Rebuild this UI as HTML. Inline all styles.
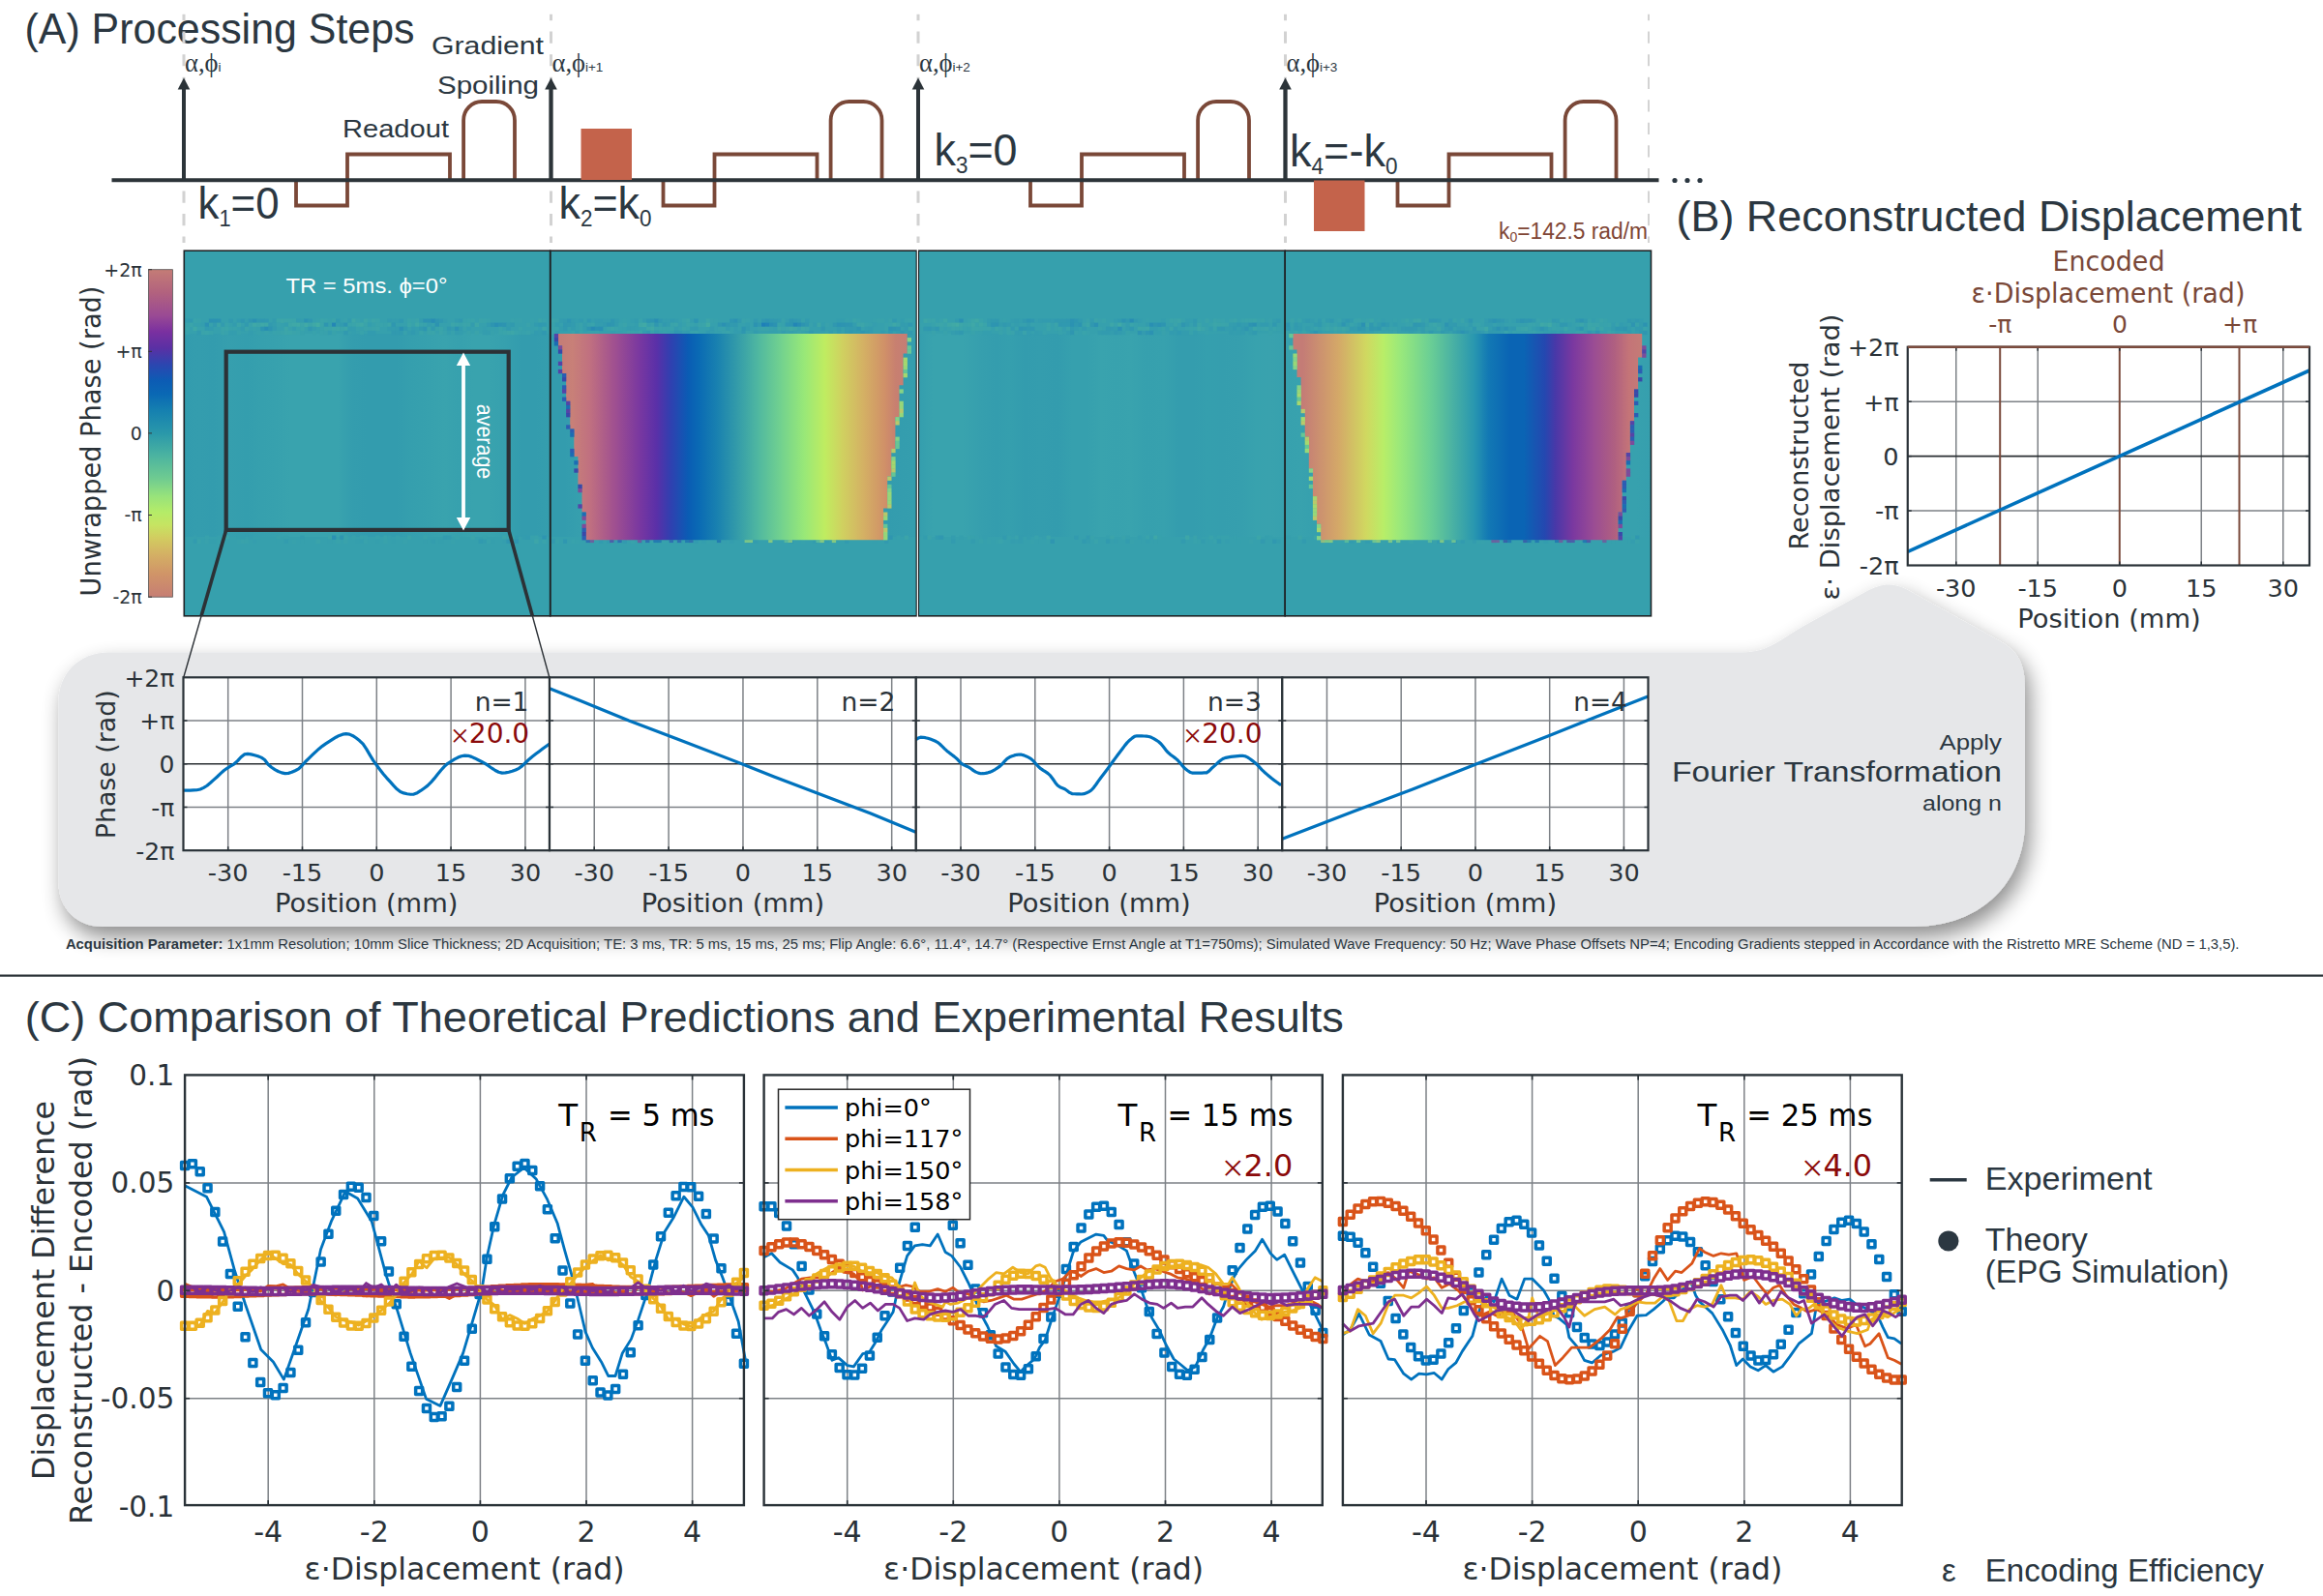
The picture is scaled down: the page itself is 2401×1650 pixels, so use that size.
<!DOCTYPE html>
<html><head><meta charset="utf-8"><title>Figure</title><style>html,body{margin:0;padding:0;background:#fff;overflow:hidden}svg{display:block}</style></head><body>
<svg width="2401" height="1650" viewBox="0 0 2401 1650"><defs><filter id="sh" x="-10%" y="-20%" width="125%" height="150%"><feGaussianBlur in="SourceAlpha" stdDeviation="11"/><feOffset dx="5" dy="11" result="o"/><feComponentTransfer><feFuncA type="linear" slope="0.45"/></feComponentTransfer><feMerge><feMergeNode/><feMergeNode in="SourceGraphic"/></feMerge></filter><linearGradient id="st0" gradientUnits="userSpaceOnUse" x1="190.3" y1="0" x2="568.7" y2="0"><stop offset="0" stop-color="#339cae"/><stop offset="0.04" stop-color="#349dae"/><stop offset="0.08" stop-color="#339cae"/><stop offset="0.12" stop-color="#369fae"/><stop offset="0.17" stop-color="#349eae"/><stop offset="0.21" stop-color="#36a0ae"/><stop offset="0.25" stop-color="#37a1ae"/><stop offset="0.29" stop-color="#39a3ae"/><stop offset="0.33" stop-color="#39a3ae"/><stop offset="0.38" stop-color="#39a3ae"/><stop offset="0.42" stop-color="#39a3ae"/><stop offset="0.46" stop-color="#349dae"/><stop offset="0.5" stop-color="#339cae"/><stop offset="0.54" stop-color="#339cae"/><stop offset="0.58" stop-color="#339cae"/><stop offset="0.62" stop-color="#359fae"/><stop offset="0.67" stop-color="#37a1ae"/><stop offset="0.71" stop-color="#39a3ae"/><stop offset="0.75" stop-color="#37a1ae"/><stop offset="0.79" stop-color="#39a3ae"/><stop offset="0.83" stop-color="#39a3ae"/><stop offset="0.88" stop-color="#36a0ae"/><stop offset="0.92" stop-color="#339cae"/><stop offset="0.96" stop-color="#339cae"/><stop offset="1" stop-color="#359eae"/></linearGradient><linearGradient id="st1" gradientUnits="userSpaceOnUse" x1="568.7" y1="0" x2="947.4" y2="0"><stop offset="0" stop-color="#339cae"/><stop offset="0.04" stop-color="#339cae"/><stop offset="0.08" stop-color="#369fae"/><stop offset="0.12" stop-color="#38a2ae"/><stop offset="0.17" stop-color="#39a3ae"/><stop offset="0.21" stop-color="#39a3ae"/><stop offset="0.25" stop-color="#36a0ae"/><stop offset="0.29" stop-color="#37a1ae"/><stop offset="0.33" stop-color="#359eae"/><stop offset="0.38" stop-color="#349dae"/><stop offset="0.42" stop-color="#339cae"/><stop offset="0.46" stop-color="#359fae"/><stop offset="0.5" stop-color="#339cae"/><stop offset="0.54" stop-color="#37a1ae"/><stop offset="0.58" stop-color="#38a2ae"/><stop offset="0.62" stop-color="#39a3ae"/><stop offset="0.67" stop-color="#37a1ae"/><stop offset="0.71" stop-color="#37a1ae"/><stop offset="0.75" stop-color="#36a0ae"/><stop offset="0.79" stop-color="#349dae"/><stop offset="0.83" stop-color="#339cae"/><stop offset="0.88" stop-color="#339cae"/><stop offset="0.92" stop-color="#339cae"/><stop offset="0.96" stop-color="#349dae"/><stop offset="1" stop-color="#359eae"/></linearGradient><linearGradient id="st2" gradientUnits="userSpaceOnUse" x1="949.3" y1="0" x2="1328.2" y2="0"><stop offset="0" stop-color="#349eae"/><stop offset="0.04" stop-color="#39a3ae"/><stop offset="0.08" stop-color="#39a3ae"/><stop offset="0.12" stop-color="#39a3ae"/><stop offset="0.17" stop-color="#369fae"/><stop offset="0.21" stop-color="#349dae"/><stop offset="0.25" stop-color="#359fae"/><stop offset="0.29" stop-color="#339cae"/><stop offset="0.33" stop-color="#349dae"/><stop offset="0.38" stop-color="#339cae"/><stop offset="0.42" stop-color="#36a0ae"/><stop offset="0.46" stop-color="#36a0ae"/><stop offset="0.5" stop-color="#39a3ae"/><stop offset="0.54" stop-color="#38a2ae"/><stop offset="0.58" stop-color="#39a3ae"/><stop offset="0.62" stop-color="#36a0ae"/><stop offset="0.67" stop-color="#37a1ae"/><stop offset="0.71" stop-color="#349dae"/><stop offset="0.75" stop-color="#349dae"/><stop offset="0.79" stop-color="#359fae"/><stop offset="0.83" stop-color="#359eae"/><stop offset="0.88" stop-color="#369fae"/><stop offset="0.92" stop-color="#38a2ae"/><stop offset="0.96" stop-color="#39a2ae"/><stop offset="1" stop-color="#37a1ae"/></linearGradient><linearGradient id="st3" gradientUnits="userSpaceOnUse" x1="1328.2" y1="0" x2="1706.5" y2="0"><stop offset="0" stop-color="#37a1ae"/><stop offset="0.04" stop-color="#38a2ae"/><stop offset="0.08" stop-color="#36a0ae"/><stop offset="0.12" stop-color="#349dae"/><stop offset="0.17" stop-color="#36a0ae"/><stop offset="0.21" stop-color="#339cae"/><stop offset="0.25" stop-color="#359eae"/><stop offset="0.29" stop-color="#349dae"/><stop offset="0.33" stop-color="#38a2ae"/><stop offset="0.38" stop-color="#39a3ae"/><stop offset="0.42" stop-color="#39a3ae"/><stop offset="0.46" stop-color="#39a3ae"/><stop offset="0.5" stop-color="#39a3ae"/><stop offset="0.54" stop-color="#39a3ae"/><stop offset="0.58" stop-color="#339cae"/><stop offset="0.62" stop-color="#349dae"/><stop offset="0.67" stop-color="#339dae"/><stop offset="0.71" stop-color="#339cae"/><stop offset="0.75" stop-color="#38a1ae"/><stop offset="0.79" stop-color="#38a2ae"/><stop offset="0.83" stop-color="#38a1ae"/><stop offset="0.88" stop-color="#38a2ae"/><stop offset="0.92" stop-color="#37a1ae"/><stop offset="0.96" stop-color="#37a1ae"/><stop offset="1" stop-color="#369fae"/></linearGradient><linearGradient id="g2" gradientUnits="userSpaceOnUse" x1="577" y1="0" x2="940" y2="0"><stop offset="0" stop-color="#c47c76"/><stop offset="0.04" stop-color="#c88078"/><stop offset="0.09" stop-color="#c07080"/><stop offset="0.16" stop-color="#a05090"/><stop offset="0.23" stop-color="#7a38a0"/><stop offset="0.28" stop-color="#5a30a8"/><stop offset="0.32" stop-color="#3040b0"/><stop offset="0.37" stop-color="#0a5cb4"/><stop offset="0.4" stop-color="#0a6ab4"/><stop offset="0.45" stop-color="#1880b0"/><stop offset="0.52" stop-color="#38a0a8"/><stop offset="0.57" stop-color="#50b8a0"/><stop offset="0.63" stop-color="#70d090"/><stop offset="0.7" stop-color="#98e878"/><stop offset="0.76" stop-color="#c0ec60"/><stop offset="0.81" stop-color="#d0d060"/><stop offset="0.87" stop-color="#d4b064"/><stop offset="0.93" stop-color="#d09068"/><stop offset="0.96" stop-color="#c88070"/><stop offset="1" stop-color="#c47c76"/></linearGradient><linearGradient id="g4" gradientUnits="userSpaceOnUse" x1="1336" y1="0" x2="1698" y2="0"><stop offset="0" stop-color="#c47c76"/><stop offset="0.03" stop-color="#c47c76"/><stop offset="0.13" stop-color="#d4a868"/><stop offset="0.21" stop-color="#d0d860"/><stop offset="0.26" stop-color="#b8ee68"/><stop offset="0.31" stop-color="#98e87c"/><stop offset="0.39" stop-color="#6cd094"/><stop offset="0.46" stop-color="#48b0a4"/><stop offset="0.52" stop-color="#2896b0"/><stop offset="0.56" stop-color="#1278b4"/><stop offset="0.62" stop-color="#0a64b4"/><stop offset="0.66" stop-color="#0a64b4"/><stop offset="0.72" stop-color="#2448b0"/><stop offset="0.75" stop-color="#4838a8"/><stop offset="0.8" stop-color="#7a38a0"/><stop offset="0.86" stop-color="#9a4c94"/><stop offset="0.92" stop-color="#b06080"/><stop offset="0.96" stop-color="#c47478"/><stop offset="1" stop-color="#c47c76"/></linearGradient><linearGradient id="gcb" gradientUnits="userSpaceOnUse" x1="0" y1="278.7" x2="0" y2="617.2"><stop offset="0" stop-color="#c47c76"/><stop offset="0.07" stop-color="#b2627e"/><stop offset="0.14" stop-color="#9a4a94"/><stop offset="0.19" stop-color="#7a30a0"/><stop offset="0.24" stop-color="#5a30a4"/><stop offset="0.29" stop-color="#2c46b0"/><stop offset="0.34" stop-color="#0c5cb4"/><stop offset="0.38" stop-color="#0a68b4"/><stop offset="0.43" stop-color="#1580b0"/><stop offset="0.5" stop-color="#2a98aa"/><stop offset="0.57" stop-color="#4cb4a0"/><stop offset="0.64" stop-color="#70cc90"/><stop offset="0.69" stop-color="#96e27c"/><stop offset="0.74" stop-color="#b4ec68"/><stop offset="0.78" stop-color="#c6e462"/><stop offset="0.82" stop-color="#d2cc60"/><stop offset="0.87" stop-color="#d4b064"/><stop offset="0.93" stop-color="#d09468"/><stop offset="1" stop-color="#c67e74"/></linearGradient><clipPath id="cc0"><rect x="185.1" y="1111.4" width="589.8" height="444.7"/></clipPath><clipPath id="cc1"><rect x="783.6" y="1111.4" width="589.2" height="444.7"/></clipPath><clipPath id="cc2"><rect x="1381.9" y="1111.4" width="589.8" height="444.7"/></clipPath></defs><rect width="2401" height="1650" fill="#ffffff"/><text x="25.5" y="45.3" font-family='"Liberation Sans", sans-serif' font-size="45" fill="#2b3741" textLength="403" lengthAdjust="spacingAndGlyphs">(A) Processing Steps</text>
<line x1="190" y1="14.7" x2="190" y2="251" stroke="#d2d2d2" stroke-width="3" stroke-dasharray="12.2 11.35" stroke-dashoffset="5.65"/>
<line x1="569.5" y1="14.7" x2="569.5" y2="251" stroke="#d2d2d2" stroke-width="3" stroke-dasharray="12.2 11.35" stroke-dashoffset="5.65"/>
<line x1="949" y1="14.7" x2="949" y2="251" stroke="#d2d2d2" stroke-width="3" stroke-dasharray="12.2 11.35" stroke-dashoffset="5.65"/>
<line x1="1328.5" y1="14.7" x2="1328.5" y2="251" stroke="#d2d2d2" stroke-width="3" stroke-dasharray="12.2 11.35" stroke-dashoffset="5.65"/>
<line x1="1704" y1="14.7" x2="1704" y2="251" stroke="#cfcfcf" stroke-width="1.8" stroke-dasharray="12.2 11.35" stroke-dashoffset="5.65"/>
<polyline points="306,186 306,212.5 359,212.5 359,159.5 465,159.5 465,186" fill="none" stroke="#7a4838" stroke-width="3.8" stroke-linejoin="miter"/>
<path d="M479.1,186 L479.1,124.4 A19,19.4 0 0 1 498.1,105 L513,105 A19,19.4 0 0 1 532,124.4 L532,186" fill="none" stroke="#7a4838" stroke-width="3.8"/>
<line x1="190" y1="186" x2="190" y2="91" stroke="#2c3439" stroke-width="3.8"/>
<path d="M190,80.5 L183.7,92.5 L196.3,92.5 Z" fill="#2c3439" stroke="none" stroke-width="1"/>
<text x="191" y="73.6" font-family='"Liberation Serif", serif' font-size="26.5" fill="#2b3741">&#945;,&#981;<tspan font-family='"Liberation Sans", sans-serif' font-size="13.5">i</tspan></text>
<polyline points="685.5,186 685.5,212.5 738.5,212.5 738.5,159.5 844.5,159.5 844.5,186" fill="none" stroke="#7a4838" stroke-width="3.8" stroke-linejoin="miter"/>
<path d="M858.6,186 L858.6,124.4 A19,19.4 0 0 1 877.6,105 L892.5,105 A19,19.4 0 0 1 911.5,124.4 L911.5,186" fill="none" stroke="#7a4838" stroke-width="3.8"/>
<line x1="569.5" y1="186" x2="569.5" y2="91" stroke="#2c3439" stroke-width="3.8"/>
<path d="M569.5,80.5 L563.2,92.5 L575.8,92.5 Z" fill="#2c3439" stroke="none" stroke-width="1"/>
<text x="570.5" y="73.6" font-family='"Liberation Serif", serif' font-size="26.5" fill="#2b3741">&#945;,&#981;<tspan font-family='"Liberation Sans", sans-serif' font-size="13.5">i+1</tspan></text>
<polyline points="1065,186 1065,212.5 1118,212.5 1118,159.5 1224,159.5 1224,186" fill="none" stroke="#7a4838" stroke-width="3.8" stroke-linejoin="miter"/>
<path d="M1238.1,186 L1238.1,124.4 A19,19.4 0 0 1 1257.1,105 L1272,105 A19,19.4 0 0 1 1291,124.4 L1291,186" fill="none" stroke="#7a4838" stroke-width="3.8"/>
<line x1="949" y1="186" x2="949" y2="91" stroke="#2c3439" stroke-width="3.8"/>
<path d="M949,80.5 L942.7,92.5 L955.3,92.5 Z" fill="#2c3439" stroke="none" stroke-width="1"/>
<text x="950" y="73.6" font-family='"Liberation Serif", serif' font-size="26.5" fill="#2b3741">&#945;,&#981;<tspan font-family='"Liberation Sans", sans-serif' font-size="13.5">i+2</tspan></text>
<polyline points="1444.5,186 1444.5,212.5 1497.5,212.5 1497.5,159.5 1603.5,159.5 1603.5,186" fill="none" stroke="#7a4838" stroke-width="3.8" stroke-linejoin="miter"/>
<path d="M1617.6,186 L1617.6,124.4 A19,19.4 0 0 1 1636.6,105 L1651.5,105 A19,19.4 0 0 1 1670.5,124.4 L1670.5,186" fill="none" stroke="#7a4838" stroke-width="3.8"/>
<line x1="1328.5" y1="186" x2="1328.5" y2="91" stroke="#2c3439" stroke-width="3.8"/>
<path d="M1328.5,80.5 L1322.2,92.5 L1334.8,92.5 Z" fill="#2c3439" stroke="none" stroke-width="1"/>
<text x="1329.5" y="73.6" font-family='"Liberation Serif", serif' font-size="26.5" fill="#2b3741">&#945;,&#981;<tspan font-family='"Liberation Sans", sans-serif' font-size="13.5">i+3</tspan></text>
<line x1="115.5" y1="186.2" x2="1714.5" y2="186.2" stroke="#2c3439" stroke-width="4"/>
<line x1="190" y1="186" x2="190" y2="91" stroke="#2c3439" stroke-width="3.8"/>
<line x1="569.5" y1="186" x2="569.5" y2="91" stroke="#2c3439" stroke-width="3.8"/>
<line x1="949" y1="186" x2="949" y2="91" stroke="#2c3439" stroke-width="3.8"/>
<line x1="1328.5" y1="186" x2="1328.5" y2="91" stroke="#2c3439" stroke-width="3.8"/>
<rect x="600.5" y="133" width="52.5" height="53" fill="#c4634b"/>
<rect x="1358" y="186.5" width="52.5" height="52.5" fill="#c4634b"/>
<text x="354" y="141.6" font-family='"Liberation Sans", sans-serif' font-size="26.5" fill="#2b3741" textLength="110" lengthAdjust="spacingAndGlyphs">Readout</text>
<text x="446" y="55.5" font-family='"Liberation Sans", sans-serif' font-size="26.5" fill="#2b3741" textLength="116" lengthAdjust="spacingAndGlyphs">Gradient</text>
<text x="452" y="96.9" font-family='"Liberation Sans", sans-serif' font-size="26.5" fill="#2b3741" textLength="105" lengthAdjust="spacingAndGlyphs">Spoiling</text>
<text x="204.5" y="226" font-family='"Liberation Sans", sans-serif' font-size="47" fill="#2b3741" textLength="84" lengthAdjust="spacingAndGlyphs">k<tspan font-size="23.5" dy="8">1</tspan><tspan dy="-8">=0</tspan></text>
<text x="577.5" y="226" font-family='"Liberation Sans", sans-serif' font-size="47" fill="#2b3741" textLength="96" lengthAdjust="spacingAndGlyphs">k<tspan font-size="23.5" dy="8">2</tspan><tspan dy="-8">=k</tspan><tspan font-size="23.5" dy="8">0</tspan></text>
<text x="965.5" y="170.5" font-family='"Liberation Sans", sans-serif' font-size="47" fill="#2b3741" textLength="86" lengthAdjust="spacingAndGlyphs">k<tspan font-size="23.5" dy="8">3</tspan><tspan dy="-8">=0</tspan></text>
<text x="1333" y="172" font-family='"Liberation Sans", sans-serif' font-size="47" fill="#2b3741" textLength="111.5" lengthAdjust="spacingAndGlyphs">k<tspan font-size="23.5" dy="8">4</tspan><tspan dy="-8">=-k</tspan><tspan font-size="23.5" dy="8">0</tspan></text>
<circle cx="1731" cy="186.5" r="2.6" fill="#2b3741"/>
<circle cx="1744" cy="186.5" r="2.6" fill="#2b3741"/>
<circle cx="1757" cy="186.5" r="2.6" fill="#2b3741"/>
<text x="1549" y="246.9" font-family='"Liberation Sans", sans-serif' font-size="23.5" textLength="154" lengthAdjust="spacingAndGlyphs" fill="#7f4636">k<tspan font-size="14.5" dy="3.5">0</tspan><tspan dy="-3.5">=142.5 rad/m</tspan></text>
<path d="M112,674.5 L1800,674.5 C1830,674.5 1840,660 1870,644 L1928,612 C1944,603 1956,602 1970,609 L2062,660 C2085,672 2093,684 2093,712 L2093,848 C2093,915 2045,958 1978,958 L106,958 C80,958 60.5,940 60.5,912 L60.5,726 C60.5,696 82,674.5 112,674.5 Z" fill="#e6e7e9" stroke="none" stroke-width="1" filter="url(#sh)"/>
<rect x="190.3" y="259.2" width="378.4" height="377.6" fill="#36a0ad"/>
<rect x="568.7" y="259.2" width="378.7" height="377.6" fill="#36a0ad"/>
<rect x="949.3" y="259.2" width="378.9" height="377.6" fill="#36a0ad"/>
<rect x="1328.2" y="259.2" width="378.3" height="377.6" fill="#36a0ad"/>
<rect x="191.3" y="345" width="376.4" height="210" fill="url(#st0)"/>
<rect x="191.3" y="329.5" width="4.4" height="4.4" fill="#339cae"/>
<rect x="195.4" y="329.5" width="4.4" height="4.4" fill="#3199af"/>
<rect x="199.5" y="329.5" width="4.4" height="4.4" fill="#39a3ab"/>
<rect x="203.6" y="329.5" width="4.4" height="4.4" fill="#38a2ab"/>
<rect x="215.9" y="329.5" width="4.4" height="4.4" fill="#2b91b2"/>
<rect x="220" y="329.5" width="4.4" height="4.4" fill="#2b92b2"/>
<rect x="224.1" y="329.5" width="4.4" height="4.4" fill="#2c93b2"/>
<rect x="236.4" y="329.5" width="4.4" height="4.4" fill="#329aaf"/>
<rect x="244.6" y="329.5" width="4.4" height="4.4" fill="#329baf"/>
<rect x="248.7" y="329.5" width="4.4" height="4.4" fill="#2f97b0"/>
<rect x="252.8" y="329.5" width="4.4" height="4.4" fill="#349eae"/>
<rect x="256.9" y="329.5" width="4.4" height="4.4" fill="#2f96b0"/>
<rect x="261" y="329.5" width="4.4" height="4.4" fill="#2b91b2"/>
<rect x="265.1" y="329.5" width="4.4" height="4.4" fill="#3098b0"/>
<rect x="269.2" y="329.5" width="4.4" height="4.4" fill="#2f97b0"/>
<rect x="273.3" y="329.5" width="4.4" height="4.4" fill="#3098b0"/>
<rect x="281.5" y="329.5" width="4.4" height="4.4" fill="#339cae"/>
<rect x="285.6" y="329.5" width="4.4" height="4.4" fill="#3ba5a9"/>
<rect x="289.7" y="329.5" width="4.4" height="4.4" fill="#3da6a8"/>
<rect x="293.8" y="329.5" width="4.4" height="4.4" fill="#3ca5a9"/>
<rect x="297.9" y="329.5" width="4.4" height="4.4" fill="#3ba5a9"/>
<rect x="302" y="329.5" width="4.4" height="4.4" fill="#3aa4aa"/>
<rect x="306.1" y="329.5" width="4.4" height="4.4" fill="#339caf"/>
<rect x="310.2" y="329.5" width="4.4" height="4.4" fill="#349dae"/>
<rect x="314.3" y="329.5" width="4.4" height="4.4" fill="#2c93b1"/>
<rect x="318.4" y="329.5" width="4.4" height="4.4" fill="#3098b0"/>
<rect x="326.6" y="329.5" width="4.4" height="4.4" fill="#37a1ac"/>
<rect x="330.7" y="329.5" width="4.4" height="4.4" fill="#3aa4aa"/>
<rect x="334.8" y="329.5" width="4.4" height="4.4" fill="#39a3ab"/>
<rect x="338.9" y="329.5" width="4.4" height="4.4" fill="#37a1ac"/>
<rect x="343" y="329.5" width="4.4" height="4.4" fill="#3aa3aa"/>
<rect x="347.1" y="329.5" width="4.4" height="4.4" fill="#319aaf"/>
<rect x="355.3" y="329.5" width="4.4" height="4.4" fill="#38a1ac"/>
<rect x="359.4" y="329.5" width="4.4" height="4.4" fill="#339cae"/>
<rect x="363.5" y="329.5" width="4.4" height="4.4" fill="#3ea7a7"/>
<rect x="367.6" y="329.5" width="4.4" height="4.4" fill="#38a2ab"/>
<rect x="375.8" y="329.5" width="4.4" height="4.4" fill="#3da6a8"/>
<rect x="379.9" y="329.5" width="4.4" height="4.4" fill="#38a2ac"/>
<rect x="384" y="329.5" width="4.4" height="4.4" fill="#3ca5a9"/>
<rect x="388.1" y="329.5" width="4.4" height="4.4" fill="#3aa4aa"/>
<rect x="400.4" y="329.5" width="4.4" height="4.4" fill="#339baf"/>
<rect x="404.5" y="329.5" width="4.4" height="4.4" fill="#349dae"/>
<rect x="408.6" y="329.5" width="4.4" height="4.4" fill="#349dae"/>
<rect x="412.7" y="329.5" width="4.4" height="4.4" fill="#3099b0"/>
<rect x="420.9" y="329.5" width="4.4" height="4.4" fill="#39a3aa"/>
<rect x="425" y="329.5" width="4.4" height="4.4" fill="#38a2ac"/>
<rect x="429.1" y="329.5" width="4.4" height="4.4" fill="#3aa3aa"/>
<rect x="433.2" y="329.5" width="4.4" height="4.4" fill="#339cae"/>
<rect x="437.3" y="329.5" width="4.4" height="4.4" fill="#2c92b2"/>
<rect x="441.4" y="329.5" width="4.4" height="4.4" fill="#2c92b2"/>
<rect x="445.5" y="329.5" width="4.4" height="4.4" fill="#288db4"/>
<rect x="449.6" y="329.5" width="4.4" height="4.4" fill="#2e95b1"/>
<rect x="453.7" y="329.5" width="4.4" height="4.4" fill="#3098b0"/>
<rect x="457.8" y="329.5" width="4.4" height="4.4" fill="#349dae"/>
<rect x="470.1" y="329.5" width="4.4" height="4.4" fill="#339cae"/>
<rect x="474.2" y="329.5" width="4.4" height="4.4" fill="#3199af"/>
<rect x="478.3" y="329.5" width="4.4" height="4.4" fill="#38a2ab"/>
<rect x="482.4" y="329.5" width="4.4" height="4.4" fill="#39a3ab"/>
<rect x="486.5" y="329.5" width="4.4" height="4.4" fill="#39a3ab"/>
<rect x="494.7" y="329.5" width="4.4" height="4.4" fill="#3aa3aa"/>
<rect x="498.8" y="329.5" width="4.4" height="4.4" fill="#39a3ab"/>
<rect x="502.9" y="329.5" width="4.4" height="4.4" fill="#38a2ab"/>
<rect x="527.5" y="329.5" width="4.4" height="4.4" fill="#38a2ac"/>
<rect x="531.6" y="329.5" width="4.4" height="4.4" fill="#37a1ac"/>
<rect x="535.7" y="329.5" width="4.4" height="4.4" fill="#38a1ac"/>
<rect x="548" y="329.5" width="4.4" height="4.4" fill="#37a1ac"/>
<rect x="556.2" y="329.5" width="4.4" height="4.4" fill="#3ba4a9"/>
<rect x="560.3" y="329.5" width="4.4" height="4.4" fill="#38a2ac"/>
<rect x="191.3" y="333.6" width="4.4" height="4.4" fill="#38a2ab"/>
<rect x="195.4" y="333.6" width="4.4" height="4.4" fill="#3aa4aa"/>
<rect x="207.7" y="333.6" width="4.4" height="4.4" fill="#349eae"/>
<rect x="211.8" y="333.6" width="4.4" height="4.4" fill="#2b91b2"/>
<rect x="215.9" y="333.6" width="4.4" height="4.4" fill="#37a1ac"/>
<rect x="220" y="333.6" width="4.4" height="4.4" fill="#329aaf"/>
<rect x="224.1" y="333.6" width="4.4" height="4.4" fill="#3ba4aa"/>
<rect x="228.2" y="333.6" width="4.4" height="4.4" fill="#329baf"/>
<rect x="232.3" y="333.6" width="4.4" height="4.4" fill="#39a3ab"/>
<rect x="240.5" y="333.6" width="4.4" height="4.4" fill="#339cae"/>
<rect x="244.6" y="333.6" width="4.4" height="4.4" fill="#3ba4aa"/>
<rect x="252.8" y="333.6" width="4.4" height="4.4" fill="#319aaf"/>
<rect x="256.9" y="333.6" width="4.4" height="4.4" fill="#39a2ab"/>
<rect x="261" y="333.6" width="4.4" height="4.4" fill="#3fa8a7"/>
<rect x="265.1" y="333.6" width="4.4" height="4.4" fill="#3ca5a9"/>
<rect x="269.2" y="333.6" width="4.4" height="4.4" fill="#3fa8a7"/>
<rect x="273.3" y="333.6" width="4.4" height="4.4" fill="#3ea7a7"/>
<rect x="277.4" y="333.6" width="4.4" height="4.4" fill="#329aaf"/>
<rect x="281.5" y="333.6" width="4.4" height="4.4" fill="#349dae"/>
<rect x="285.6" y="333.6" width="4.4" height="4.4" fill="#38a1ac"/>
<rect x="293.8" y="333.6" width="4.4" height="4.4" fill="#349eae"/>
<rect x="297.9" y="333.6" width="4.4" height="4.4" fill="#3da6a8"/>
<rect x="302" y="333.6" width="4.4" height="4.4" fill="#3fa8a7"/>
<rect x="306.1" y="333.6" width="4.4" height="4.4" fill="#40a9a6"/>
<rect x="310.2" y="333.6" width="4.4" height="4.4" fill="#3ca5a9"/>
<rect x="314.3" y="333.6" width="4.4" height="4.4" fill="#41a9a5"/>
<rect x="318.4" y="333.6" width="4.4" height="4.4" fill="#3ba4a9"/>
<rect x="322.5" y="333.6" width="4.4" height="4.4" fill="#3fa8a6"/>
<rect x="326.6" y="333.6" width="4.4" height="4.4" fill="#43aca4"/>
<rect x="330.7" y="333.6" width="4.4" height="4.4" fill="#3aa4aa"/>
<rect x="334.8" y="333.6" width="4.4" height="4.4" fill="#2e96b0"/>
<rect x="343" y="333.6" width="4.4" height="4.4" fill="#2487b5"/>
<rect x="347.1" y="333.6" width="4.4" height="4.4" fill="#349dae"/>
<rect x="351.2" y="333.6" width="4.4" height="4.4" fill="#329baf"/>
<rect x="355.3" y="333.6" width="4.4" height="4.4" fill="#2d94b1"/>
<rect x="359.4" y="333.6" width="4.4" height="4.4" fill="#39a3ab"/>
<rect x="363.5" y="333.6" width="4.4" height="4.4" fill="#3aa4aa"/>
<rect x="367.6" y="333.6" width="4.4" height="4.4" fill="#3da6a8"/>
<rect x="371.7" y="333.6" width="4.4" height="4.4" fill="#3fa8a7"/>
<rect x="375.8" y="333.6" width="4.4" height="4.4" fill="#3aa3aa"/>
<rect x="379.9" y="333.6" width="4.4" height="4.4" fill="#349eae"/>
<rect x="384" y="333.6" width="4.4" height="4.4" fill="#37a1ac"/>
<rect x="388.1" y="333.6" width="4.4" height="4.4" fill="#3aa3aa"/>
<rect x="392.2" y="333.6" width="4.4" height="4.4" fill="#39a3ab"/>
<rect x="396.3" y="333.6" width="4.4" height="4.4" fill="#38a2ab"/>
<rect x="400.4" y="333.6" width="4.4" height="4.4" fill="#3ca5a9"/>
<rect x="404.5" y="333.6" width="4.4" height="4.4" fill="#2f97b0"/>
<rect x="420.9" y="333.6" width="4.4" height="4.4" fill="#3ba5a9"/>
<rect x="425" y="333.6" width="4.4" height="4.4" fill="#38a2ab"/>
<rect x="429.1" y="333.6" width="4.4" height="4.4" fill="#3fa8a7"/>
<rect x="433.2" y="333.6" width="4.4" height="4.4" fill="#39a3ab"/>
<rect x="437.3" y="333.6" width="4.4" height="4.4" fill="#38a2ab"/>
<rect x="441.4" y="333.6" width="4.4" height="4.4" fill="#349dae"/>
<rect x="449.6" y="333.6" width="4.4" height="4.4" fill="#2c93b1"/>
<rect x="466" y="333.6" width="4.4" height="4.4" fill="#3ca5a9"/>
<rect x="470.1" y="333.6" width="4.4" height="4.4" fill="#3aa4aa"/>
<rect x="474.2" y="333.6" width="4.4" height="4.4" fill="#38a2ab"/>
<rect x="478.3" y="333.6" width="4.4" height="4.4" fill="#3ba4aa"/>
<rect x="482.4" y="333.6" width="4.4" height="4.4" fill="#3ba4a9"/>
<rect x="486.5" y="333.6" width="4.4" height="4.4" fill="#339cae"/>
<rect x="490.6" y="333.6" width="4.4" height="4.4" fill="#3da6a8"/>
<rect x="502.9" y="333.6" width="4.4" height="4.4" fill="#329baf"/>
<rect x="507" y="333.6" width="4.4" height="4.4" fill="#2d95b1"/>
<rect x="511.1" y="333.6" width="4.4" height="4.4" fill="#298fb3"/>
<rect x="515.2" y="333.6" width="4.4" height="4.4" fill="#2c93b2"/>
<rect x="519.3" y="333.6" width="4.4" height="4.4" fill="#2d94b1"/>
<rect x="523.4" y="333.6" width="4.4" height="4.4" fill="#339cae"/>
<rect x="527.5" y="333.6" width="4.4" height="4.4" fill="#319aaf"/>
<rect x="543.9" y="333.6" width="4.4" height="4.4" fill="#39a2ab"/>
<rect x="552.1" y="333.6" width="4.4" height="4.4" fill="#329baf"/>
<rect x="556.2" y="333.6" width="4.4" height="4.4" fill="#3099b0"/>
<rect x="560.3" y="333.6" width="4.4" height="4.4" fill="#319aaf"/>
<rect x="191.3" y="337.7" width="4.4" height="4.4" fill="#3aa4aa"/>
<rect x="199.5" y="337.7" width="4.4" height="4.4" fill="#3ea8a7"/>
<rect x="203.6" y="337.7" width="4.4" height="4.4" fill="#38a2ac"/>
<rect x="207.7" y="337.7" width="4.4" height="4.4" fill="#38a2ac"/>
<rect x="211.8" y="337.7" width="4.4" height="4.4" fill="#329baf"/>
<rect x="215.9" y="337.7" width="4.4" height="4.4" fill="#339caf"/>
<rect x="228.2" y="337.7" width="4.4" height="4.4" fill="#3ba4aa"/>
<rect x="232.3" y="337.7" width="4.4" height="4.4" fill="#3ba5a9"/>
<rect x="236.4" y="337.7" width="4.4" height="4.4" fill="#38a2ab"/>
<rect x="240.5" y="337.7" width="4.4" height="4.4" fill="#38a2ab"/>
<rect x="248.7" y="337.7" width="4.4" height="4.4" fill="#339cae"/>
<rect x="252.8" y="337.7" width="4.4" height="4.4" fill="#3aa3aa"/>
<rect x="261" y="337.7" width="4.4" height="4.4" fill="#37a1ac"/>
<rect x="269.2" y="337.7" width="4.4" height="4.4" fill="#2d95b1"/>
<rect x="273.3" y="337.7" width="4.4" height="4.4" fill="#288eb3"/>
<rect x="277.4" y="337.7" width="4.4" height="4.4" fill="#2e95b1"/>
<rect x="281.5" y="337.7" width="4.4" height="4.4" fill="#339baf"/>
<rect x="293.8" y="337.7" width="4.4" height="4.4" fill="#3da6a8"/>
<rect x="297.9" y="337.7" width="4.4" height="4.4" fill="#38a1ac"/>
<rect x="302" y="337.7" width="4.4" height="4.4" fill="#349dae"/>
<rect x="306.1" y="337.7" width="4.4" height="4.4" fill="#38a2ac"/>
<rect x="310.2" y="337.7" width="4.4" height="4.4" fill="#3aa4aa"/>
<rect x="318.4" y="337.7" width="4.4" height="4.4" fill="#3098b0"/>
<rect x="322.5" y="337.7" width="4.4" height="4.4" fill="#349dae"/>
<rect x="330.7" y="337.7" width="4.4" height="4.4" fill="#38a2ab"/>
<rect x="334.8" y="337.7" width="4.4" height="4.4" fill="#3ba4a9"/>
<rect x="338.9" y="337.7" width="4.4" height="4.4" fill="#3aa4aa"/>
<rect x="343" y="337.7" width="4.4" height="4.4" fill="#3da6a8"/>
<rect x="347.1" y="337.7" width="4.4" height="4.4" fill="#3da6a8"/>
<rect x="351.2" y="337.7" width="4.4" height="4.4" fill="#3aa4aa"/>
<rect x="355.3" y="337.7" width="4.4" height="4.4" fill="#3da6a8"/>
<rect x="359.4" y="337.7" width="4.4" height="4.4" fill="#339dae"/>
<rect x="363.5" y="337.7" width="4.4" height="4.4" fill="#349dae"/>
<rect x="367.6" y="337.7" width="4.4" height="4.4" fill="#37a1ac"/>
<rect x="371.7" y="337.7" width="4.4" height="4.4" fill="#37a1ac"/>
<rect x="375.8" y="337.7" width="4.4" height="4.4" fill="#3aa3aa"/>
<rect x="379.9" y="337.7" width="4.4" height="4.4" fill="#39a2ab"/>
<rect x="384" y="337.7" width="4.4" height="4.4" fill="#3aa3aa"/>
<rect x="388.1" y="337.7" width="4.4" height="4.4" fill="#3ba4aa"/>
<rect x="400.4" y="337.7" width="4.4" height="4.4" fill="#339cae"/>
<rect x="404.5" y="337.7" width="4.4" height="4.4" fill="#339cae"/>
<rect x="408.6" y="337.7" width="4.4" height="4.4" fill="#339baf"/>
<rect x="412.7" y="337.7" width="4.4" height="4.4" fill="#2b91b2"/>
<rect x="416.8" y="337.7" width="4.4" height="4.4" fill="#319aaf"/>
<rect x="425" y="337.7" width="4.4" height="4.4" fill="#339caf"/>
<rect x="429.1" y="337.7" width="4.4" height="4.4" fill="#349eae"/>
<rect x="433.2" y="337.7" width="4.4" height="4.4" fill="#319aaf"/>
<rect x="437.3" y="337.7" width="4.4" height="4.4" fill="#2e96b1"/>
<rect x="441.4" y="337.7" width="4.4" height="4.4" fill="#39a3ab"/>
<rect x="445.5" y="337.7" width="4.4" height="4.4" fill="#319aaf"/>
<rect x="449.6" y="337.7" width="4.4" height="4.4" fill="#38a2ab"/>
<rect x="453.7" y="337.7" width="4.4" height="4.4" fill="#3aa4aa"/>
<rect x="461.9" y="337.7" width="4.4" height="4.4" fill="#3199af"/>
<rect x="466" y="337.7" width="4.4" height="4.4" fill="#339cae"/>
<rect x="470.1" y="337.7" width="4.4" height="4.4" fill="#2c93b2"/>
<rect x="474.2" y="337.7" width="4.4" height="4.4" fill="#339cae"/>
<rect x="478.3" y="337.7" width="4.4" height="4.4" fill="#38a1ac"/>
<rect x="482.4" y="337.7" width="4.4" height="4.4" fill="#349eae"/>
<rect x="498.8" y="337.7" width="4.4" height="4.4" fill="#359eae"/>
<rect x="515.2" y="337.7" width="4.4" height="4.4" fill="#39a3ab"/>
<rect x="523.4" y="337.7" width="4.4" height="4.4" fill="#329baf"/>
<rect x="535.7" y="337.7" width="4.4" height="4.4" fill="#39a3ab"/>
<rect x="552.1" y="337.7" width="4.4" height="4.4" fill="#37a1ac"/>
<rect x="556.2" y="337.7" width="4.4" height="4.4" fill="#349eae"/>
<rect x="560.3" y="337.7" width="4.4" height="4.4" fill="#3ca5a9"/>
<rect x="191.3" y="341.8" width="4.4" height="4.4" fill="#38a1ac"/>
<rect x="203.6" y="341.8" width="4.4" height="4.4" fill="#329aaf"/>
<rect x="207.7" y="341.8" width="4.4" height="4.4" fill="#3aa3aa"/>
<rect x="211.8" y="341.8" width="4.4" height="4.4" fill="#3aa4aa"/>
<rect x="215.9" y="341.8" width="4.4" height="4.4" fill="#38a2ab"/>
<rect x="228.2" y="341.8" width="4.4" height="4.4" fill="#3aa3aa"/>
<rect x="232.3" y="341.8" width="4.4" height="4.4" fill="#38a2ac"/>
<rect x="236.4" y="341.8" width="4.4" height="4.4" fill="#349dae"/>
<rect x="240.5" y="341.8" width="4.4" height="4.4" fill="#349dae"/>
<rect x="244.6" y="341.8" width="4.4" height="4.4" fill="#37a1ac"/>
<rect x="256.9" y="341.8" width="4.4" height="4.4" fill="#349dae"/>
<rect x="265.1" y="341.8" width="4.4" height="4.4" fill="#37a1ac"/>
<rect x="273.3" y="341.8" width="4.4" height="4.4" fill="#38a1ac"/>
<rect x="281.5" y="341.8" width="4.4" height="4.4" fill="#38a2ac"/>
<rect x="285.6" y="341.8" width="4.4" height="4.4" fill="#38a2ab"/>
<rect x="289.7" y="341.8" width="4.4" height="4.4" fill="#3aa3aa"/>
<rect x="293.8" y="341.8" width="4.4" height="4.4" fill="#3ca5a9"/>
<rect x="297.9" y="341.8" width="4.4" height="4.4" fill="#3ba5a9"/>
<rect x="302" y="341.8" width="4.4" height="4.4" fill="#3aa3aa"/>
<rect x="306.1" y="341.8" width="4.4" height="4.4" fill="#39a3ab"/>
<rect x="310.2" y="341.8" width="4.4" height="4.4" fill="#37a1ac"/>
<rect x="322.5" y="341.8" width="4.4" height="4.4" fill="#38a2ac"/>
<rect x="330.7" y="341.8" width="4.4" height="4.4" fill="#38a2ac"/>
<rect x="334.8" y="341.8" width="4.4" height="4.4" fill="#38a1ac"/>
<rect x="338.9" y="341.8" width="4.4" height="4.4" fill="#339dae"/>
<rect x="343" y="341.8" width="4.4" height="4.4" fill="#38a2ab"/>
<rect x="355.3" y="341.8" width="4.4" height="4.4" fill="#3199af"/>
<rect x="363.5" y="341.8" width="4.4" height="4.4" fill="#349eae"/>
<rect x="371.7" y="341.8" width="4.4" height="4.4" fill="#38a2ab"/>
<rect x="379.9" y="341.8" width="4.4" height="4.4" fill="#329baf"/>
<rect x="384" y="341.8" width="4.4" height="4.4" fill="#329baf"/>
<rect x="404.5" y="341.8" width="4.4" height="4.4" fill="#3199af"/>
<rect x="408.6" y="341.8" width="4.4" height="4.4" fill="#319aaf"/>
<rect x="412.7" y="341.8" width="4.4" height="4.4" fill="#319aaf"/>
<rect x="416.8" y="341.8" width="4.4" height="4.4" fill="#37a1ac"/>
<rect x="420.9" y="341.8" width="4.4" height="4.4" fill="#339cae"/>
<rect x="425" y="341.8" width="4.4" height="4.4" fill="#319aaf"/>
<rect x="429.1" y="341.8" width="4.4" height="4.4" fill="#349eae"/>
<rect x="433.2" y="341.8" width="4.4" height="4.4" fill="#39a3ab"/>
<rect x="441.4" y="341.8" width="4.4" height="4.4" fill="#3aa3aa"/>
<rect x="445.5" y="341.8" width="4.4" height="4.4" fill="#3aa4aa"/>
<rect x="453.7" y="341.8" width="4.4" height="4.4" fill="#3ba4aa"/>
<rect x="457.8" y="341.8" width="4.4" height="4.4" fill="#38a2ac"/>
<rect x="461.9" y="341.8" width="4.4" height="4.4" fill="#349eae"/>
<rect x="466" y="341.8" width="4.4" height="4.4" fill="#37a1ac"/>
<rect x="470.1" y="341.8" width="4.4" height="4.4" fill="#339cae"/>
<rect x="474.2" y="341.8" width="4.4" height="4.4" fill="#349dae"/>
<rect x="482.4" y="341.8" width="4.4" height="4.4" fill="#39a2ab"/>
<rect x="490.6" y="341.8" width="4.4" height="4.4" fill="#3aa3aa"/>
<rect x="498.8" y="341.8" width="4.4" height="4.4" fill="#349dae"/>
<rect x="502.9" y="341.8" width="4.4" height="4.4" fill="#349dae"/>
<rect x="507" y="341.8" width="4.4" height="4.4" fill="#37a1ac"/>
<rect x="515.2" y="341.8" width="4.4" height="4.4" fill="#39a3ab"/>
<rect x="519.3" y="341.8" width="4.4" height="4.4" fill="#3aa4aa"/>
<rect x="523.4" y="341.8" width="4.4" height="4.4" fill="#3ca5a9"/>
<rect x="527.5" y="341.8" width="4.4" height="4.4" fill="#3da6a8"/>
<rect x="531.6" y="341.8" width="4.4" height="4.4" fill="#39a3ab"/>
<rect x="535.7" y="341.8" width="4.4" height="4.4" fill="#38a1ac"/>
<rect x="539.8" y="341.8" width="4.4" height="4.4" fill="#37a1ac"/>
<rect x="543.9" y="341.8" width="4.4" height="4.4" fill="#39a2ab"/>
<rect x="552.1" y="341.8" width="4.4" height="4.4" fill="#329baf"/>
<rect x="556.2" y="341.8" width="4.4" height="4.4" fill="#339cae"/>
<rect x="560.3" y="341.8" width="4.4" height="4.4" fill="#3098b0"/>
<rect x="199.5" y="553.5" width="4.4" height="4.4" fill="#369fad"/>
<rect x="211.8" y="553.5" width="4.4" height="4.4" fill="#37a1ac"/>
<rect x="224.1" y="553.5" width="4.4" height="4.4" fill="#36a0ad"/>
<rect x="232.3" y="553.5" width="4.4" height="4.4" fill="#3ca5a9"/>
<rect x="244.6" y="553.5" width="4.4" height="4.4" fill="#359fad"/>
<rect x="248.7" y="553.5" width="4.4" height="4.4" fill="#349eae"/>
<rect x="256.9" y="553.5" width="4.4" height="4.4" fill="#359eae"/>
<rect x="285.6" y="553.5" width="4.4" height="4.4" fill="#39a2ab"/>
<rect x="293.8" y="553.5" width="4.4" height="4.4" fill="#37a1ac"/>
<rect x="310.2" y="553.5" width="4.4" height="4.4" fill="#349dae"/>
<rect x="338.9" y="553.5" width="4.4" height="4.4" fill="#3ba4aa"/>
<rect x="343" y="553.5" width="4.4" height="4.4" fill="#2b91b2"/>
<rect x="351.2" y="553.5" width="4.4" height="4.4" fill="#2e96b0"/>
<rect x="355.3" y="553.5" width="4.4" height="4.4" fill="#39a3ab"/>
<rect x="363.5" y="553.5" width="4.4" height="4.4" fill="#37a1ac"/>
<rect x="371.7" y="553.5" width="4.4" height="4.4" fill="#38a2ab"/>
<rect x="375.8" y="553.5" width="4.4" height="4.4" fill="#37a1ad"/>
<rect x="388.1" y="553.5" width="4.4" height="4.4" fill="#37a1ac"/>
<rect x="396.3" y="553.5" width="4.4" height="4.4" fill="#38a2ac"/>
<rect x="400.4" y="553.5" width="4.4" height="4.4" fill="#36a0ad"/>
<rect x="408.6" y="553.5" width="4.4" height="4.4" fill="#37a1ac"/>
<rect x="420.9" y="553.5" width="4.4" height="4.4" fill="#39a3aa"/>
<rect x="437.3" y="553.5" width="4.4" height="4.4" fill="#39a3ab"/>
<rect x="457.8" y="553.5" width="4.4" height="4.4" fill="#339baf"/>
<rect x="461.9" y="553.5" width="4.4" height="4.4" fill="#339cae"/>
<rect x="470.1" y="553.5" width="4.4" height="4.4" fill="#38a2ab"/>
<rect x="486.5" y="553.5" width="4.4" height="4.4" fill="#3ba4a9"/>
<rect x="498.8" y="553.5" width="4.4" height="4.4" fill="#38a2ac"/>
<rect x="519.3" y="553.5" width="4.4" height="4.4" fill="#3ba4a9"/>
<rect x="523.4" y="553.5" width="4.4" height="4.4" fill="#38a2ab"/>
<rect x="527.5" y="553.5" width="4.4" height="4.4" fill="#3aa4aa"/>
<rect x="531.6" y="553.5" width="4.4" height="4.4" fill="#329baf"/>
<rect x="539.8" y="553.5" width="4.4" height="4.4" fill="#339cae"/>
<rect x="543.9" y="553.5" width="4.4" height="4.4" fill="#329baf"/>
<rect x="548" y="553.5" width="4.4" height="4.4" fill="#37a1ac"/>
<rect x="552.1" y="553.5" width="4.4" height="4.4" fill="#38a2ab"/>
<rect x="560.3" y="553.5" width="4.4" height="4.4" fill="#2e95b1"/>
<rect x="199.5" y="557.6" width="4.4" height="4.4" fill="#329baf"/>
<rect x="203.6" y="557.6" width="4.4" height="4.4" fill="#39a3ab"/>
<rect x="207.7" y="557.6" width="4.4" height="4.4" fill="#36a0ad"/>
<rect x="211.8" y="557.6" width="4.4" height="4.4" fill="#38a1ac"/>
<rect x="215.9" y="557.6" width="4.4" height="4.4" fill="#359fad"/>
<rect x="220" y="557.6" width="4.4" height="4.4" fill="#359fad"/>
<rect x="224.1" y="557.6" width="4.4" height="4.4" fill="#37a1ac"/>
<rect x="232.3" y="557.6" width="4.4" height="4.4" fill="#36a0ad"/>
<rect x="244.6" y="557.6" width="4.4" height="4.4" fill="#37a1ac"/>
<rect x="248.7" y="557.6" width="4.4" height="4.4" fill="#39a2ab"/>
<rect x="252.8" y="557.6" width="4.4" height="4.4" fill="#38a2ab"/>
<rect x="261" y="557.6" width="4.4" height="4.4" fill="#359eae"/>
<rect x="265.1" y="557.6" width="4.4" height="4.4" fill="#36a0ad"/>
<rect x="285.6" y="557.6" width="4.4" height="4.4" fill="#36a0ad"/>
<rect x="293.8" y="557.6" width="4.4" height="4.4" fill="#339cae"/>
<rect x="297.9" y="557.6" width="4.4" height="4.4" fill="#36a0ad"/>
<rect x="302" y="557.6" width="4.4" height="4.4" fill="#37a1ac"/>
<rect x="310.2" y="557.6" width="4.4" height="4.4" fill="#36a0ad"/>
<rect x="326.6" y="557.6" width="4.4" height="4.4" fill="#3aa3aa"/>
<rect x="338.9" y="557.6" width="4.4" height="4.4" fill="#369fad"/>
<rect x="347.1" y="557.6" width="4.4" height="4.4" fill="#38a2ab"/>
<rect x="355.3" y="557.6" width="4.4" height="4.4" fill="#39a2ab"/>
<rect x="367.6" y="557.6" width="4.4" height="4.4" fill="#359fad"/>
<rect x="371.7" y="557.6" width="4.4" height="4.4" fill="#349eae"/>
<rect x="375.8" y="557.6" width="4.4" height="4.4" fill="#38a2ac"/>
<rect x="384" y="557.6" width="4.4" height="4.4" fill="#36a0ad"/>
<rect x="388.1" y="557.6" width="4.4" height="4.4" fill="#359fad"/>
<rect x="396.3" y="557.6" width="4.4" height="4.4" fill="#38a2ab"/>
<rect x="404.5" y="557.6" width="4.4" height="4.4" fill="#359fad"/>
<rect x="416.8" y="557.6" width="4.4" height="4.4" fill="#38a1ac"/>
<rect x="437.3" y="557.6" width="4.4" height="4.4" fill="#369fad"/>
<rect x="441.4" y="557.6" width="4.4" height="4.4" fill="#36a0ad"/>
<rect x="445.5" y="557.6" width="4.4" height="4.4" fill="#349dae"/>
<rect x="453.7" y="557.6" width="4.4" height="4.4" fill="#359fad"/>
<rect x="466" y="557.6" width="4.4" height="4.4" fill="#37a1ac"/>
<rect x="494.7" y="557.6" width="4.4" height="4.4" fill="#319aaf"/>
<rect x="498.8" y="557.6" width="4.4" height="4.4" fill="#339cae"/>
<rect x="502.9" y="557.6" width="4.4" height="4.4" fill="#38a2ac"/>
<rect x="507" y="557.6" width="4.4" height="4.4" fill="#359fad"/>
<rect x="519.3" y="557.6" width="4.4" height="4.4" fill="#359eae"/>
<rect x="523.4" y="557.6" width="4.4" height="4.4" fill="#2f96b0"/>
<rect x="527.5" y="557.6" width="4.4" height="4.4" fill="#38a2ab"/>
<rect x="531.6" y="557.6" width="4.4" height="4.4" fill="#2f96b0"/>
<rect x="552.1" y="557.6" width="4.4" height="4.4" fill="#3ca5a9"/>
<rect x="560.3" y="557.6" width="4.4" height="4.4" fill="#39a3ab"/>
<rect x="569.7" y="345" width="376.7" height="210" fill="url(#st1)"/>
<rect x="569.7" y="329.5" width="4.4" height="4.4" fill="#3ba4aa"/>
<rect x="573.8" y="329.5" width="4.4" height="4.4" fill="#39a2ab"/>
<rect x="577.9" y="329.5" width="4.4" height="4.4" fill="#339cae"/>
<rect x="582" y="329.5" width="4.4" height="4.4" fill="#329aaf"/>
<rect x="586.1" y="329.5" width="4.4" height="4.4" fill="#2e95b1"/>
<rect x="590.2" y="329.5" width="4.4" height="4.4" fill="#339cae"/>
<rect x="594.3" y="329.5" width="4.4" height="4.4" fill="#349eae"/>
<rect x="598.4" y="329.5" width="4.4" height="4.4" fill="#329baf"/>
<rect x="606.6" y="329.5" width="4.4" height="4.4" fill="#3098b0"/>
<rect x="610.7" y="329.5" width="4.4" height="4.4" fill="#349eae"/>
<rect x="614.8" y="329.5" width="4.4" height="4.4" fill="#339baf"/>
<rect x="618.9" y="329.5" width="4.4" height="4.4" fill="#329baf"/>
<rect x="623" y="329.5" width="4.4" height="4.4" fill="#349dae"/>
<rect x="627.1" y="329.5" width="4.4" height="4.4" fill="#349dae"/>
<rect x="631.2" y="329.5" width="4.4" height="4.4" fill="#2f97b0"/>
<rect x="635.3" y="329.5" width="4.4" height="4.4" fill="#339cae"/>
<rect x="643.5" y="329.5" width="4.4" height="4.4" fill="#37a1ac"/>
<rect x="651.7" y="329.5" width="4.4" height="4.4" fill="#349eae"/>
<rect x="655.8" y="329.5" width="4.4" height="4.4" fill="#339cae"/>
<rect x="659.9" y="329.5" width="4.4" height="4.4" fill="#38a2ab"/>
<rect x="664" y="329.5" width="4.4" height="4.4" fill="#339cae"/>
<rect x="668.1" y="329.5" width="4.4" height="4.4" fill="#2e96b0"/>
<rect x="672.2" y="329.5" width="4.4" height="4.4" fill="#2d95b1"/>
<rect x="676.3" y="329.5" width="4.4" height="4.4" fill="#298eb3"/>
<rect x="680.4" y="329.5" width="4.4" height="4.4" fill="#3098b0"/>
<rect x="684.5" y="329.5" width="4.4" height="4.4" fill="#349dae"/>
<rect x="688.6" y="329.5" width="4.4" height="4.4" fill="#349dae"/>
<rect x="692.7" y="329.5" width="4.4" height="4.4" fill="#329baf"/>
<rect x="696.8" y="329.5" width="4.4" height="4.4" fill="#349dae"/>
<rect x="705" y="329.5" width="4.4" height="4.4" fill="#39a3ab"/>
<rect x="709.1" y="329.5" width="4.4" height="4.4" fill="#3ca5a9"/>
<rect x="713.2" y="329.5" width="4.4" height="4.4" fill="#349dae"/>
<rect x="717.3" y="329.5" width="4.4" height="4.4" fill="#2d95b1"/>
<rect x="729.6" y="329.5" width="4.4" height="4.4" fill="#3ca5a9"/>
<rect x="733.7" y="329.5" width="4.4" height="4.4" fill="#38a1ac"/>
<rect x="737.8" y="329.5" width="4.4" height="4.4" fill="#37a1ac"/>
<rect x="754.2" y="329.5" width="4.4" height="4.4" fill="#2e96b1"/>
<rect x="758.3" y="329.5" width="4.4" height="4.4" fill="#2c92b2"/>
<rect x="762.4" y="329.5" width="4.4" height="4.4" fill="#329aaf"/>
<rect x="766.5" y="329.5" width="4.4" height="4.4" fill="#39a2ab"/>
<rect x="770.6" y="329.5" width="4.4" height="4.4" fill="#38a2ac"/>
<rect x="778.8" y="329.5" width="4.4" height="4.4" fill="#329aaf"/>
<rect x="787" y="329.5" width="4.4" height="4.4" fill="#3098b0"/>
<rect x="791.1" y="329.5" width="4.4" height="4.4" fill="#2e95b1"/>
<rect x="795.2" y="329.5" width="4.4" height="4.4" fill="#3098b0"/>
<rect x="799.3" y="329.5" width="4.4" height="4.4" fill="#3199af"/>
<rect x="803.4" y="329.5" width="4.4" height="4.4" fill="#329baf"/>
<rect x="807.5" y="329.5" width="4.4" height="4.4" fill="#38a2ab"/>
<rect x="811.6" y="329.5" width="4.4" height="4.4" fill="#349dae"/>
<rect x="815.7" y="329.5" width="4.4" height="4.4" fill="#2f96b0"/>
<rect x="819.8" y="329.5" width="4.4" height="4.4" fill="#3098b0"/>
<rect x="823.9" y="329.5" width="4.4" height="4.4" fill="#329aaf"/>
<rect x="828" y="329.5" width="4.4" height="4.4" fill="#37a1ac"/>
<rect x="832.1" y="329.5" width="4.4" height="4.4" fill="#329baf"/>
<rect x="864.9" y="329.5" width="4.4" height="4.4" fill="#349eae"/>
<rect x="869" y="329.5" width="4.4" height="4.4" fill="#349eae"/>
<rect x="873.1" y="329.5" width="4.4" height="4.4" fill="#37a1ac"/>
<rect x="881.3" y="329.5" width="4.4" height="4.4" fill="#3aa4aa"/>
<rect x="885.4" y="329.5" width="4.4" height="4.4" fill="#38a2ac"/>
<rect x="901.8" y="329.5" width="4.4" height="4.4" fill="#37a1ac"/>
<rect x="905.9" y="329.5" width="4.4" height="4.4" fill="#38a2ab"/>
<rect x="910" y="329.5" width="4.4" height="4.4" fill="#38a2ab"/>
<rect x="918.2" y="329.5" width="4.4" height="4.4" fill="#39a2ab"/>
<rect x="922.3" y="329.5" width="4.4" height="4.4" fill="#319aaf"/>
<rect x="930.5" y="329.5" width="4.4" height="4.4" fill="#349eae"/>
<rect x="934.6" y="329.5" width="4.4" height="4.4" fill="#38a2ac"/>
<rect x="938.7" y="329.5" width="4.4" height="4.4" fill="#39a3ab"/>
<rect x="569.7" y="333.6" width="4.4" height="4.4" fill="#38a2ab"/>
<rect x="573.8" y="333.6" width="4.4" height="4.4" fill="#339dae"/>
<rect x="582" y="333.6" width="4.4" height="4.4" fill="#3098b0"/>
<rect x="586.1" y="333.6" width="4.4" height="4.4" fill="#3199af"/>
<rect x="590.2" y="333.6" width="4.4" height="4.4" fill="#329baf"/>
<rect x="598.4" y="333.6" width="4.4" height="4.4" fill="#39a2ab"/>
<rect x="602.5" y="333.6" width="4.4" height="4.4" fill="#349dae"/>
<rect x="606.6" y="333.6" width="4.4" height="4.4" fill="#38a1ac"/>
<rect x="610.7" y="333.6" width="4.4" height="4.4" fill="#39a3ab"/>
<rect x="614.8" y="333.6" width="4.4" height="4.4" fill="#339cae"/>
<rect x="618.9" y="333.6" width="4.4" height="4.4" fill="#339cae"/>
<rect x="623" y="333.6" width="4.4" height="4.4" fill="#319aaf"/>
<rect x="627.1" y="333.6" width="4.4" height="4.4" fill="#2e95b1"/>
<rect x="631.2" y="333.6" width="4.4" height="4.4" fill="#2f96b0"/>
<rect x="635.3" y="333.6" width="4.4" height="4.4" fill="#339cae"/>
<rect x="639.4" y="333.6" width="4.4" height="4.4" fill="#38a2ac"/>
<rect x="643.5" y="333.6" width="4.4" height="4.4" fill="#3aa3aa"/>
<rect x="655.8" y="333.6" width="4.4" height="4.4" fill="#349eae"/>
<rect x="659.9" y="333.6" width="4.4" height="4.4" fill="#3ea7a7"/>
<rect x="664" y="333.6" width="4.4" height="4.4" fill="#40a9a6"/>
<rect x="672.2" y="333.6" width="4.4" height="4.4" fill="#39a2ab"/>
<rect x="676.3" y="333.6" width="4.4" height="4.4" fill="#3097b0"/>
<rect x="684.5" y="333.6" width="4.4" height="4.4" fill="#3199af"/>
<rect x="688.6" y="333.6" width="4.4" height="4.4" fill="#339cae"/>
<rect x="692.7" y="333.6" width="4.4" height="4.4" fill="#3aa3aa"/>
<rect x="696.8" y="333.6" width="4.4" height="4.4" fill="#3ba4aa"/>
<rect x="700.9" y="333.6" width="4.4" height="4.4" fill="#359eae"/>
<rect x="705" y="333.6" width="4.4" height="4.4" fill="#37a1ac"/>
<rect x="709.1" y="333.6" width="4.4" height="4.4" fill="#3ba4a9"/>
<rect x="713.2" y="333.6" width="4.4" height="4.4" fill="#38a2ac"/>
<rect x="721.4" y="333.6" width="4.4" height="4.4" fill="#3aa3aa"/>
<rect x="725.5" y="333.6" width="4.4" height="4.4" fill="#3aa4aa"/>
<rect x="729.6" y="333.6" width="4.4" height="4.4" fill="#42aba4"/>
<rect x="741.9" y="333.6" width="4.4" height="4.4" fill="#2f97b0"/>
<rect x="746" y="333.6" width="4.4" height="4.4" fill="#2b91b2"/>
<rect x="750.1" y="333.6" width="4.4" height="4.4" fill="#2f97b0"/>
<rect x="754.2" y="333.6" width="4.4" height="4.4" fill="#319aaf"/>
<rect x="758.3" y="333.6" width="4.4" height="4.4" fill="#3199af"/>
<rect x="770.6" y="333.6" width="4.4" height="4.4" fill="#349eae"/>
<rect x="778.8" y="333.6" width="4.4" height="4.4" fill="#2c93b1"/>
<rect x="782.9" y="333.6" width="4.4" height="4.4" fill="#3099b0"/>
<rect x="787" y="333.6" width="4.4" height="4.4" fill="#1e80b8"/>
<rect x="791.1" y="333.6" width="4.4" height="4.4" fill="#2184b7"/>
<rect x="795.2" y="333.6" width="4.4" height="4.4" fill="#298fb3"/>
<rect x="799.3" y="333.6" width="4.4" height="4.4" fill="#2c92b2"/>
<rect x="803.4" y="333.6" width="4.4" height="4.4" fill="#39a3ab"/>
<rect x="807.5" y="333.6" width="4.4" height="4.4" fill="#37a1ac"/>
<rect x="811.6" y="333.6" width="4.4" height="4.4" fill="#2e96b1"/>
<rect x="815.7" y="333.6" width="4.4" height="4.4" fill="#2d95b1"/>
<rect x="819.8" y="333.6" width="4.4" height="4.4" fill="#2386b6"/>
<rect x="823.9" y="333.6" width="4.4" height="4.4" fill="#288db4"/>
<rect x="828" y="333.6" width="4.4" height="4.4" fill="#2d94b1"/>
<rect x="832.1" y="333.6" width="4.4" height="4.4" fill="#3098b0"/>
<rect x="836.2" y="333.6" width="4.4" height="4.4" fill="#38a1ac"/>
<rect x="840.3" y="333.6" width="4.4" height="4.4" fill="#349dae"/>
<rect x="844.4" y="333.6" width="4.4" height="4.4" fill="#3da6a8"/>
<rect x="848.5" y="333.6" width="4.4" height="4.4" fill="#349eae"/>
<rect x="852.6" y="333.6" width="4.4" height="4.4" fill="#38a1ac"/>
<rect x="860.8" y="333.6" width="4.4" height="4.4" fill="#3098b0"/>
<rect x="864.9" y="333.6" width="4.4" height="4.4" fill="#2c93b2"/>
<rect x="869" y="333.6" width="4.4" height="4.4" fill="#2d94b1"/>
<rect x="873.1" y="333.6" width="4.4" height="4.4" fill="#2e95b1"/>
<rect x="877.2" y="333.6" width="4.4" height="4.4" fill="#2e96b0"/>
<rect x="881.3" y="333.6" width="4.4" height="4.4" fill="#349dae"/>
<rect x="885.4" y="333.6" width="4.4" height="4.4" fill="#3ca5a9"/>
<rect x="889.5" y="333.6" width="4.4" height="4.4" fill="#3ca5a9"/>
<rect x="893.6" y="333.6" width="4.4" height="4.4" fill="#38a2ab"/>
<rect x="897.7" y="333.6" width="4.4" height="4.4" fill="#37a1ac"/>
<rect x="901.8" y="333.6" width="4.4" height="4.4" fill="#359eae"/>
<rect x="914.1" y="333.6" width="4.4" height="4.4" fill="#38a2ac"/>
<rect x="918.2" y="333.6" width="4.4" height="4.4" fill="#39a3ab"/>
<rect x="922.3" y="333.6" width="4.4" height="4.4" fill="#3ea7a7"/>
<rect x="926.4" y="333.6" width="4.4" height="4.4" fill="#3aa4aa"/>
<rect x="930.5" y="333.6" width="4.4" height="4.4" fill="#339cae"/>
<rect x="934.6" y="333.6" width="4.4" height="4.4" fill="#339dae"/>
<rect x="938.7" y="333.6" width="4.4" height="4.4" fill="#3098b0"/>
<rect x="569.7" y="337.7" width="4.4" height="4.4" fill="#39a3ab"/>
<rect x="573.8" y="337.7" width="4.4" height="4.4" fill="#39a3ab"/>
<rect x="577.9" y="337.7" width="4.4" height="4.4" fill="#349dae"/>
<rect x="582" y="337.7" width="4.4" height="4.4" fill="#3199af"/>
<rect x="590.2" y="337.7" width="4.4" height="4.4" fill="#339cae"/>
<rect x="598.4" y="337.7" width="4.4" height="4.4" fill="#38a2ac"/>
<rect x="602.5" y="337.7" width="4.4" height="4.4" fill="#349dae"/>
<rect x="606.6" y="337.7" width="4.4" height="4.4" fill="#2e95b1"/>
<rect x="610.7" y="337.7" width="4.4" height="4.4" fill="#278bb4"/>
<rect x="614.8" y="337.7" width="4.4" height="4.4" fill="#2b91b2"/>
<rect x="618.9" y="337.7" width="4.4" height="4.4" fill="#2a90b3"/>
<rect x="627.1" y="337.7" width="4.4" height="4.4" fill="#3aa3aa"/>
<rect x="631.2" y="337.7" width="4.4" height="4.4" fill="#3ba5a9"/>
<rect x="635.3" y="337.7" width="4.4" height="4.4" fill="#39a3ab"/>
<rect x="639.4" y="337.7" width="4.4" height="4.4" fill="#37a1ac"/>
<rect x="647.6" y="337.7" width="4.4" height="4.4" fill="#349dae"/>
<rect x="651.7" y="337.7" width="4.4" height="4.4" fill="#349dae"/>
<rect x="655.8" y="337.7" width="4.4" height="4.4" fill="#349eae"/>
<rect x="668.1" y="337.7" width="4.4" height="4.4" fill="#3da6a8"/>
<rect x="672.2" y="337.7" width="4.4" height="4.4" fill="#3fa8a6"/>
<rect x="676.3" y="337.7" width="4.4" height="4.4" fill="#39a2ab"/>
<rect x="680.4" y="337.7" width="4.4" height="4.4" fill="#39a3aa"/>
<rect x="684.5" y="337.7" width="4.4" height="4.4" fill="#39a2ab"/>
<rect x="688.6" y="337.7" width="4.4" height="4.4" fill="#38a2ab"/>
<rect x="692.7" y="337.7" width="4.4" height="4.4" fill="#39a3ab"/>
<rect x="696.8" y="337.7" width="4.4" height="4.4" fill="#349dae"/>
<rect x="705" y="337.7" width="4.4" height="4.4" fill="#3aa3aa"/>
<rect x="709.1" y="337.7" width="4.4" height="4.4" fill="#38a2ab"/>
<rect x="713.2" y="337.7" width="4.4" height="4.4" fill="#329baf"/>
<rect x="717.3" y="337.7" width="4.4" height="4.4" fill="#329aaf"/>
<rect x="733.7" y="337.7" width="4.4" height="4.4" fill="#339cae"/>
<rect x="741.9" y="337.7" width="4.4" height="4.4" fill="#38a1ac"/>
<rect x="746" y="337.7" width="4.4" height="4.4" fill="#38a2ab"/>
<rect x="750.1" y="337.7" width="4.4" height="4.4" fill="#339cae"/>
<rect x="758.3" y="337.7" width="4.4" height="4.4" fill="#349dae"/>
<rect x="766.5" y="337.7" width="4.4" height="4.4" fill="#2e96b0"/>
<rect x="770.6" y="337.7" width="4.4" height="4.4" fill="#339cae"/>
<rect x="782.9" y="337.7" width="4.4" height="4.4" fill="#39a2ab"/>
<rect x="787" y="337.7" width="4.4" height="4.4" fill="#3aa3aa"/>
<rect x="791.1" y="337.7" width="4.4" height="4.4" fill="#3aa3aa"/>
<rect x="795.2" y="337.7" width="4.4" height="4.4" fill="#38a1ac"/>
<rect x="803.4" y="337.7" width="4.4" height="4.4" fill="#3ea7a7"/>
<rect x="807.5" y="337.7" width="4.4" height="4.4" fill="#3ba5a9"/>
<rect x="811.6" y="337.7" width="4.4" height="4.4" fill="#3da6a8"/>
<rect x="815.7" y="337.7" width="4.4" height="4.4" fill="#40a9a5"/>
<rect x="819.8" y="337.7" width="4.4" height="4.4" fill="#3ea7a7"/>
<rect x="823.9" y="337.7" width="4.4" height="4.4" fill="#39a3ab"/>
<rect x="828" y="337.7" width="4.4" height="4.4" fill="#3ea8a7"/>
<rect x="832.1" y="337.7" width="4.4" height="4.4" fill="#3da6a8"/>
<rect x="848.5" y="337.7" width="4.4" height="4.4" fill="#3199af"/>
<rect x="864.9" y="337.7" width="4.4" height="4.4" fill="#339cae"/>
<rect x="873.1" y="337.7" width="4.4" height="4.4" fill="#329baf"/>
<rect x="877.2" y="337.7" width="4.4" height="4.4" fill="#329aaf"/>
<rect x="881.3" y="337.7" width="4.4" height="4.4" fill="#329baf"/>
<rect x="885.4" y="337.7" width="4.4" height="4.4" fill="#2e96b0"/>
<rect x="893.6" y="337.7" width="4.4" height="4.4" fill="#349dae"/>
<rect x="897.7" y="337.7" width="4.4" height="4.4" fill="#339cae"/>
<rect x="914.1" y="337.7" width="4.4" height="4.4" fill="#39a2ab"/>
<rect x="918.2" y="337.7" width="4.4" height="4.4" fill="#2d94b1"/>
<rect x="922.3" y="337.7" width="4.4" height="4.4" fill="#2e95b1"/>
<rect x="926.4" y="337.7" width="4.4" height="4.4" fill="#3097b0"/>
<rect x="934.6" y="337.7" width="4.4" height="4.4" fill="#339cae"/>
<rect x="938.7" y="337.7" width="4.4" height="4.4" fill="#3ba5a9"/>
<rect x="569.7" y="341.8" width="4.4" height="4.4" fill="#38a2ab"/>
<rect x="573.8" y="341.8" width="4.4" height="4.4" fill="#329baf"/>
<rect x="590.2" y="341.8" width="4.4" height="4.4" fill="#39a3ab"/>
<rect x="594.3" y="341.8" width="4.4" height="4.4" fill="#349dae"/>
<rect x="598.4" y="341.8" width="4.4" height="4.4" fill="#39a3ab"/>
<rect x="606.6" y="341.8" width="4.4" height="4.4" fill="#37a1ac"/>
<rect x="610.7" y="341.8" width="4.4" height="4.4" fill="#37a1ac"/>
<rect x="614.8" y="341.8" width="4.4" height="4.4" fill="#37a1ac"/>
<rect x="631.2" y="341.8" width="4.4" height="4.4" fill="#349eae"/>
<rect x="643.5" y="341.8" width="4.4" height="4.4" fill="#37a1ac"/>
<rect x="647.6" y="341.8" width="4.4" height="4.4" fill="#3aa3aa"/>
<rect x="651.7" y="341.8" width="4.4" height="4.4" fill="#39a3aa"/>
<rect x="655.8" y="341.8" width="4.4" height="4.4" fill="#38a1ac"/>
<rect x="659.9" y="341.8" width="4.4" height="4.4" fill="#3aa4aa"/>
<rect x="664" y="341.8" width="4.4" height="4.4" fill="#339cae"/>
<rect x="668.1" y="341.8" width="4.4" height="4.4" fill="#3098b0"/>
<rect x="672.2" y="341.8" width="4.4" height="4.4" fill="#39a2ab"/>
<rect x="676.3" y="341.8" width="4.4" height="4.4" fill="#349dae"/>
<rect x="684.5" y="341.8" width="4.4" height="4.4" fill="#38a1ac"/>
<rect x="692.7" y="341.8" width="4.4" height="4.4" fill="#359eae"/>
<rect x="696.8" y="341.8" width="4.4" height="4.4" fill="#3098b0"/>
<rect x="700.9" y="341.8" width="4.4" height="4.4" fill="#3199af"/>
<rect x="705" y="341.8" width="4.4" height="4.4" fill="#349dae"/>
<rect x="709.1" y="341.8" width="4.4" height="4.4" fill="#339cae"/>
<rect x="713.2" y="341.8" width="4.4" height="4.4" fill="#38a2ac"/>
<rect x="717.3" y="341.8" width="4.4" height="4.4" fill="#39a3ab"/>
<rect x="729.6" y="341.8" width="4.4" height="4.4" fill="#329baf"/>
<rect x="733.7" y="341.8" width="4.4" height="4.4" fill="#349dae"/>
<rect x="746" y="341.8" width="4.4" height="4.4" fill="#38a2ac"/>
<rect x="750.1" y="341.8" width="4.4" height="4.4" fill="#3aa3aa"/>
<rect x="758.3" y="341.8" width="4.4" height="4.4" fill="#349dae"/>
<rect x="762.4" y="341.8" width="4.4" height="4.4" fill="#349dae"/>
<rect x="766.5" y="341.8" width="4.4" height="4.4" fill="#2f97b0"/>
<rect x="770.6" y="341.8" width="4.4" height="4.4" fill="#38a2ac"/>
<rect x="774.7" y="341.8" width="4.4" height="4.4" fill="#38a2ab"/>
<rect x="778.8" y="341.8" width="4.4" height="4.4" fill="#339cae"/>
<rect x="803.4" y="341.8" width="4.4" height="4.4" fill="#38a2ac"/>
<rect x="807.5" y="341.8" width="4.4" height="4.4" fill="#349dae"/>
<rect x="811.6" y="341.8" width="4.4" height="4.4" fill="#37a1ac"/>
<rect x="819.8" y="341.8" width="4.4" height="4.4" fill="#38a2ac"/>
<rect x="823.9" y="341.8" width="4.4" height="4.4" fill="#3ba4aa"/>
<rect x="828" y="341.8" width="4.4" height="4.4" fill="#38a2ab"/>
<rect x="836.2" y="341.8" width="4.4" height="4.4" fill="#329baf"/>
<rect x="852.6" y="341.8" width="4.4" height="4.4" fill="#38a2ab"/>
<rect x="856.7" y="341.8" width="4.4" height="4.4" fill="#349dae"/>
<rect x="860.8" y="341.8" width="4.4" height="4.4" fill="#38a2ab"/>
<rect x="864.9" y="341.8" width="4.4" height="4.4" fill="#339cae"/>
<rect x="873.1" y="341.8" width="4.4" height="4.4" fill="#329aaf"/>
<rect x="877.2" y="341.8" width="4.4" height="4.4" fill="#3098b0"/>
<rect x="881.3" y="341.8" width="4.4" height="4.4" fill="#339baf"/>
<rect x="885.4" y="341.8" width="4.4" height="4.4" fill="#329baf"/>
<rect x="889.5" y="341.8" width="4.4" height="4.4" fill="#2f96b0"/>
<rect x="893.6" y="341.8" width="4.4" height="4.4" fill="#329aaf"/>
<rect x="897.7" y="341.8" width="4.4" height="4.4" fill="#329baf"/>
<rect x="910" y="341.8" width="4.4" height="4.4" fill="#339cae"/>
<rect x="918.2" y="341.8" width="4.4" height="4.4" fill="#3099b0"/>
<rect x="926.4" y="341.8" width="4.4" height="4.4" fill="#339cae"/>
<rect x="930.5" y="341.8" width="4.4" height="4.4" fill="#2f97b0"/>
<rect x="934.6" y="341.8" width="4.4" height="4.4" fill="#349dae"/>
<rect x="938.7" y="341.8" width="4.4" height="4.4" fill="#3199af"/>
<rect x="614.8" y="553.5" width="4.4" height="4.4" fill="#359fad"/>
<rect x="635.3" y="553.5" width="4.4" height="4.4" fill="#36a0ad"/>
<rect x="651.7" y="553.5" width="4.4" height="4.4" fill="#39a3ab"/>
<rect x="655.8" y="553.5" width="4.4" height="4.4" fill="#38a2ac"/>
<rect x="668.1" y="553.5" width="4.4" height="4.4" fill="#349dae"/>
<rect x="676.3" y="553.5" width="4.4" height="4.4" fill="#38a1ac"/>
<rect x="684.5" y="553.5" width="4.4" height="4.4" fill="#36a0ad"/>
<rect x="696.8" y="553.5" width="4.4" height="4.4" fill="#349dae"/>
<rect x="700.9" y="553.5" width="4.4" height="4.4" fill="#37a1ac"/>
<rect x="709.1" y="553.5" width="4.4" height="4.4" fill="#339cae"/>
<rect x="721.4" y="553.5" width="4.4" height="4.4" fill="#3199af"/>
<rect x="725.5" y="553.5" width="4.4" height="4.4" fill="#339dae"/>
<rect x="729.6" y="553.5" width="4.4" height="4.4" fill="#349dae"/>
<rect x="737.8" y="553.5" width="4.4" height="4.4" fill="#339cae"/>
<rect x="741.9" y="553.5" width="4.4" height="4.4" fill="#36a0ad"/>
<rect x="750.1" y="553.5" width="4.4" height="4.4" fill="#349dae"/>
<rect x="754.2" y="553.5" width="4.4" height="4.4" fill="#329baf"/>
<rect x="762.4" y="553.5" width="4.4" height="4.4" fill="#349eae"/>
<rect x="766.5" y="553.5" width="4.4" height="4.4" fill="#38a2ab"/>
<rect x="774.7" y="553.5" width="4.4" height="4.4" fill="#349eae"/>
<rect x="782.9" y="553.5" width="4.4" height="4.4" fill="#349dae"/>
<rect x="791.1" y="553.5" width="4.4" height="4.4" fill="#359eae"/>
<rect x="795.2" y="553.5" width="4.4" height="4.4" fill="#329baf"/>
<rect x="799.3" y="553.5" width="4.4" height="4.4" fill="#39a3ab"/>
<rect x="811.6" y="553.5" width="4.4" height="4.4" fill="#3ba4aa"/>
<rect x="815.7" y="553.5" width="4.4" height="4.4" fill="#37a1ac"/>
<rect x="828" y="553.5" width="4.4" height="4.4" fill="#3ba4aa"/>
<rect x="832.1" y="553.5" width="4.4" height="4.4" fill="#359fad"/>
<rect x="840.3" y="553.5" width="4.4" height="4.4" fill="#37a1ac"/>
<rect x="848.5" y="553.5" width="4.4" height="4.4" fill="#36a0ad"/>
<rect x="852.6" y="553.5" width="4.4" height="4.4" fill="#38a2ac"/>
<rect x="856.7" y="553.5" width="4.4" height="4.4" fill="#37a1ac"/>
<rect x="873.1" y="553.5" width="4.4" height="4.4" fill="#37a1ac"/>
<rect x="885.4" y="553.5" width="4.4" height="4.4" fill="#359eae"/>
<rect x="897.7" y="553.5" width="4.4" height="4.4" fill="#36a0ad"/>
<rect x="901.8" y="553.5" width="4.4" height="4.4" fill="#339cae"/>
<rect x="910" y="553.5" width="4.4" height="4.4" fill="#359eae"/>
<rect x="914.1" y="553.5" width="4.4" height="4.4" fill="#339cae"/>
<rect x="918.2" y="553.5" width="4.4" height="4.4" fill="#2f96b0"/>
<rect x="926.4" y="553.5" width="4.4" height="4.4" fill="#37a1ac"/>
<rect x="934.6" y="553.5" width="4.4" height="4.4" fill="#3ba4a9"/>
<rect x="569.7" y="557.6" width="4.4" height="4.4" fill="#329aaf"/>
<rect x="573.8" y="557.6" width="4.4" height="4.4" fill="#38a2ab"/>
<rect x="582" y="557.6" width="4.4" height="4.4" fill="#2f97b0"/>
<rect x="586.1" y="557.6" width="4.4" height="4.4" fill="#37a0ad"/>
<rect x="590.2" y="557.6" width="4.4" height="4.4" fill="#38a2ac"/>
<rect x="594.3" y="557.6" width="4.4" height="4.4" fill="#37a1ac"/>
<rect x="606.6" y="557.6" width="4.4" height="4.4" fill="#37a1ac"/>
<rect x="610.7" y="557.6" width="4.4" height="4.4" fill="#369fad"/>
<rect x="618.9" y="557.6" width="4.4" height="4.4" fill="#329baf"/>
<rect x="627.1" y="557.6" width="4.4" height="4.4" fill="#339baf"/>
<rect x="631.2" y="557.6" width="4.4" height="4.4" fill="#38a2ab"/>
<rect x="635.3" y="557.6" width="4.4" height="4.4" fill="#349dae"/>
<rect x="643.5" y="557.6" width="4.4" height="4.4" fill="#329aaf"/>
<rect x="651.7" y="557.6" width="4.4" height="4.4" fill="#39a2ab"/>
<rect x="659.9" y="557.6" width="4.4" height="4.4" fill="#329aaf"/>
<rect x="664" y="557.6" width="4.4" height="4.4" fill="#36a0ad"/>
<rect x="672.2" y="557.6" width="4.4" height="4.4" fill="#38a2ac"/>
<rect x="680.4" y="557.6" width="4.4" height="4.4" fill="#37a1ac"/>
<rect x="684.5" y="557.6" width="4.4" height="4.4" fill="#37a1ac"/>
<rect x="696.8" y="557.6" width="4.4" height="4.4" fill="#36a0ad"/>
<rect x="700.9" y="557.6" width="4.4" height="4.4" fill="#349eae"/>
<rect x="717.3" y="557.6" width="4.4" height="4.4" fill="#329baf"/>
<rect x="725.5" y="557.6" width="4.4" height="4.4" fill="#349eae"/>
<rect x="729.6" y="557.6" width="4.4" height="4.4" fill="#37a1ac"/>
<rect x="746" y="557.6" width="4.4" height="4.4" fill="#369fad"/>
<rect x="754.2" y="557.6" width="4.4" height="4.4" fill="#349dae"/>
<rect x="770.6" y="557.6" width="4.4" height="4.4" fill="#349dae"/>
<rect x="778.8" y="557.6" width="4.4" height="4.4" fill="#339cae"/>
<rect x="791.1" y="557.6" width="4.4" height="4.4" fill="#36a0ad"/>
<rect x="811.6" y="557.6" width="4.4" height="4.4" fill="#369fad"/>
<rect x="815.7" y="557.6" width="4.4" height="4.4" fill="#3199af"/>
<rect x="828" y="557.6" width="4.4" height="4.4" fill="#37a1ac"/>
<rect x="840.3" y="557.6" width="4.4" height="4.4" fill="#339cae"/>
<rect x="852.6" y="557.6" width="4.4" height="4.4" fill="#349eae"/>
<rect x="856.7" y="557.6" width="4.4" height="4.4" fill="#36a0ad"/>
<rect x="860.8" y="557.6" width="4.4" height="4.4" fill="#36a0ad"/>
<rect x="873.1" y="557.6" width="4.4" height="4.4" fill="#329baf"/>
<rect x="901.8" y="557.6" width="4.4" height="4.4" fill="#369fad"/>
<rect x="910" y="557.6" width="4.4" height="4.4" fill="#36a0ad"/>
<rect x="914.1" y="557.6" width="4.4" height="4.4" fill="#329aaf"/>
<rect x="950.3" y="345" width="376.9" height="210" fill="url(#st2)"/>
<rect x="954.4" y="329.5" width="4.4" height="4.4" fill="#3da6a8"/>
<rect x="958.5" y="329.5" width="4.4" height="4.4" fill="#3aa3aa"/>
<rect x="962.6" y="329.5" width="4.4" height="4.4" fill="#3aa4aa"/>
<rect x="970.8" y="329.5" width="4.4" height="4.4" fill="#38a2ac"/>
<rect x="974.9" y="329.5" width="4.4" height="4.4" fill="#3da7a8"/>
<rect x="987.2" y="329.5" width="4.4" height="4.4" fill="#329baf"/>
<rect x="991.3" y="329.5" width="4.4" height="4.4" fill="#2b91b2"/>
<rect x="999.5" y="329.5" width="4.4" height="4.4" fill="#38a2ac"/>
<rect x="1003.6" y="329.5" width="4.4" height="4.4" fill="#3ca6a8"/>
<rect x="1007.7" y="329.5" width="4.4" height="4.4" fill="#3fa8a6"/>
<rect x="1011.8" y="329.5" width="4.4" height="4.4" fill="#39a3ab"/>
<rect x="1020" y="329.5" width="4.4" height="4.4" fill="#339cae"/>
<rect x="1024.1" y="329.5" width="4.4" height="4.4" fill="#319aaf"/>
<rect x="1028.2" y="329.5" width="4.4" height="4.4" fill="#3199af"/>
<rect x="1036.4" y="329.5" width="4.4" height="4.4" fill="#37a1ac"/>
<rect x="1044.6" y="329.5" width="4.4" height="4.4" fill="#349dae"/>
<rect x="1048.7" y="329.5" width="4.4" height="4.4" fill="#339cae"/>
<rect x="1052.8" y="329.5" width="4.4" height="4.4" fill="#349eae"/>
<rect x="1056.9" y="329.5" width="4.4" height="4.4" fill="#3199af"/>
<rect x="1061" y="329.5" width="4.4" height="4.4" fill="#2d95b1"/>
<rect x="1065.1" y="329.5" width="4.4" height="4.4" fill="#2f97b0"/>
<rect x="1069.2" y="329.5" width="4.4" height="4.4" fill="#359eae"/>
<rect x="1073.3" y="329.5" width="4.4" height="4.4" fill="#339cae"/>
<rect x="1077.4" y="329.5" width="4.4" height="4.4" fill="#329baf"/>
<rect x="1081.5" y="329.5" width="4.4" height="4.4" fill="#329baf"/>
<rect x="1085.6" y="329.5" width="4.4" height="4.4" fill="#339caf"/>
<rect x="1089.7" y="329.5" width="4.4" height="4.4" fill="#3199af"/>
<rect x="1093.8" y="329.5" width="4.4" height="4.4" fill="#3199af"/>
<rect x="1097.9" y="329.5" width="4.4" height="4.4" fill="#3199af"/>
<rect x="1102" y="329.5" width="4.4" height="4.4" fill="#3098b0"/>
<rect x="1106.1" y="329.5" width="4.4" height="4.4" fill="#2c93b2"/>
<rect x="1110.2" y="329.5" width="4.4" height="4.4" fill="#2e96b1"/>
<rect x="1114.3" y="329.5" width="4.4" height="4.4" fill="#329baf"/>
<rect x="1122.5" y="329.5" width="4.4" height="4.4" fill="#39a2ab"/>
<rect x="1126.6" y="329.5" width="4.4" height="4.4" fill="#339caf"/>
<rect x="1130.7" y="329.5" width="4.4" height="4.4" fill="#3aa3aa"/>
<rect x="1134.8" y="329.5" width="4.4" height="4.4" fill="#38a1ac"/>
<rect x="1138.9" y="329.5" width="4.4" height="4.4" fill="#39a3ab"/>
<rect x="1151.2" y="329.5" width="4.4" height="4.4" fill="#349dae"/>
<rect x="1155.3" y="329.5" width="4.4" height="4.4" fill="#319aaf"/>
<rect x="1159.4" y="329.5" width="4.4" height="4.4" fill="#2c93b1"/>
<rect x="1163.5" y="329.5" width="4.4" height="4.4" fill="#3098b0"/>
<rect x="1167.6" y="329.5" width="4.4" height="4.4" fill="#288db3"/>
<rect x="1171.7" y="329.5" width="4.4" height="4.4" fill="#3199af"/>
<rect x="1175.8" y="329.5" width="4.4" height="4.4" fill="#349dae"/>
<rect x="1184" y="329.5" width="4.4" height="4.4" fill="#37a1ac"/>
<rect x="1200.4" y="329.5" width="4.4" height="4.4" fill="#349eae"/>
<rect x="1204.5" y="329.5" width="4.4" height="4.4" fill="#37a1ac"/>
<rect x="1208.6" y="329.5" width="4.4" height="4.4" fill="#3aa4aa"/>
<rect x="1212.7" y="329.5" width="4.4" height="4.4" fill="#3aa3aa"/>
<rect x="1216.8" y="329.5" width="4.4" height="4.4" fill="#3ca5a9"/>
<rect x="1220.9" y="329.5" width="4.4" height="4.4" fill="#37a1ac"/>
<rect x="1225" y="329.5" width="4.4" height="4.4" fill="#349dae"/>
<rect x="1229.1" y="329.5" width="4.4" height="4.4" fill="#349eae"/>
<rect x="1233.2" y="329.5" width="4.4" height="4.4" fill="#3199af"/>
<rect x="1237.3" y="329.5" width="4.4" height="4.4" fill="#37a1ac"/>
<rect x="1245.5" y="329.5" width="4.4" height="4.4" fill="#3aa3aa"/>
<rect x="1253.7" y="329.5" width="4.4" height="4.4" fill="#3aa3aa"/>
<rect x="1257.8" y="329.5" width="4.4" height="4.4" fill="#39a2ab"/>
<rect x="1261.9" y="329.5" width="4.4" height="4.4" fill="#38a2ac"/>
<rect x="1270.1" y="329.5" width="4.4" height="4.4" fill="#39a2ab"/>
<rect x="1274.2" y="329.5" width="4.4" height="4.4" fill="#3aa4aa"/>
<rect x="1282.4" y="329.5" width="4.4" height="4.4" fill="#39a3ab"/>
<rect x="1286.5" y="329.5" width="4.4" height="4.4" fill="#3aa4aa"/>
<rect x="1290.6" y="329.5" width="4.4" height="4.4" fill="#3aa4aa"/>
<rect x="1294.7" y="329.5" width="4.4" height="4.4" fill="#3ba5a9"/>
<rect x="1298.8" y="329.5" width="4.4" height="4.4" fill="#38a2ac"/>
<rect x="1302.9" y="329.5" width="4.4" height="4.4" fill="#39a3aa"/>
<rect x="1311.1" y="329.5" width="4.4" height="4.4" fill="#38a1ac"/>
<rect x="1315.2" y="329.5" width="4.4" height="4.4" fill="#349dae"/>
<rect x="1319.3" y="329.5" width="4.4" height="4.4" fill="#329aaf"/>
<rect x="950.3" y="333.6" width="4.4" height="4.4" fill="#37a1ac"/>
<rect x="962.6" y="333.6" width="4.4" height="4.4" fill="#38a2ab"/>
<rect x="966.7" y="333.6" width="4.4" height="4.4" fill="#3ba4aa"/>
<rect x="970.8" y="333.6" width="4.4" height="4.4" fill="#3ca5a9"/>
<rect x="974.9" y="333.6" width="4.4" height="4.4" fill="#39a3ab"/>
<rect x="979" y="333.6" width="4.4" height="4.4" fill="#3ea7a7"/>
<rect x="983.1" y="333.6" width="4.4" height="4.4" fill="#40a9a6"/>
<rect x="987.2" y="333.6" width="4.4" height="4.4" fill="#43aba4"/>
<rect x="991.3" y="333.6" width="4.4" height="4.4" fill="#3da6a8"/>
<rect x="995.4" y="333.6" width="4.4" height="4.4" fill="#3aa4aa"/>
<rect x="999.5" y="333.6" width="4.4" height="4.4" fill="#3ba5a9"/>
<rect x="1003.6" y="333.6" width="4.4" height="4.4" fill="#3fa8a7"/>
<rect x="1007.7" y="333.6" width="4.4" height="4.4" fill="#39a3ab"/>
<rect x="1011.8" y="333.6" width="4.4" height="4.4" fill="#3ea7a7"/>
<rect x="1015.9" y="333.6" width="4.4" height="4.4" fill="#3aa4aa"/>
<rect x="1020" y="333.6" width="4.4" height="4.4" fill="#339caf"/>
<rect x="1024.1" y="333.6" width="4.4" height="4.4" fill="#2d95b1"/>
<rect x="1028.2" y="333.6" width="4.4" height="4.4" fill="#2d94b1"/>
<rect x="1032.3" y="333.6" width="4.4" height="4.4" fill="#339cae"/>
<rect x="1036.4" y="333.6" width="4.4" height="4.4" fill="#3199af"/>
<rect x="1040.5" y="333.6" width="4.4" height="4.4" fill="#339baf"/>
<rect x="1048.7" y="333.6" width="4.4" height="4.4" fill="#349dae"/>
<rect x="1061" y="333.6" width="4.4" height="4.4" fill="#339cae"/>
<rect x="1065.1" y="333.6" width="4.4" height="4.4" fill="#37a1ac"/>
<rect x="1077.4" y="333.6" width="4.4" height="4.4" fill="#37a1ac"/>
<rect x="1081.5" y="333.6" width="4.4" height="4.4" fill="#3aa4aa"/>
<rect x="1089.7" y="333.6" width="4.4" height="4.4" fill="#3aa3aa"/>
<rect x="1093.8" y="333.6" width="4.4" height="4.4" fill="#3098b0"/>
<rect x="1097.9" y="333.6" width="4.4" height="4.4" fill="#3099b0"/>
<rect x="1102" y="333.6" width="4.4" height="4.4" fill="#3099b0"/>
<rect x="1106.1" y="333.6" width="4.4" height="4.4" fill="#2b92b2"/>
<rect x="1110.2" y="333.6" width="4.4" height="4.4" fill="#3098b0"/>
<rect x="1114.3" y="333.6" width="4.4" height="4.4" fill="#2d94b1"/>
<rect x="1118.4" y="333.6" width="4.4" height="4.4" fill="#39a2ab"/>
<rect x="1122.5" y="333.6" width="4.4" height="4.4" fill="#3ca5a9"/>
<rect x="1126.6" y="333.6" width="4.4" height="4.4" fill="#3098b0"/>
<rect x="1130.7" y="333.6" width="4.4" height="4.4" fill="#2b91b2"/>
<rect x="1147.1" y="333.6" width="4.4" height="4.4" fill="#3da6a8"/>
<rect x="1151.2" y="333.6" width="4.4" height="4.4" fill="#38a2ac"/>
<rect x="1155.3" y="333.6" width="4.4" height="4.4" fill="#40a9a6"/>
<rect x="1159.4" y="333.6" width="4.4" height="4.4" fill="#38a1ac"/>
<rect x="1163.5" y="333.6" width="4.4" height="4.4" fill="#349dae"/>
<rect x="1167.6" y="333.6" width="4.4" height="4.4" fill="#3aa4aa"/>
<rect x="1171.7" y="333.6" width="4.4" height="4.4" fill="#37a1ac"/>
<rect x="1184" y="333.6" width="4.4" height="4.4" fill="#339cae"/>
<rect x="1188.1" y="333.6" width="4.4" height="4.4" fill="#298fb3"/>
<rect x="1192.2" y="333.6" width="4.4" height="4.4" fill="#2e95b1"/>
<rect x="1196.3" y="333.6" width="4.4" height="4.4" fill="#2c92b2"/>
<rect x="1200.4" y="333.6" width="4.4" height="4.4" fill="#2d95b1"/>
<rect x="1212.7" y="333.6" width="4.4" height="4.4" fill="#3aa3aa"/>
<rect x="1220.9" y="333.6" width="4.4" height="4.4" fill="#2f96b0"/>
<rect x="1225" y="333.6" width="4.4" height="4.4" fill="#329baf"/>
<rect x="1233.2" y="333.6" width="4.4" height="4.4" fill="#329aaf"/>
<rect x="1237.3" y="333.6" width="4.4" height="4.4" fill="#3ba4a9"/>
<rect x="1249.6" y="333.6" width="4.4" height="4.4" fill="#38a2ab"/>
<rect x="1253.7" y="333.6" width="4.4" height="4.4" fill="#3ca5a9"/>
<rect x="1257.8" y="333.6" width="4.4" height="4.4" fill="#3ba4a9"/>
<rect x="1261.9" y="333.6" width="4.4" height="4.4" fill="#3aa4aa"/>
<rect x="1266" y="333.6" width="4.4" height="4.4" fill="#3aa3aa"/>
<rect x="1270.1" y="333.6" width="4.4" height="4.4" fill="#349dae"/>
<rect x="1274.2" y="333.6" width="4.4" height="4.4" fill="#339cae"/>
<rect x="1278.3" y="333.6" width="4.4" height="4.4" fill="#3199af"/>
<rect x="1282.4" y="333.6" width="4.4" height="4.4" fill="#339caf"/>
<rect x="1286.5" y="333.6" width="4.4" height="4.4" fill="#339cae"/>
<rect x="1290.6" y="333.6" width="4.4" height="4.4" fill="#2d94b1"/>
<rect x="1294.7" y="333.6" width="4.4" height="4.4" fill="#2b91b2"/>
<rect x="1298.8" y="333.6" width="4.4" height="4.4" fill="#349eae"/>
<rect x="1302.9" y="333.6" width="4.4" height="4.4" fill="#329baf"/>
<rect x="1307" y="333.6" width="4.4" height="4.4" fill="#329baf"/>
<rect x="1315.2" y="333.6" width="4.4" height="4.4" fill="#3098b0"/>
<rect x="954.4" y="337.7" width="4.4" height="4.4" fill="#3199af"/>
<rect x="958.5" y="337.7" width="4.4" height="4.4" fill="#3098b0"/>
<rect x="962.6" y="337.7" width="4.4" height="4.4" fill="#339baf"/>
<rect x="966.7" y="337.7" width="4.4" height="4.4" fill="#3098b0"/>
<rect x="970.8" y="337.7" width="4.4" height="4.4" fill="#38a2ac"/>
<rect x="979" y="337.7" width="4.4" height="4.4" fill="#38a1ac"/>
<rect x="983.1" y="337.7" width="4.4" height="4.4" fill="#3ba4aa"/>
<rect x="987.2" y="337.7" width="4.4" height="4.4" fill="#3aa3aa"/>
<rect x="991.3" y="337.7" width="4.4" height="4.4" fill="#3aa4aa"/>
<rect x="995.4" y="337.7" width="4.4" height="4.4" fill="#38a2ac"/>
<rect x="999.5" y="337.7" width="4.4" height="4.4" fill="#37a1ac"/>
<rect x="1003.6" y="337.7" width="4.4" height="4.4" fill="#3ca5a9"/>
<rect x="1007.7" y="337.7" width="4.4" height="4.4" fill="#3ba5a9"/>
<rect x="1011.8" y="337.7" width="4.4" height="4.4" fill="#3ba4aa"/>
<rect x="1015.9" y="337.7" width="4.4" height="4.4" fill="#3aa4aa"/>
<rect x="1020" y="337.7" width="4.4" height="4.4" fill="#3ba4aa"/>
<rect x="1028.2" y="337.7" width="4.4" height="4.4" fill="#3ba5a9"/>
<rect x="1032.3" y="337.7" width="4.4" height="4.4" fill="#39a2ab"/>
<rect x="1040.5" y="337.7" width="4.4" height="4.4" fill="#3aa3aa"/>
<rect x="1044.6" y="337.7" width="4.4" height="4.4" fill="#329baf"/>
<rect x="1048.7" y="337.7" width="4.4" height="4.4" fill="#38a2ac"/>
<rect x="1052.8" y="337.7" width="4.4" height="4.4" fill="#2e96b1"/>
<rect x="1056.9" y="337.7" width="4.4" height="4.4" fill="#2f97b0"/>
<rect x="1061" y="337.7" width="4.4" height="4.4" fill="#3099b0"/>
<rect x="1065.1" y="337.7" width="4.4" height="4.4" fill="#3098b0"/>
<rect x="1081.5" y="337.7" width="4.4" height="4.4" fill="#3aa4aa"/>
<rect x="1089.7" y="337.7" width="4.4" height="4.4" fill="#38a2ab"/>
<rect x="1093.8" y="337.7" width="4.4" height="4.4" fill="#39a3ab"/>
<rect x="1097.9" y="337.7" width="4.4" height="4.4" fill="#359eae"/>
<rect x="1102" y="337.7" width="4.4" height="4.4" fill="#39a3ab"/>
<rect x="1106.1" y="337.7" width="4.4" height="4.4" fill="#319aaf"/>
<rect x="1110.2" y="337.7" width="4.4" height="4.4" fill="#339dae"/>
<rect x="1118.4" y="337.7" width="4.4" height="4.4" fill="#339baf"/>
<rect x="1134.8" y="337.7" width="4.4" height="4.4" fill="#38a2ab"/>
<rect x="1143" y="337.7" width="4.4" height="4.4" fill="#319aaf"/>
<rect x="1147.1" y="337.7" width="4.4" height="4.4" fill="#329aaf"/>
<rect x="1151.2" y="337.7" width="4.4" height="4.4" fill="#339cae"/>
<rect x="1155.3" y="337.7" width="4.4" height="4.4" fill="#2b91b2"/>
<rect x="1163.5" y="337.7" width="4.4" height="4.4" fill="#339dae"/>
<rect x="1167.6" y="337.7" width="4.4" height="4.4" fill="#3099b0"/>
<rect x="1175.8" y="337.7" width="4.4" height="4.4" fill="#3ca6a8"/>
<rect x="1179.9" y="337.7" width="4.4" height="4.4" fill="#3ba5a9"/>
<rect x="1184" y="337.7" width="4.4" height="4.4" fill="#3da6a8"/>
<rect x="1188.1" y="337.7" width="4.4" height="4.4" fill="#349dae"/>
<rect x="1192.2" y="337.7" width="4.4" height="4.4" fill="#349dae"/>
<rect x="1200.4" y="337.7" width="4.4" height="4.4" fill="#38a2ab"/>
<rect x="1204.5" y="337.7" width="4.4" height="4.4" fill="#349eae"/>
<rect x="1208.6" y="337.7" width="4.4" height="4.4" fill="#3ba4aa"/>
<rect x="1212.7" y="337.7" width="4.4" height="4.4" fill="#339cae"/>
<rect x="1225" y="337.7" width="4.4" height="4.4" fill="#38a2ac"/>
<rect x="1229.1" y="337.7" width="4.4" height="4.4" fill="#39a3ab"/>
<rect x="1233.2" y="337.7" width="4.4" height="4.4" fill="#39a3ab"/>
<rect x="1237.3" y="337.7" width="4.4" height="4.4" fill="#3ea7a7"/>
<rect x="1241.4" y="337.7" width="4.4" height="4.4" fill="#3ba4aa"/>
<rect x="1245.5" y="337.7" width="4.4" height="4.4" fill="#38a1ac"/>
<rect x="1249.6" y="337.7" width="4.4" height="4.4" fill="#349dae"/>
<rect x="1253.7" y="337.7" width="4.4" height="4.4" fill="#39a3ab"/>
<rect x="1257.8" y="337.7" width="4.4" height="4.4" fill="#319aaf"/>
<rect x="1261.9" y="337.7" width="4.4" height="4.4" fill="#3199af"/>
<rect x="1266" y="337.7" width="4.4" height="4.4" fill="#349dae"/>
<rect x="1270.1" y="337.7" width="4.4" height="4.4" fill="#349dae"/>
<rect x="1274.2" y="337.7" width="4.4" height="4.4" fill="#319aaf"/>
<rect x="1278.3" y="337.7" width="4.4" height="4.4" fill="#349eae"/>
<rect x="1282.4" y="337.7" width="4.4" height="4.4" fill="#329aaf"/>
<rect x="1286.5" y="337.7" width="4.4" height="4.4" fill="#2f96b0"/>
<rect x="1290.6" y="337.7" width="4.4" height="4.4" fill="#349eae"/>
<rect x="1294.7" y="337.7" width="4.4" height="4.4" fill="#3ba5a9"/>
<rect x="1298.8" y="337.7" width="4.4" height="4.4" fill="#38a2ac"/>
<rect x="1302.9" y="337.7" width="4.4" height="4.4" fill="#39a3ab"/>
<rect x="1307" y="337.7" width="4.4" height="4.4" fill="#3ba4aa"/>
<rect x="1315.2" y="337.7" width="4.4" height="4.4" fill="#39a3ab"/>
<rect x="1319.3" y="337.7" width="4.4" height="4.4" fill="#37a1ac"/>
<rect x="962.6" y="341.8" width="4.4" height="4.4" fill="#39a2ab"/>
<rect x="974.9" y="341.8" width="4.4" height="4.4" fill="#38a2ab"/>
<rect x="983.1" y="341.8" width="4.4" height="4.4" fill="#349dae"/>
<rect x="987.2" y="341.8" width="4.4" height="4.4" fill="#329baf"/>
<rect x="991.3" y="341.8" width="4.4" height="4.4" fill="#3199af"/>
<rect x="1003.6" y="341.8" width="4.4" height="4.4" fill="#38a2ab"/>
<rect x="1015.9" y="341.8" width="4.4" height="4.4" fill="#349eae"/>
<rect x="1020" y="341.8" width="4.4" height="4.4" fill="#349eae"/>
<rect x="1032.3" y="341.8" width="4.4" height="4.4" fill="#38a2ab"/>
<rect x="1040.5" y="341.8" width="4.4" height="4.4" fill="#39a3ab"/>
<rect x="1044.6" y="341.8" width="4.4" height="4.4" fill="#39a2ab"/>
<rect x="1048.7" y="341.8" width="4.4" height="4.4" fill="#339cae"/>
<rect x="1052.8" y="341.8" width="4.4" height="4.4" fill="#339cae"/>
<rect x="1056.9" y="341.8" width="4.4" height="4.4" fill="#39a2ab"/>
<rect x="1061" y="341.8" width="4.4" height="4.4" fill="#339caf"/>
<rect x="1069.2" y="341.8" width="4.4" height="4.4" fill="#339cae"/>
<rect x="1073.3" y="341.8" width="4.4" height="4.4" fill="#349dae"/>
<rect x="1077.4" y="341.8" width="4.4" height="4.4" fill="#37a1ac"/>
<rect x="1093.8" y="341.8" width="4.4" height="4.4" fill="#37a1ac"/>
<rect x="1102" y="341.8" width="4.4" height="4.4" fill="#339cae"/>
<rect x="1106.1" y="341.8" width="4.4" height="4.4" fill="#2f96b0"/>
<rect x="1110.2" y="341.8" width="4.4" height="4.4" fill="#38a1ac"/>
<rect x="1118.4" y="341.8" width="4.4" height="4.4" fill="#39a3ab"/>
<rect x="1122.5" y="341.8" width="4.4" height="4.4" fill="#38a1ac"/>
<rect x="1134.8" y="341.8" width="4.4" height="4.4" fill="#339cae"/>
<rect x="1138.9" y="341.8" width="4.4" height="4.4" fill="#329baf"/>
<rect x="1143" y="341.8" width="4.4" height="4.4" fill="#329baf"/>
<rect x="1147.1" y="341.8" width="4.4" height="4.4" fill="#349dae"/>
<rect x="1151.2" y="341.8" width="4.4" height="4.4" fill="#3199af"/>
<rect x="1155.3" y="341.8" width="4.4" height="4.4" fill="#339baf"/>
<rect x="1159.4" y="341.8" width="4.4" height="4.4" fill="#349eae"/>
<rect x="1163.5" y="341.8" width="4.4" height="4.4" fill="#38a2ab"/>
<rect x="1175.8" y="341.8" width="4.4" height="4.4" fill="#2d94b1"/>
<rect x="1179.9" y="341.8" width="4.4" height="4.4" fill="#339baf"/>
<rect x="1184" y="341.8" width="4.4" height="4.4" fill="#2e96b1"/>
<rect x="1188.1" y="341.8" width="4.4" height="4.4" fill="#2c92b2"/>
<rect x="1192.2" y="341.8" width="4.4" height="4.4" fill="#349eae"/>
<rect x="1196.3" y="341.8" width="4.4" height="4.4" fill="#349eae"/>
<rect x="1200.4" y="341.8" width="4.4" height="4.4" fill="#38a1ac"/>
<rect x="1208.6" y="341.8" width="4.4" height="4.4" fill="#329baf"/>
<rect x="1212.7" y="341.8" width="4.4" height="4.4" fill="#339cae"/>
<rect x="1216.8" y="341.8" width="4.4" height="4.4" fill="#3099b0"/>
<rect x="1220.9" y="341.8" width="4.4" height="4.4" fill="#339cae"/>
<rect x="1225" y="341.8" width="4.4" height="4.4" fill="#339cae"/>
<rect x="1229.1" y="341.8" width="4.4" height="4.4" fill="#37a1ac"/>
<rect x="1233.2" y="341.8" width="4.4" height="4.4" fill="#339dae"/>
<rect x="1245.5" y="341.8" width="4.4" height="4.4" fill="#37a1ac"/>
<rect x="1270.1" y="341.8" width="4.4" height="4.4" fill="#339cae"/>
<rect x="1274.2" y="341.8" width="4.4" height="4.4" fill="#349dae"/>
<rect x="1278.3" y="341.8" width="4.4" height="4.4" fill="#339dae"/>
<rect x="1282.4" y="341.8" width="4.4" height="4.4" fill="#339caf"/>
<rect x="1290.6" y="341.8" width="4.4" height="4.4" fill="#349dae"/>
<rect x="1294.7" y="341.8" width="4.4" height="4.4" fill="#319aaf"/>
<rect x="1311.1" y="341.8" width="4.4" height="4.4" fill="#38a2ac"/>
<rect x="954.4" y="553.5" width="4.4" height="4.4" fill="#339dae"/>
<rect x="958.5" y="553.5" width="4.4" height="4.4" fill="#3aa3aa"/>
<rect x="966.7" y="553.5" width="4.4" height="4.4" fill="#329baf"/>
<rect x="970.8" y="553.5" width="4.4" height="4.4" fill="#3098b0"/>
<rect x="983.1" y="553.5" width="4.4" height="4.4" fill="#349dae"/>
<rect x="991.3" y="553.5" width="4.4" height="4.4" fill="#359fad"/>
<rect x="999.5" y="553.5" width="4.4" height="4.4" fill="#38a2ab"/>
<rect x="1003.6" y="553.5" width="4.4" height="4.4" fill="#37a1ac"/>
<rect x="1007.7" y="553.5" width="4.4" height="4.4" fill="#37a0ad"/>
<rect x="1015.9" y="553.5" width="4.4" height="4.4" fill="#359eae"/>
<rect x="1036.4" y="553.5" width="4.4" height="4.4" fill="#329baf"/>
<rect x="1040.5" y="553.5" width="4.4" height="4.4" fill="#37a1ac"/>
<rect x="1048.7" y="553.5" width="4.4" height="4.4" fill="#38a2ac"/>
<rect x="1052.8" y="553.5" width="4.4" height="4.4" fill="#339cae"/>
<rect x="1061" y="553.5" width="4.4" height="4.4" fill="#349dae"/>
<rect x="1069.2" y="553.5" width="4.4" height="4.4" fill="#38a2ac"/>
<rect x="1077.4" y="553.5" width="4.4" height="4.4" fill="#359eae"/>
<rect x="1081.5" y="553.5" width="4.4" height="4.4" fill="#3ba4aa"/>
<rect x="1110.2" y="553.5" width="4.4" height="4.4" fill="#329baf"/>
<rect x="1122.5" y="553.5" width="4.4" height="4.4" fill="#329aaf"/>
<rect x="1126.6" y="553.5" width="4.4" height="4.4" fill="#38a2ab"/>
<rect x="1143" y="553.5" width="4.4" height="4.4" fill="#36a0ad"/>
<rect x="1147.1" y="553.5" width="4.4" height="4.4" fill="#3ba4aa"/>
<rect x="1159.4" y="553.5" width="4.4" height="4.4" fill="#39a2ab"/>
<rect x="1163.5" y="553.5" width="4.4" height="4.4" fill="#36a0ad"/>
<rect x="1175.8" y="553.5" width="4.4" height="4.4" fill="#349eae"/>
<rect x="1184" y="553.5" width="4.4" height="4.4" fill="#39a3ab"/>
<rect x="1188.1" y="553.5" width="4.4" height="4.4" fill="#359eae"/>
<rect x="1192.2" y="553.5" width="4.4" height="4.4" fill="#3ea7a7"/>
<rect x="1196.3" y="553.5" width="4.4" height="4.4" fill="#37a1ac"/>
<rect x="1225" y="553.5" width="4.4" height="4.4" fill="#3da6a8"/>
<rect x="1233.2" y="553.5" width="4.4" height="4.4" fill="#39a2ab"/>
<rect x="1237.3" y="553.5" width="4.4" height="4.4" fill="#359eae"/>
<rect x="1249.6" y="553.5" width="4.4" height="4.4" fill="#39a3ab"/>
<rect x="1257.8" y="553.5" width="4.4" height="4.4" fill="#37a1ac"/>
<rect x="1261.9" y="553.5" width="4.4" height="4.4" fill="#37a1ac"/>
<rect x="1266" y="553.5" width="4.4" height="4.4" fill="#37a1ac"/>
<rect x="1274.2" y="553.5" width="4.4" height="4.4" fill="#36a0ad"/>
<rect x="1298.8" y="553.5" width="4.4" height="4.4" fill="#3ba5a9"/>
<rect x="1307" y="553.5" width="4.4" height="4.4" fill="#359fad"/>
<rect x="1311.1" y="553.5" width="4.4" height="4.4" fill="#36a0ad"/>
<rect x="962.6" y="557.6" width="4.4" height="4.4" fill="#36a0ad"/>
<rect x="983.1" y="557.6" width="4.4" height="4.4" fill="#329baf"/>
<rect x="1003.6" y="557.6" width="4.4" height="4.4" fill="#339cae"/>
<rect x="1011.8" y="557.6" width="4.4" height="4.4" fill="#38a2ab"/>
<rect x="1020" y="557.6" width="4.4" height="4.4" fill="#37a1ac"/>
<rect x="1028.2" y="557.6" width="4.4" height="4.4" fill="#37a1ac"/>
<rect x="1032.3" y="557.6" width="4.4" height="4.4" fill="#39a3ab"/>
<rect x="1044.6" y="557.6" width="4.4" height="4.4" fill="#349dae"/>
<rect x="1048.7" y="557.6" width="4.4" height="4.4" fill="#359eae"/>
<rect x="1052.8" y="557.6" width="4.4" height="4.4" fill="#349dae"/>
<rect x="1065.1" y="557.6" width="4.4" height="4.4" fill="#37a1ac"/>
<rect x="1069.2" y="557.6" width="4.4" height="4.4" fill="#36a0ad"/>
<rect x="1081.5" y="557.6" width="4.4" height="4.4" fill="#37a1ac"/>
<rect x="1085.6" y="557.6" width="4.4" height="4.4" fill="#2f96b0"/>
<rect x="1118.4" y="557.6" width="4.4" height="4.4" fill="#319aaf"/>
<rect x="1122.5" y="557.6" width="4.4" height="4.4" fill="#349dae"/>
<rect x="1130.7" y="557.6" width="4.4" height="4.4" fill="#39a3ab"/>
<rect x="1143" y="557.6" width="4.4" height="4.4" fill="#319aaf"/>
<rect x="1147.1" y="557.6" width="4.4" height="4.4" fill="#369fad"/>
<rect x="1151.2" y="557.6" width="4.4" height="4.4" fill="#359eae"/>
<rect x="1163.5" y="557.6" width="4.4" height="4.4" fill="#339caf"/>
<rect x="1167.6" y="557.6" width="4.4" height="4.4" fill="#37a1ac"/>
<rect x="1179.9" y="557.6" width="4.4" height="4.4" fill="#36a0ad"/>
<rect x="1184" y="557.6" width="4.4" height="4.4" fill="#349eae"/>
<rect x="1192.2" y="557.6" width="4.4" height="4.4" fill="#36a0ad"/>
<rect x="1220.9" y="557.6" width="4.4" height="4.4" fill="#329baf"/>
<rect x="1233.2" y="557.6" width="4.4" height="4.4" fill="#38a2ac"/>
<rect x="1237.3" y="557.6" width="4.4" height="4.4" fill="#37a1ac"/>
<rect x="1241.4" y="557.6" width="4.4" height="4.4" fill="#339cae"/>
<rect x="1245.5" y="557.6" width="4.4" height="4.4" fill="#36a0ad"/>
<rect x="1253.7" y="557.6" width="4.4" height="4.4" fill="#38a2ac"/>
<rect x="1257.8" y="557.6" width="4.4" height="4.4" fill="#319aaf"/>
<rect x="1266" y="557.6" width="4.4" height="4.4" fill="#359eae"/>
<rect x="1278.3" y="557.6" width="4.4" height="4.4" fill="#36a0ad"/>
<rect x="1290.6" y="557.6" width="4.4" height="4.4" fill="#38a1ac"/>
<rect x="1302.9" y="557.6" width="4.4" height="4.4" fill="#329aaf"/>
<rect x="1315.2" y="557.6" width="4.4" height="4.4" fill="#3098b0"/>
<rect x="1319.3" y="557.6" width="4.4" height="4.4" fill="#339dae"/>
<rect x="1329.2" y="345" width="376.3" height="210" fill="url(#st3)"/>
<rect x="1333.3" y="329.5" width="4.4" height="4.4" fill="#3aa3aa"/>
<rect x="1341.5" y="329.5" width="4.4" height="4.4" fill="#39a3ab"/>
<rect x="1345.6" y="329.5" width="4.4" height="4.4" fill="#349dae"/>
<rect x="1349.7" y="329.5" width="4.4" height="4.4" fill="#329aaf"/>
<rect x="1353.8" y="329.5" width="4.4" height="4.4" fill="#349dae"/>
<rect x="1362" y="329.5" width="4.4" height="4.4" fill="#329baf"/>
<rect x="1366.1" y="329.5" width="4.4" height="4.4" fill="#38a2ac"/>
<rect x="1370.2" y="329.5" width="4.4" height="4.4" fill="#339cae"/>
<rect x="1374.3" y="329.5" width="4.4" height="4.4" fill="#3199af"/>
<rect x="1382.5" y="329.5" width="4.4" height="4.4" fill="#38a2ac"/>
<rect x="1386.6" y="329.5" width="4.4" height="4.4" fill="#339caf"/>
<rect x="1390.7" y="329.5" width="4.4" height="4.4" fill="#3098b0"/>
<rect x="1394.8" y="329.5" width="4.4" height="4.4" fill="#339cae"/>
<rect x="1398.9" y="329.5" width="4.4" height="4.4" fill="#39a3ab"/>
<rect x="1403" y="329.5" width="4.4" height="4.4" fill="#3aa3aa"/>
<rect x="1407.1" y="329.5" width="4.4" height="4.4" fill="#37a1ac"/>
<rect x="1411.2" y="329.5" width="4.4" height="4.4" fill="#39a2ab"/>
<rect x="1415.3" y="329.5" width="4.4" height="4.4" fill="#3ba5a9"/>
<rect x="1423.5" y="329.5" width="4.4" height="4.4" fill="#37a1ac"/>
<rect x="1427.6" y="329.5" width="4.4" height="4.4" fill="#359eae"/>
<rect x="1439.9" y="329.5" width="4.4" height="4.4" fill="#37a1ac"/>
<rect x="1448.1" y="329.5" width="4.4" height="4.4" fill="#38a2ab"/>
<rect x="1452.2" y="329.5" width="4.4" height="4.4" fill="#3ba5a9"/>
<rect x="1456.3" y="329.5" width="4.4" height="4.4" fill="#37a1ac"/>
<rect x="1460.4" y="329.5" width="4.4" height="4.4" fill="#3da6a8"/>
<rect x="1464.5" y="329.5" width="4.4" height="4.4" fill="#3ea7a7"/>
<rect x="1472.7" y="329.5" width="4.4" height="4.4" fill="#38a2ab"/>
<rect x="1476.8" y="329.5" width="4.4" height="4.4" fill="#3098b0"/>
<rect x="1480.9" y="329.5" width="4.4" height="4.4" fill="#3098b0"/>
<rect x="1485" y="329.5" width="4.4" height="4.4" fill="#319aaf"/>
<rect x="1497.3" y="329.5" width="4.4" height="4.4" fill="#329baf"/>
<rect x="1501.4" y="329.5" width="4.4" height="4.4" fill="#39a3ab"/>
<rect x="1509.6" y="329.5" width="4.4" height="4.4" fill="#3aa3aa"/>
<rect x="1513.7" y="329.5" width="4.4" height="4.4" fill="#349eae"/>
<rect x="1517.8" y="329.5" width="4.4" height="4.4" fill="#2f96b0"/>
<rect x="1530.1" y="329.5" width="4.4" height="4.4" fill="#37a1ac"/>
<rect x="1534.2" y="329.5" width="4.4" height="4.4" fill="#339caf"/>
<rect x="1538.3" y="329.5" width="4.4" height="4.4" fill="#2f96b0"/>
<rect x="1542.4" y="329.5" width="4.4" height="4.4" fill="#2c93b2"/>
<rect x="1546.5" y="329.5" width="4.4" height="4.4" fill="#2e96b0"/>
<rect x="1550.6" y="329.5" width="4.4" height="4.4" fill="#3098b0"/>
<rect x="1554.7" y="329.5" width="4.4" height="4.4" fill="#349dae"/>
<rect x="1562.9" y="329.5" width="4.4" height="4.4" fill="#349eae"/>
<rect x="1567" y="329.5" width="4.4" height="4.4" fill="#3098b0"/>
<rect x="1571.1" y="329.5" width="4.4" height="4.4" fill="#2d94b1"/>
<rect x="1575.2" y="329.5" width="4.4" height="4.4" fill="#2f96b0"/>
<rect x="1579.3" y="329.5" width="4.4" height="4.4" fill="#2e95b1"/>
<rect x="1583.4" y="329.5" width="4.4" height="4.4" fill="#3199af"/>
<rect x="1587.5" y="329.5" width="4.4" height="4.4" fill="#38a2ac"/>
<rect x="1599.8" y="329.5" width="4.4" height="4.4" fill="#37a1ac"/>
<rect x="1603.9" y="329.5" width="4.4" height="4.4" fill="#3199af"/>
<rect x="1608" y="329.5" width="4.4" height="4.4" fill="#329baf"/>
<rect x="1612.1" y="329.5" width="4.4" height="4.4" fill="#38a2ac"/>
<rect x="1620.3" y="329.5" width="4.4" height="4.4" fill="#37a1ac"/>
<rect x="1624.4" y="329.5" width="4.4" height="4.4" fill="#37a1ac"/>
<rect x="1628.5" y="329.5" width="4.4" height="4.4" fill="#3098b0"/>
<rect x="1632.6" y="329.5" width="4.4" height="4.4" fill="#2d94b1"/>
<rect x="1636.7" y="329.5" width="4.4" height="4.4" fill="#329aaf"/>
<rect x="1640.8" y="329.5" width="4.4" height="4.4" fill="#38a2ac"/>
<rect x="1644.9" y="329.5" width="4.4" height="4.4" fill="#359eae"/>
<rect x="1649" y="329.5" width="4.4" height="4.4" fill="#37a1ac"/>
<rect x="1653.1" y="329.5" width="4.4" height="4.4" fill="#3ba4aa"/>
<rect x="1657.2" y="329.5" width="4.4" height="4.4" fill="#38a2ab"/>
<rect x="1681.8" y="329.5" width="4.4" height="4.4" fill="#3199af"/>
<rect x="1685.9" y="329.5" width="4.4" height="4.4" fill="#339cae"/>
<rect x="1690" y="329.5" width="4.4" height="4.4" fill="#3199af"/>
<rect x="1694.1" y="329.5" width="4.4" height="4.4" fill="#339dae"/>
<rect x="1329.2" y="333.6" width="4.4" height="4.4" fill="#2e96b0"/>
<rect x="1333.3" y="333.6" width="4.4" height="4.4" fill="#37a1ac"/>
<rect x="1337.4" y="333.6" width="4.4" height="4.4" fill="#329aaf"/>
<rect x="1341.5" y="333.6" width="4.4" height="4.4" fill="#349dae"/>
<rect x="1357.9" y="333.6" width="4.4" height="4.4" fill="#329baf"/>
<rect x="1362" y="333.6" width="4.4" height="4.4" fill="#319aaf"/>
<rect x="1366.1" y="333.6" width="4.4" height="4.4" fill="#37a1ac"/>
<rect x="1370.2" y="333.6" width="4.4" height="4.4" fill="#39a3aa"/>
<rect x="1378.4" y="333.6" width="4.4" height="4.4" fill="#37a1ac"/>
<rect x="1382.5" y="333.6" width="4.4" height="4.4" fill="#349eae"/>
<rect x="1386.6" y="333.6" width="4.4" height="4.4" fill="#2e95b1"/>
<rect x="1390.7" y="333.6" width="4.4" height="4.4" fill="#349eae"/>
<rect x="1394.8" y="333.6" width="4.4" height="4.4" fill="#39a3ab"/>
<rect x="1403" y="333.6" width="4.4" height="4.4" fill="#339cae"/>
<rect x="1407.1" y="333.6" width="4.4" height="4.4" fill="#2b91b2"/>
<rect x="1411.2" y="333.6" width="4.4" height="4.4" fill="#3ca5a9"/>
<rect x="1415.3" y="333.6" width="4.4" height="4.4" fill="#3199af"/>
<rect x="1419.4" y="333.6" width="4.4" height="4.4" fill="#37a1ac"/>
<rect x="1423.5" y="333.6" width="4.4" height="4.4" fill="#339cae"/>
<rect x="1427.6" y="333.6" width="4.4" height="4.4" fill="#2e96b1"/>
<rect x="1431.7" y="333.6" width="4.4" height="4.4" fill="#319aaf"/>
<rect x="1439.9" y="333.6" width="4.4" height="4.4" fill="#339cae"/>
<rect x="1452.2" y="333.6" width="4.4" height="4.4" fill="#38a2ac"/>
<rect x="1456.3" y="333.6" width="4.4" height="4.4" fill="#39a2ab"/>
<rect x="1460.4" y="333.6" width="4.4" height="4.4" fill="#2f97b0"/>
<rect x="1464.5" y="333.6" width="4.4" height="4.4" fill="#3098b0"/>
<rect x="1468.6" y="333.6" width="4.4" height="4.4" fill="#329aaf"/>
<rect x="1476.8" y="333.6" width="4.4" height="4.4" fill="#3aa4aa"/>
<rect x="1480.9" y="333.6" width="4.4" height="4.4" fill="#3ca6a9"/>
<rect x="1485" y="333.6" width="4.4" height="4.4" fill="#39a2ab"/>
<rect x="1493.2" y="333.6" width="4.4" height="4.4" fill="#2d94b1"/>
<rect x="1497.3" y="333.6" width="4.4" height="4.4" fill="#329baf"/>
<rect x="1501.4" y="333.6" width="4.4" height="4.4" fill="#329aaf"/>
<rect x="1513.7" y="333.6" width="4.4" height="4.4" fill="#38a1ac"/>
<rect x="1517.8" y="333.6" width="4.4" height="4.4" fill="#339cae"/>
<rect x="1521.9" y="333.6" width="4.4" height="4.4" fill="#38a2ac"/>
<rect x="1526" y="333.6" width="4.4" height="4.4" fill="#39a3ab"/>
<rect x="1534.2" y="333.6" width="4.4" height="4.4" fill="#339cae"/>
<rect x="1538.3" y="333.6" width="4.4" height="4.4" fill="#339caf"/>
<rect x="1546.5" y="333.6" width="4.4" height="4.4" fill="#349dae"/>
<rect x="1550.6" y="333.6" width="4.4" height="4.4" fill="#349dae"/>
<rect x="1579.3" y="333.6" width="4.4" height="4.4" fill="#39a3ab"/>
<rect x="1583.4" y="333.6" width="4.4" height="4.4" fill="#39a3ab"/>
<rect x="1587.5" y="333.6" width="4.4" height="4.4" fill="#37a1ac"/>
<rect x="1591.6" y="333.6" width="4.4" height="4.4" fill="#3fa8a6"/>
<rect x="1595.7" y="333.6" width="4.4" height="4.4" fill="#3ca6a8"/>
<rect x="1599.8" y="333.6" width="4.4" height="4.4" fill="#40a9a6"/>
<rect x="1603.9" y="333.6" width="4.4" height="4.4" fill="#37a1ac"/>
<rect x="1612.1" y="333.6" width="4.4" height="4.4" fill="#3098b0"/>
<rect x="1616.2" y="333.6" width="4.4" height="4.4" fill="#3098b0"/>
<rect x="1620.3" y="333.6" width="4.4" height="4.4" fill="#349eae"/>
<rect x="1628.5" y="333.6" width="4.4" height="4.4" fill="#38a2ac"/>
<rect x="1632.6" y="333.6" width="4.4" height="4.4" fill="#3ba5a9"/>
<rect x="1640.8" y="333.6" width="4.4" height="4.4" fill="#3ca5a9"/>
<rect x="1644.9" y="333.6" width="4.4" height="4.4" fill="#3aa4aa"/>
<rect x="1649" y="333.6" width="4.4" height="4.4" fill="#3ba4aa"/>
<rect x="1653.1" y="333.6" width="4.4" height="4.4" fill="#38a2ab"/>
<rect x="1657.2" y="333.6" width="4.4" height="4.4" fill="#38a2ac"/>
<rect x="1661.3" y="333.6" width="4.4" height="4.4" fill="#39a3ab"/>
<rect x="1665.4" y="333.6" width="4.4" height="4.4" fill="#349dae"/>
<rect x="1669.5" y="333.6" width="4.4" height="4.4" fill="#38a2ab"/>
<rect x="1673.6" y="333.6" width="4.4" height="4.4" fill="#339caf"/>
<rect x="1677.7" y="333.6" width="4.4" height="4.4" fill="#359eae"/>
<rect x="1685.9" y="333.6" width="4.4" height="4.4" fill="#2e95b1"/>
<rect x="1690" y="333.6" width="4.4" height="4.4" fill="#38a2ab"/>
<rect x="1694.1" y="333.6" width="4.4" height="4.4" fill="#339cae"/>
<rect x="1698.2" y="333.6" width="4.4" height="4.4" fill="#2c93b1"/>
<rect x="1329.2" y="337.7" width="4.4" height="4.4" fill="#3098b0"/>
<rect x="1337.4" y="337.7" width="4.4" height="4.4" fill="#329baf"/>
<rect x="1341.5" y="337.7" width="4.4" height="4.4" fill="#339cae"/>
<rect x="1349.7" y="337.7" width="4.4" height="4.4" fill="#349dae"/>
<rect x="1357.9" y="337.7" width="4.4" height="4.4" fill="#39a3ab"/>
<rect x="1366.1" y="337.7" width="4.4" height="4.4" fill="#39a3ab"/>
<rect x="1370.2" y="337.7" width="4.4" height="4.4" fill="#3ca5a9"/>
<rect x="1374.3" y="337.7" width="4.4" height="4.4" fill="#39a3ab"/>
<rect x="1378.4" y="337.7" width="4.4" height="4.4" fill="#3da6a8"/>
<rect x="1382.5" y="337.7" width="4.4" height="4.4" fill="#3aa4aa"/>
<rect x="1386.6" y="337.7" width="4.4" height="4.4" fill="#3da6a8"/>
<rect x="1390.7" y="337.7" width="4.4" height="4.4" fill="#3aa3aa"/>
<rect x="1394.8" y="337.7" width="4.4" height="4.4" fill="#329baf"/>
<rect x="1398.9" y="337.7" width="4.4" height="4.4" fill="#339cae"/>
<rect x="1403" y="337.7" width="4.4" height="4.4" fill="#2f97b0"/>
<rect x="1407.1" y="337.7" width="4.4" height="4.4" fill="#3199af"/>
<rect x="1415.3" y="337.7" width="4.4" height="4.4" fill="#3098b0"/>
<rect x="1419.4" y="337.7" width="4.4" height="4.4" fill="#3199b0"/>
<rect x="1423.5" y="337.7" width="4.4" height="4.4" fill="#2f97b0"/>
<rect x="1427.6" y="337.7" width="4.4" height="4.4" fill="#38a2ac"/>
<rect x="1435.8" y="337.7" width="4.4" height="4.4" fill="#39a2ab"/>
<rect x="1439.9" y="337.7" width="4.4" height="4.4" fill="#38a2ac"/>
<rect x="1448.1" y="337.7" width="4.4" height="4.4" fill="#339baf"/>
<rect x="1452.2" y="337.7" width="4.4" height="4.4" fill="#329aaf"/>
<rect x="1456.3" y="337.7" width="4.4" height="4.4" fill="#329aaf"/>
<rect x="1460.4" y="337.7" width="4.4" height="4.4" fill="#329baf"/>
<rect x="1468.6" y="337.7" width="4.4" height="4.4" fill="#349dae"/>
<rect x="1472.7" y="337.7" width="4.4" height="4.4" fill="#3aa3aa"/>
<rect x="1476.8" y="337.7" width="4.4" height="4.4" fill="#39a3ab"/>
<rect x="1480.9" y="337.7" width="4.4" height="4.4" fill="#38a2ac"/>
<rect x="1485" y="337.7" width="4.4" height="4.4" fill="#3ca6a8"/>
<rect x="1493.2" y="337.7" width="4.4" height="4.4" fill="#329baf"/>
<rect x="1497.3" y="337.7" width="4.4" height="4.4" fill="#3098b0"/>
<rect x="1505.5" y="337.7" width="4.4" height="4.4" fill="#339cae"/>
<rect x="1509.6" y="337.7" width="4.4" height="4.4" fill="#339cae"/>
<rect x="1513.7" y="337.7" width="4.4" height="4.4" fill="#349eae"/>
<rect x="1521.9" y="337.7" width="4.4" height="4.4" fill="#3098b0"/>
<rect x="1526" y="337.7" width="4.4" height="4.4" fill="#39a2ab"/>
<rect x="1530.1" y="337.7" width="4.4" height="4.4" fill="#39a3ab"/>
<rect x="1534.2" y="337.7" width="4.4" height="4.4" fill="#3ea7a8"/>
<rect x="1538.3" y="337.7" width="4.4" height="4.4" fill="#339dae"/>
<rect x="1542.4" y="337.7" width="4.4" height="4.4" fill="#2f97b0"/>
<rect x="1546.5" y="337.7" width="4.4" height="4.4" fill="#2b91b2"/>
<rect x="1550.6" y="337.7" width="4.4" height="4.4" fill="#3098b0"/>
<rect x="1554.7" y="337.7" width="4.4" height="4.4" fill="#2c93b1"/>
<rect x="1558.8" y="337.7" width="4.4" height="4.4" fill="#329aaf"/>
<rect x="1562.9" y="337.7" width="4.4" height="4.4" fill="#3199af"/>
<rect x="1567" y="337.7" width="4.4" height="4.4" fill="#39a3ab"/>
<rect x="1571.1" y="337.7" width="4.4" height="4.4" fill="#3aa4aa"/>
<rect x="1575.2" y="337.7" width="4.4" height="4.4" fill="#3ca5a9"/>
<rect x="1579.3" y="337.7" width="4.4" height="4.4" fill="#38a2ac"/>
<rect x="1583.4" y="337.7" width="4.4" height="4.4" fill="#349eae"/>
<rect x="1587.5" y="337.7" width="4.4" height="4.4" fill="#329baf"/>
<rect x="1591.6" y="337.7" width="4.4" height="4.4" fill="#2e95b1"/>
<rect x="1595.7" y="337.7" width="4.4" height="4.4" fill="#319aaf"/>
<rect x="1603.9" y="337.7" width="4.4" height="4.4" fill="#38a2ab"/>
<rect x="1608" y="337.7" width="4.4" height="4.4" fill="#37a1ac"/>
<rect x="1616.2" y="337.7" width="4.4" height="4.4" fill="#3ba5a9"/>
<rect x="1628.5" y="337.7" width="4.4" height="4.4" fill="#329baf"/>
<rect x="1632.6" y="337.7" width="4.4" height="4.4" fill="#2d95b1"/>
<rect x="1636.7" y="337.7" width="4.4" height="4.4" fill="#37a1ac"/>
<rect x="1640.8" y="337.7" width="4.4" height="4.4" fill="#3ba5a9"/>
<rect x="1644.9" y="337.7" width="4.4" height="4.4" fill="#3da6a8"/>
<rect x="1653.1" y="337.7" width="4.4" height="4.4" fill="#3ba5a9"/>
<rect x="1665.4" y="337.7" width="4.4" height="4.4" fill="#339cae"/>
<rect x="1669.5" y="337.7" width="4.4" height="4.4" fill="#2f97b0"/>
<rect x="1673.6" y="337.7" width="4.4" height="4.4" fill="#3098b0"/>
<rect x="1677.7" y="337.7" width="4.4" height="4.4" fill="#2f96b0"/>
<rect x="1681.8" y="337.7" width="4.4" height="4.4" fill="#339dae"/>
<rect x="1690" y="337.7" width="4.4" height="4.4" fill="#329baf"/>
<rect x="1694.1" y="337.7" width="4.4" height="4.4" fill="#329baf"/>
<rect x="1698.2" y="337.7" width="4.4" height="4.4" fill="#39a3ab"/>
<rect x="1329.2" y="341.8" width="4.4" height="4.4" fill="#3aa3aa"/>
<rect x="1337.4" y="341.8" width="4.4" height="4.4" fill="#3ba4a9"/>
<rect x="1345.6" y="341.8" width="4.4" height="4.4" fill="#3aa4aa"/>
<rect x="1353.8" y="341.8" width="4.4" height="4.4" fill="#329baf"/>
<rect x="1357.9" y="341.8" width="4.4" height="4.4" fill="#2e95b1"/>
<rect x="1362" y="341.8" width="4.4" height="4.4" fill="#339cae"/>
<rect x="1378.4" y="341.8" width="4.4" height="4.4" fill="#39a3ab"/>
<rect x="1382.5" y="341.8" width="4.4" height="4.4" fill="#38a1ac"/>
<rect x="1386.6" y="341.8" width="4.4" height="4.4" fill="#3aa3aa"/>
<rect x="1407.1" y="341.8" width="4.4" height="4.4" fill="#349dae"/>
<rect x="1419.4" y="341.8" width="4.4" height="4.4" fill="#39a3ab"/>
<rect x="1423.5" y="341.8" width="4.4" height="4.4" fill="#3aa4aa"/>
<rect x="1427.6" y="341.8" width="4.4" height="4.4" fill="#38a2ac"/>
<rect x="1431.7" y="341.8" width="4.4" height="4.4" fill="#39a3ab"/>
<rect x="1435.8" y="341.8" width="4.4" height="4.4" fill="#38a2ac"/>
<rect x="1439.9" y="341.8" width="4.4" height="4.4" fill="#3ba4aa"/>
<rect x="1456.3" y="341.8" width="4.4" height="4.4" fill="#339dae"/>
<rect x="1464.5" y="341.8" width="4.4" height="4.4" fill="#38a2ac"/>
<rect x="1468.6" y="341.8" width="4.4" height="4.4" fill="#339cae"/>
<rect x="1476.8" y="341.8" width="4.4" height="4.4" fill="#319aaf"/>
<rect x="1489.1" y="341.8" width="4.4" height="4.4" fill="#319aaf"/>
<rect x="1493.2" y="341.8" width="4.4" height="4.4" fill="#349dae"/>
<rect x="1501.4" y="341.8" width="4.4" height="4.4" fill="#329aaf"/>
<rect x="1505.5" y="341.8" width="4.4" height="4.4" fill="#2f97b0"/>
<rect x="1509.6" y="341.8" width="4.4" height="4.4" fill="#2c92b2"/>
<rect x="1513.7" y="341.8" width="4.4" height="4.4" fill="#2f97b0"/>
<rect x="1517.8" y="341.8" width="4.4" height="4.4" fill="#329baf"/>
<rect x="1521.9" y="341.8" width="4.4" height="4.4" fill="#319aaf"/>
<rect x="1526" y="341.8" width="4.4" height="4.4" fill="#3098b0"/>
<rect x="1530.1" y="341.8" width="4.4" height="4.4" fill="#329baf"/>
<rect x="1538.3" y="341.8" width="4.4" height="4.4" fill="#3199af"/>
<rect x="1542.4" y="341.8" width="4.4" height="4.4" fill="#319aaf"/>
<rect x="1546.5" y="341.8" width="4.4" height="4.4" fill="#319aaf"/>
<rect x="1550.6" y="341.8" width="4.4" height="4.4" fill="#339cae"/>
<rect x="1554.7" y="341.8" width="4.4" height="4.4" fill="#39a3ab"/>
<rect x="1558.8" y="341.8" width="4.4" height="4.4" fill="#349eae"/>
<rect x="1562.9" y="341.8" width="4.4" height="4.4" fill="#37a1ac"/>
<rect x="1579.3" y="341.8" width="4.4" height="4.4" fill="#38a2ac"/>
<rect x="1583.4" y="341.8" width="4.4" height="4.4" fill="#39a3ab"/>
<rect x="1595.7" y="341.8" width="4.4" height="4.4" fill="#349dae"/>
<rect x="1599.8" y="341.8" width="4.4" height="4.4" fill="#349eae"/>
<rect x="1603.9" y="341.8" width="4.4" height="4.4" fill="#349dae"/>
<rect x="1612.1" y="341.8" width="4.4" height="4.4" fill="#339cae"/>
<rect x="1620.3" y="341.8" width="4.4" height="4.4" fill="#37a1ac"/>
<rect x="1628.5" y="341.8" width="4.4" height="4.4" fill="#3aa3aa"/>
<rect x="1632.6" y="341.8" width="4.4" height="4.4" fill="#39a3ab"/>
<rect x="1640.8" y="341.8" width="4.4" height="4.4" fill="#3098b0"/>
<rect x="1644.9" y="341.8" width="4.4" height="4.4" fill="#349dae"/>
<rect x="1649" y="341.8" width="4.4" height="4.4" fill="#2e95b1"/>
<rect x="1661.3" y="341.8" width="4.4" height="4.4" fill="#3aa4aa"/>
<rect x="1665.4" y="341.8" width="4.4" height="4.4" fill="#38a2ac"/>
<rect x="1669.5" y="341.8" width="4.4" height="4.4" fill="#349eae"/>
<rect x="1681.8" y="341.8" width="4.4" height="4.4" fill="#329baf"/>
<rect x="1690" y="341.8" width="4.4" height="4.4" fill="#349dae"/>
<rect x="1694.1" y="341.8" width="4.4" height="4.4" fill="#3199af"/>
<rect x="1698.2" y="341.8" width="4.4" height="4.4" fill="#2f96b0"/>
<rect x="1329.2" y="553.5" width="4.4" height="4.4" fill="#359fad"/>
<rect x="1341.5" y="553.5" width="4.4" height="4.4" fill="#3ba4a9"/>
<rect x="1357.9" y="553.5" width="4.4" height="4.4" fill="#3ba5a9"/>
<rect x="1366.1" y="553.5" width="4.4" height="4.4" fill="#3199af"/>
<rect x="1382.5" y="553.5" width="4.4" height="4.4" fill="#37a1ac"/>
<rect x="1390.7" y="553.5" width="4.4" height="4.4" fill="#39a3ab"/>
<rect x="1398.9" y="553.5" width="4.4" height="4.4" fill="#37a1ac"/>
<rect x="1407.1" y="553.5" width="4.4" height="4.4" fill="#36a0ad"/>
<rect x="1419.4" y="553.5" width="4.4" height="4.4" fill="#36a0ad"/>
<rect x="1431.7" y="553.5" width="4.4" height="4.4" fill="#3ba4aa"/>
<rect x="1456.3" y="553.5" width="4.4" height="4.4" fill="#36a0ad"/>
<rect x="1468.6" y="553.5" width="4.4" height="4.4" fill="#3aa4aa"/>
<rect x="1472.7" y="553.5" width="4.4" height="4.4" fill="#349dae"/>
<rect x="1485" y="553.5" width="4.4" height="4.4" fill="#329baf"/>
<rect x="1493.2" y="553.5" width="4.4" height="4.4" fill="#339cae"/>
<rect x="1501.4" y="553.5" width="4.4" height="4.4" fill="#36a0ad"/>
<rect x="1505.5" y="553.5" width="4.4" height="4.4" fill="#2e95b1"/>
<rect x="1509.6" y="553.5" width="4.4" height="4.4" fill="#36a0ad"/>
<rect x="1513.7" y="553.5" width="4.4" height="4.4" fill="#37a1ac"/>
<rect x="1542.4" y="553.5" width="4.4" height="4.4" fill="#3da7a8"/>
<rect x="1571.1" y="553.5" width="4.4" height="4.4" fill="#2e96b0"/>
<rect x="1583.4" y="553.5" width="4.4" height="4.4" fill="#339dae"/>
<rect x="1587.5" y="553.5" width="4.4" height="4.4" fill="#39a3ab"/>
<rect x="1599.8" y="553.5" width="4.4" height="4.4" fill="#319aaf"/>
<rect x="1603.9" y="553.5" width="4.4" height="4.4" fill="#3ba4aa"/>
<rect x="1628.5" y="553.5" width="4.4" height="4.4" fill="#37a1ad"/>
<rect x="1632.6" y="553.5" width="4.4" height="4.4" fill="#37a1ac"/>
<rect x="1636.7" y="553.5" width="4.4" height="4.4" fill="#3ba4aa"/>
<rect x="1640.8" y="553.5" width="4.4" height="4.4" fill="#39a3ab"/>
<rect x="1657.2" y="553.5" width="4.4" height="4.4" fill="#369fad"/>
<rect x="1665.4" y="553.5" width="4.4" height="4.4" fill="#339baf"/>
<rect x="1669.5" y="553.5" width="4.4" height="4.4" fill="#359fad"/>
<rect x="1685.9" y="553.5" width="4.4" height="4.4" fill="#38a2ab"/>
<rect x="1690" y="553.5" width="4.4" height="4.4" fill="#3098b0"/>
<rect x="1329.2" y="557.6" width="4.4" height="4.4" fill="#37a1ac"/>
<rect x="1345.6" y="557.6" width="4.4" height="4.4" fill="#329baf"/>
<rect x="1382.5" y="557.6" width="4.4" height="4.4" fill="#37a1ac"/>
<rect x="1394.8" y="557.6" width="4.4" height="4.4" fill="#339cae"/>
<rect x="1403" y="557.6" width="4.4" height="4.4" fill="#369fad"/>
<rect x="1411.2" y="557.6" width="4.4" height="4.4" fill="#339cae"/>
<rect x="1419.4" y="557.6" width="4.4" height="4.4" fill="#38a2ac"/>
<rect x="1427.6" y="557.6" width="4.4" height="4.4" fill="#37a1ac"/>
<rect x="1435.8" y="557.6" width="4.4" height="4.4" fill="#37a1ac"/>
<rect x="1439.9" y="557.6" width="4.4" height="4.4" fill="#36a0ad"/>
<rect x="1444" y="557.6" width="4.4" height="4.4" fill="#37a1ac"/>
<rect x="1456.3" y="557.6" width="4.4" height="4.4" fill="#39a3ab"/>
<rect x="1480.9" y="557.6" width="4.4" height="4.4" fill="#38a1ac"/>
<rect x="1485" y="557.6" width="4.4" height="4.4" fill="#329baf"/>
<rect x="1489.1" y="557.6" width="4.4" height="4.4" fill="#38a2ab"/>
<rect x="1497.3" y="557.6" width="4.4" height="4.4" fill="#38a2ab"/>
<rect x="1501.4" y="557.6" width="4.4" height="4.4" fill="#3098b0"/>
<rect x="1509.6" y="557.6" width="4.4" height="4.4" fill="#329baf"/>
<rect x="1521.9" y="557.6" width="4.4" height="4.4" fill="#339cae"/>
<rect x="1526" y="557.6" width="4.4" height="4.4" fill="#37a1ac"/>
<rect x="1530.1" y="557.6" width="4.4" height="4.4" fill="#37a1ac"/>
<rect x="1542.4" y="557.6" width="4.4" height="4.4" fill="#359eae"/>
<rect x="1546.5" y="557.6" width="4.4" height="4.4" fill="#37a1ad"/>
<rect x="1558.8" y="557.6" width="4.4" height="4.4" fill="#349dae"/>
<rect x="1583.4" y="557.6" width="4.4" height="4.4" fill="#36a0ad"/>
<rect x="1591.6" y="557.6" width="4.4" height="4.4" fill="#369fad"/>
<rect x="1595.7" y="557.6" width="4.4" height="4.4" fill="#339dae"/>
<rect x="1608" y="557.6" width="4.4" height="4.4" fill="#37a1ac"/>
<rect x="1632.6" y="557.6" width="4.4" height="4.4" fill="#39a2ab"/>
<rect x="1636.7" y="557.6" width="4.4" height="4.4" fill="#339cae"/>
<rect x="1661.3" y="557.6" width="4.4" height="4.4" fill="#36a0ad"/>
<rect x="1665.4" y="557.6" width="4.4" height="4.4" fill="#36a0ad"/>
<rect x="1677.7" y="557.6" width="4.4" height="4.4" fill="#36a0ad"/>
<rect x="1685.9" y="557.6" width="4.4" height="4.4" fill="#349dae"/>
<rect x="1690" y="557.6" width="4.4" height="4.4" fill="#38a2ab"/>
<polygon points="576.9,345 576.9,349.1 576.9,349.1 576.9,353.2 576.9,353.2 576.9,357.3 581,357.3 581,361.4 581,361.4 581,365.5 581,365.5 581,369.6 581,369.6 581,373.7 581,373.7 581,377.8 581,377.8 581,381.9 581,381.9 581,386 585.1,386 585.1,390.1 585.1,390.1 585.1,394.2 585.1,394.2 585.1,398.3 585.1,398.3 585.1,402.4 585.1,402.4 585.1,406.5 585.1,406.5 585.1,410.6 585.1,410.6 585.1,414.7 589.2,414.7 589.2,418.8 589.2,418.8 589.2,422.9 589.2,422.9 589.2,427 589.2,427 589.2,431.1 589.2,431.1 589.2,435.2 589.2,435.2 589.2,439.3 589.2,439.3 589.2,443.4 593.3,443.4 593.3,447.5 593.3,447.5 593.3,451.6 593.3,451.6 593.3,455.7 593.3,455.7 593.3,459.8 593.3,459.8 593.3,463.9 593.3,463.9 593.3,468 593.3,468 593.3,472.1 597.4,472.1 597.4,476.2 597.4,476.2 597.4,480.3 597.4,480.3 597.4,484.4 597.4,484.4 597.4,488.5 597.4,488.5 597.4,492.6 597.4,492.6 597.4,496.7 597.4,496.7 597.4,500.8 601.5,500.8 601.5,504.9 601.5,504.9 601.5,509 601.5,509 601.5,513.1 601.5,513.1 601.5,517.2 601.5,517.2 601.5,521.3 601.5,521.3 601.5,525.4 601.5,525.4 601.5,529.5 605.6,529.5 605.6,533.6 605.6,533.6 605.6,537.7 605.6,537.7 605.6,541.8 605.6,541.8 605.6,545.9 605.6,545.9 605.6,550 605.6,550 605.6,554.1 605.6,554.1 605.6,558.2 913.1,558.2 913.1,554.1 913.1,554.1 913.1,550 913.1,550 913.1,545.9 913.1,545.9 913.1,541.8 913.1,541.8 913.1,537.7 913.1,537.7 913.1,533.6 913.1,533.6 913.1,529.5 913.1,529.5 913.1,525.4 917.2,525.4 917.2,521.3 917.2,521.3 917.2,517.2 917.2,517.2 917.2,513.1 917.2,513.1 917.2,509 917.2,509 917.2,504.9 917.2,504.9 917.2,500.8 917.2,500.8 917.2,496.7 917.2,496.7 917.2,492.6 921.3,492.6 921.3,488.5 921.3,488.5 921.3,484.4 921.3,484.4 921.3,480.3 921.3,480.3 921.3,476.2 921.3,476.2 921.3,472.1 921.3,472.1 921.3,468 921.3,468 921.3,463.9 925.4,463.9 925.4,459.8 925.4,459.8 925.4,455.7 925.4,455.7 925.4,451.6 925.4,451.6 925.4,447.5 925.4,447.5 925.4,443.4 925.4,443.4 925.4,439.3 925.4,439.3 925.4,435.2 925.4,435.2 925.4,431.1 929.5,431.1 929.5,427 929.5,427 929.5,422.9 929.5,422.9 929.5,418.8 929.5,418.8 929.5,414.7 929.5,414.7 929.5,410.6 929.5,410.6 929.5,406.5 929.5,406.5 929.5,402.4 929.5,402.4 929.5,398.3 933.6,398.3 933.6,394.2 933.6,394.2 933.6,390.1 933.6,390.1 933.6,386 933.6,386 933.6,381.9 933.6,381.9 933.6,377.8 933.6,377.8 933.6,373.7 933.6,373.7 933.6,369.6 933.6,369.6 933.6,365.5 937.7,365.5 937.7,361.4 937.7,361.4 937.7,357.3 937.7,357.3 937.7,353.2 937.7,353.2 937.7,349.1 937.7,349.1 937.7,345" fill="url(#g2)"/>
<rect x="572.8" y="345" width="4.3" height="4.3" fill="#5a34a6" opacity="0.85"/>
<rect x="572.8" y="349.1" width="4.3" height="4.3" fill="#3a3aa8" opacity="0.85"/>
<rect x="937.7" y="349.1" width="4.3" height="4.3" fill="#94dc80" opacity="0.85"/>
<rect x="572.8" y="353.2" width="4.3" height="4.3" fill="#1864b4" opacity="0.85"/>
<rect x="576.9" y="357.3" width="4.3" height="4.3" fill="#8a3c96" opacity="0.85"/>
<rect x="937.7" y="357.3" width="4.3" height="4.3" fill="#70cc90" opacity="0.85"/>
<rect x="576.9" y="361.4" width="4.3" height="4.3" fill="#3a3aa8" opacity="0.85"/>
<rect x="937.7" y="361.4" width="4.3" height="4.3" fill="#70cc90" opacity="0.85"/>
<rect x="933.6" y="369.6" width="4.3" height="4.3" fill="#b8e264" opacity="0.85"/>
<rect x="576.9" y="373.7" width="4.3" height="4.3" fill="#5a34a6" opacity="0.85"/>
<rect x="933.6" y="373.7" width="4.3" height="4.3" fill="#b8e264" opacity="0.85"/>
<rect x="933.6" y="377.8" width="4.3" height="4.3" fill="#a8e070" opacity="0.85"/>
<rect x="576.9" y="381.9" width="4.3" height="4.3" fill="#5a34a6" opacity="0.85"/>
<rect x="933.6" y="381.9" width="4.3" height="4.3" fill="#70cc90" opacity="0.85"/>
<rect x="581" y="386" width="4.3" height="4.3" fill="#2a52b4" opacity="0.85"/>
<rect x="933.6" y="386" width="4.3" height="4.3" fill="#b8e264" opacity="0.85"/>
<rect x="581" y="390.1" width="4.3" height="4.3" fill="#3a3aa8" opacity="0.85"/>
<rect x="581" y="398.3" width="4.3" height="4.3" fill="#2a52b4" opacity="0.85"/>
<rect x="581" y="402.4" width="4.3" height="4.3" fill="#5a34a6" opacity="0.85"/>
<rect x="929.5" y="402.4" width="4.3" height="4.3" fill="#94dc80" opacity="0.85"/>
<rect x="581" y="410.6" width="4.3" height="4.3" fill="#2a52b4" opacity="0.85"/>
<rect x="585.1" y="414.7" width="4.3" height="4.3" fill="#5a34a6" opacity="0.85"/>
<rect x="929.5" y="414.7" width="4.3" height="4.3" fill="#a8e070" opacity="0.85"/>
<rect x="585.1" y="418.8" width="4.3" height="4.3" fill="#1864b4" opacity="0.85"/>
<rect x="929.5" y="418.8" width="4.3" height="4.3" fill="#a8e070" opacity="0.85"/>
<rect x="585.1" y="422.9" width="4.3" height="4.3" fill="#5a34a6" opacity="0.85"/>
<rect x="929.5" y="422.9" width="4.3" height="4.3" fill="#cfd060" opacity="0.85"/>
<rect x="585.1" y="427" width="4.3" height="4.3" fill="#3a3aa8" opacity="0.85"/>
<rect x="929.5" y="427" width="4.3" height="4.3" fill="#a8e070" opacity="0.85"/>
<rect x="925.4" y="431.1" width="4.3" height="4.3" fill="#94dc80" opacity="0.85"/>
<rect x="925.4" y="435.2" width="4.3" height="4.3" fill="#cfd060" opacity="0.85"/>
<rect x="585.1" y="439.3" width="4.3" height="4.3" fill="#2a52b4" opacity="0.85"/>
<rect x="589.2" y="443.4" width="4.3" height="4.3" fill="#2a52b4" opacity="0.85"/>
<rect x="589.2" y="447.5" width="4.3" height="4.3" fill="#1864b4" opacity="0.85"/>
<rect x="925.4" y="451.6" width="4.3" height="4.3" fill="#94dc80" opacity="0.85"/>
<rect x="925.4" y="455.7" width="4.3" height="4.3" fill="#70cc90" opacity="0.85"/>
<rect x="925.4" y="459.8" width="4.3" height="4.3" fill="#70cc90" opacity="0.85"/>
<rect x="589.2" y="463.9" width="4.3" height="4.3" fill="#2a52b4" opacity="0.85"/>
<rect x="921.3" y="463.9" width="4.3" height="4.3" fill="#cfd060" opacity="0.85"/>
<rect x="589.2" y="468" width="4.3" height="4.3" fill="#1864b4" opacity="0.85"/>
<rect x="921.3" y="472.1" width="4.3" height="4.3" fill="#94dc80" opacity="0.85"/>
<rect x="593.3" y="476.2" width="4.3" height="4.3" fill="#1864b4" opacity="0.85"/>
<rect x="921.3" y="476.2" width="4.3" height="4.3" fill="#b8e264" opacity="0.85"/>
<rect x="921.3" y="480.3" width="4.3" height="4.3" fill="#b8e264" opacity="0.85"/>
<rect x="593.3" y="484.4" width="4.3" height="4.3" fill="#3a3aa8" opacity="0.85"/>
<rect x="921.3" y="484.4" width="4.3" height="4.3" fill="#cfd060" opacity="0.85"/>
<rect x="921.3" y="488.5" width="4.3" height="4.3" fill="#70cc90" opacity="0.85"/>
<rect x="917.2" y="492.6" width="4.3" height="4.3" fill="#cfd060" opacity="0.85"/>
<rect x="597.4" y="500.8" width="4.3" height="4.3" fill="#3a3aa8" opacity="0.85"/>
<rect x="917.2" y="500.8" width="4.3" height="4.3" fill="#70cc90" opacity="0.85"/>
<rect x="597.4" y="504.9" width="4.3" height="4.3" fill="#8a3c96" opacity="0.85"/>
<rect x="917.2" y="504.9" width="4.3" height="4.3" fill="#94dc80" opacity="0.85"/>
<rect x="917.2" y="509" width="4.3" height="4.3" fill="#a8e070" opacity="0.85"/>
<rect x="917.2" y="513.1" width="4.3" height="4.3" fill="#a8e070" opacity="0.85"/>
<rect x="917.2" y="517.2" width="4.3" height="4.3" fill="#a8e070" opacity="0.85"/>
<rect x="597.4" y="521.3" width="4.3" height="4.3" fill="#5a34a6" opacity="0.85"/>
<rect x="917.2" y="521.3" width="4.3" height="4.3" fill="#cfd060" opacity="0.85"/>
<rect x="601.5" y="529.5" width="4.3" height="4.3" fill="#1864b4" opacity="0.85"/>
<rect x="913.1" y="529.5" width="4.3" height="4.3" fill="#cfd060" opacity="0.85"/>
<rect x="601.5" y="533.6" width="4.3" height="4.3" fill="#8a3c96" opacity="0.85"/>
<rect x="913.1" y="533.6" width="4.3" height="4.3" fill="#a8e070" opacity="0.85"/>
<rect x="601.5" y="541.8" width="4.3" height="4.3" fill="#8a3c96" opacity="0.85"/>
<rect x="913.1" y="541.8" width="4.3" height="4.3" fill="#70cc90" opacity="0.85"/>
<rect x="601.5" y="545.9" width="4.3" height="4.3" fill="#2a52b4" opacity="0.85"/>
<rect x="913.1" y="545.9" width="4.3" height="4.3" fill="#cfd060" opacity="0.85"/>
<rect x="601.5" y="550" width="4.3" height="4.3" fill="#3a3aa8" opacity="0.85"/>
<rect x="913.1" y="550" width="4.3" height="4.3" fill="#a8e070" opacity="0.85"/>
<rect x="601.5" y="554.1" width="4.3" height="4.3" fill="#2a52b4" opacity="0.85"/>
<rect x="913.1" y="554.1" width="4.3" height="4.3" fill="#a8e070" opacity="0.85"/>
<rect x="605.6" y="558.2" width="4.3" height="2.87" fill="#2a52b4" opacity="0.6"/>
<rect x="609.7" y="558.2" width="4.3" height="2.87" fill="#8a3c96" opacity="0.6"/>
<rect x="630.2" y="558.2" width="4.3" height="2.87" fill="#5a34a6" opacity="0.6"/>
<rect x="638.4" y="558.2" width="4.3" height="2.87" fill="#2a52b4" opacity="0.6"/>
<rect x="658.9" y="558.2" width="4.3" height="2.87" fill="#8a3c96" opacity="0.6"/>
<rect x="667.1" y="558.2" width="4.3" height="2.87" fill="#2a52b4" opacity="0.6"/>
<rect x="675.3" y="558.2" width="4.3" height="2.87" fill="#1864b4" opacity="0.6"/>
<rect x="679.4" y="558.2" width="4.3" height="2.87" fill="#1864b4" opacity="0.6"/>
<rect x="691.7" y="558.2" width="4.3" height="2.87" fill="#2a52b4" opacity="0.6"/>
<rect x="699.9" y="558.2" width="4.3" height="2.87" fill="#2a52b4" opacity="0.6"/>
<rect x="708.1" y="558.2" width="4.3" height="2.87" fill="#1864b4" opacity="0.6"/>
<rect x="712.2" y="558.2" width="4.3" height="2.87" fill="#2a52b4" opacity="0.6"/>
<rect x="740.9" y="558.2" width="4.3" height="2.87" fill="#1864b4" opacity="0.6"/>
<rect x="769.6" y="558.2" width="4.3" height="2.87" fill="#a8e070" opacity="0.6"/>
<rect x="773.7" y="558.2" width="4.3" height="2.87" fill="#a8e070" opacity="0.6"/>
<rect x="794.2" y="558.2" width="4.3" height="2.87" fill="#b8e264" opacity="0.6"/>
<rect x="810.6" y="558.2" width="4.3" height="2.87" fill="#70cc90" opacity="0.6"/>
<rect x="814.7" y="558.2" width="4.3" height="2.87" fill="#a8e070" opacity="0.6"/>
<rect x="843.4" y="558.2" width="4.3" height="2.87" fill="#70cc90" opacity="0.6"/>
<rect x="847.5" y="558.2" width="4.3" height="2.87" fill="#b8e264" opacity="0.6"/>
<rect x="859.8" y="558.2" width="4.3" height="2.87" fill="#b8e264" opacity="0.6"/>
<polygon points="1336.4,345 1336.4,349.1 1336.4,349.1 1336.4,353.2 1336.4,353.2 1336.4,357.3 1336.4,357.3 1336.4,361.4 1340.5,361.4 1340.5,365.5 1340.5,365.5 1340.5,369.6 1340.5,369.6 1340.5,373.7 1340.5,373.7 1340.5,377.8 1340.5,377.8 1340.5,381.9 1340.5,381.9 1340.5,386 1340.5,386 1340.5,390.1 1344.6,390.1 1344.6,394.2 1344.6,394.2 1344.6,398.3 1344.6,398.3 1344.6,402.4 1344.6,402.4 1344.6,406.5 1344.6,406.5 1344.6,410.6 1344.6,410.6 1344.6,414.7 1344.6,414.7 1344.6,418.8 1344.6,418.8 1344.6,422.9 1348.7,422.9 1348.7,427 1348.7,427 1348.7,431.1 1348.7,431.1 1348.7,435.2 1348.7,435.2 1348.7,439.3 1348.7,439.3 1348.7,443.4 1348.7,443.4 1348.7,447.5 1348.7,447.5 1348.7,451.6 1352.8,451.6 1352.8,455.7 1352.8,455.7 1352.8,459.8 1352.8,459.8 1352.8,463.9 1352.8,463.9 1352.8,468 1352.8,468 1352.8,472.1 1352.8,472.1 1352.8,476.2 1352.8,476.2 1352.8,480.3 1352.8,480.3 1352.8,484.4 1356.9,484.4 1356.9,488.5 1356.9,488.5 1356.9,492.6 1356.9,492.6 1356.9,496.7 1356.9,496.7 1356.9,500.8 1356.9,500.8 1356.9,504.9 1356.9,504.9 1356.9,509 1356.9,509 1356.9,513.1 1361,513.1 1361,517.2 1361,517.2 1361,521.3 1361,521.3 1361,525.4 1361,525.4 1361,529.5 1361,529.5 1361,533.6 1361,533.6 1361,537.7 1361,537.7 1361,541.8 1365.1,541.8 1365.1,545.9 1365.1,545.9 1365.1,550 1365.1,550 1365.1,554.1 1365.1,554.1 1365.1,558.2 1672.6,558.2 1672.6,554.1 1672.6,554.1 1672.6,550 1672.6,550 1672.6,545.9 1672.6,545.9 1672.6,541.8 1672.6,541.8 1672.6,537.7 1672.6,537.7 1672.6,533.6 1672.6,533.6 1672.6,529.5 1676.7,529.5 1676.7,525.4 1676.7,525.4 1676.7,521.3 1676.7,521.3 1676.7,517.2 1676.7,517.2 1676.7,513.1 1676.7,513.1 1676.7,509 1676.7,509 1676.7,504.9 1676.7,504.9 1676.7,500.8 1676.7,500.8 1676.7,496.7 1680.8,496.7 1680.8,492.6 1680.8,492.6 1680.8,488.5 1680.8,488.5 1680.8,484.4 1680.8,484.4 1680.8,480.3 1680.8,480.3 1680.8,476.2 1680.8,476.2 1680.8,472.1 1680.8,472.1 1680.8,468 1684.9,468 1684.9,463.9 1684.9,463.9 1684.9,459.8 1684.9,459.8 1684.9,455.7 1684.9,455.7 1684.9,451.6 1684.9,451.6 1684.9,447.5 1684.9,447.5 1684.9,443.4 1684.9,443.4 1684.9,439.3 1684.9,439.3 1684.9,435.2 1689,435.2 1689,431.1 1689,431.1 1689,427 1689,427 1689,422.9 1689,422.9 1689,418.8 1689,418.8 1689,414.7 1689,414.7 1689,410.6 1689,410.6 1689,406.5 1689,406.5 1689,402.4 1693.1,402.4 1693.1,398.3 1693.1,398.3 1693.1,394.2 1693.1,394.2 1693.1,390.1 1693.1,390.1 1693.1,386 1693.1,386 1693.1,381.9 1693.1,381.9 1693.1,377.8 1693.1,377.8 1693.1,373.7 1693.1,373.7 1693.1,369.6 1697.2,369.6 1697.2,365.5 1697.2,365.5 1697.2,361.4 1697.2,361.4 1697.2,357.3 1697.2,357.3 1697.2,353.2 1697.2,353.2 1697.2,349.1 1697.2,349.1 1697.2,345" fill="url(#g4)"/>
<rect x="1332.3" y="345" width="4.3" height="4.3" fill="#70cc90" opacity="0.85"/>
<rect x="1332.3" y="357.3" width="4.3" height="4.3" fill="#70cc90" opacity="0.85"/>
<rect x="1697.2" y="357.3" width="4.3" height="4.3" fill="#8a3c96" opacity="0.85"/>
<rect x="1697.2" y="361.4" width="4.3" height="4.3" fill="#5a34a6" opacity="0.85"/>
<rect x="1336.4" y="365.5" width="4.3" height="4.3" fill="#a8e070" opacity="0.85"/>
<rect x="1697.2" y="365.5" width="4.3" height="4.3" fill="#8a3c96" opacity="0.85"/>
<rect x="1336.4" y="369.6" width="4.3" height="4.3" fill="#94dc80" opacity="0.85"/>
<rect x="1336.4" y="373.7" width="4.3" height="4.3" fill="#a8e070" opacity="0.85"/>
<rect x="1336.4" y="377.8" width="4.3" height="4.3" fill="#94dc80" opacity="0.85"/>
<rect x="1693.1" y="377.8" width="4.3" height="4.3" fill="#1864b4" opacity="0.85"/>
<rect x="1693.1" y="381.9" width="4.3" height="4.3" fill="#2a52b4" opacity="0.85"/>
<rect x="1693.1" y="390.1" width="4.3" height="4.3" fill="#3a3aa8" opacity="0.85"/>
<rect x="1340.5" y="398.3" width="4.3" height="4.3" fill="#94dc80" opacity="0.85"/>
<rect x="1340.5" y="402.4" width="4.3" height="4.3" fill="#a8e070" opacity="0.85"/>
<rect x="1689" y="402.4" width="4.3" height="4.3" fill="#3a3aa8" opacity="0.85"/>
<rect x="1340.5" y="406.5" width="4.3" height="4.3" fill="#b8e264" opacity="0.85"/>
<rect x="1689" y="406.5" width="4.3" height="4.3" fill="#3a3aa8" opacity="0.85"/>
<rect x="1340.5" y="410.6" width="4.3" height="4.3" fill="#70cc90" opacity="0.85"/>
<rect x="1340.5" y="414.7" width="4.3" height="4.3" fill="#b8e264" opacity="0.85"/>
<rect x="1689" y="414.7" width="4.3" height="4.3" fill="#2a52b4" opacity="0.85"/>
<rect x="1344.6" y="422.9" width="4.3" height="4.3" fill="#cfd060" opacity="0.85"/>
<rect x="1689" y="427" width="4.3" height="4.3" fill="#2a52b4" opacity="0.85"/>
<rect x="1344.6" y="431.1" width="4.3" height="4.3" fill="#b8e264" opacity="0.85"/>
<rect x="1344.6" y="435.2" width="4.3" height="4.3" fill="#cfd060" opacity="0.85"/>
<rect x="1684.9" y="435.2" width="4.3" height="4.3" fill="#5a34a6" opacity="0.85"/>
<rect x="1684.9" y="439.3" width="4.3" height="4.3" fill="#2a52b4" opacity="0.85"/>
<rect x="1684.9" y="443.4" width="4.3" height="4.3" fill="#2a52b4" opacity="0.85"/>
<rect x="1344.6" y="447.5" width="4.3" height="4.3" fill="#70cc90" opacity="0.85"/>
<rect x="1684.9" y="447.5" width="4.3" height="4.3" fill="#5a34a6" opacity="0.85"/>
<rect x="1348.7" y="451.6" width="4.3" height="4.3" fill="#cfd060" opacity="0.85"/>
<rect x="1684.9" y="451.6" width="4.3" height="4.3" fill="#2a52b4" opacity="0.85"/>
<rect x="1348.7" y="455.7" width="4.3" height="4.3" fill="#b8e264" opacity="0.85"/>
<rect x="1684.9" y="455.7" width="4.3" height="4.3" fill="#8a3c96" opacity="0.85"/>
<rect x="1348.7" y="459.8" width="4.3" height="4.3" fill="#70cc90" opacity="0.85"/>
<rect x="1348.7" y="463.9" width="4.3" height="4.3" fill="#a8e070" opacity="0.85"/>
<rect x="1680.8" y="468" width="4.3" height="4.3" fill="#5a34a6" opacity="0.85"/>
<rect x="1680.8" y="472.1" width="4.3" height="4.3" fill="#8a3c96" opacity="0.85"/>
<rect x="1680.8" y="476.2" width="4.3" height="4.3" fill="#1864b4" opacity="0.85"/>
<rect x="1352.8" y="484.4" width="4.3" height="4.3" fill="#94dc80" opacity="0.85"/>
<rect x="1680.8" y="484.4" width="4.3" height="4.3" fill="#8a3c96" opacity="0.85"/>
<rect x="1680.8" y="488.5" width="4.3" height="4.3" fill="#8a3c96" opacity="0.85"/>
<rect x="1352.8" y="492.6" width="4.3" height="4.3" fill="#b8e264" opacity="0.85"/>
<rect x="1676.7" y="496.7" width="4.3" height="4.3" fill="#2a52b4" opacity="0.85"/>
<rect x="1352.8" y="500.8" width="4.3" height="4.3" fill="#70cc90" opacity="0.85"/>
<rect x="1676.7" y="500.8" width="4.3" height="4.3" fill="#2a52b4" opacity="0.85"/>
<rect x="1676.7" y="504.9" width="4.3" height="4.3" fill="#1864b4" opacity="0.85"/>
<rect x="1356.9" y="513.1" width="4.3" height="4.3" fill="#b8e264" opacity="0.85"/>
<rect x="1676.7" y="513.1" width="4.3" height="4.3" fill="#3a3aa8" opacity="0.85"/>
<rect x="1356.9" y="517.2" width="4.3" height="4.3" fill="#cfd060" opacity="0.85"/>
<rect x="1676.7" y="517.2" width="4.3" height="4.3" fill="#2a52b4" opacity="0.85"/>
<rect x="1356.9" y="521.3" width="4.3" height="4.3" fill="#b8e264" opacity="0.85"/>
<rect x="1676.7" y="521.3" width="4.3" height="4.3" fill="#1864b4" opacity="0.85"/>
<rect x="1356.9" y="525.4" width="4.3" height="4.3" fill="#a8e070" opacity="0.85"/>
<rect x="1676.7" y="525.4" width="4.3" height="4.3" fill="#2a52b4" opacity="0.85"/>
<rect x="1356.9" y="529.5" width="4.3" height="4.3" fill="#a8e070" opacity="0.85"/>
<rect x="1672.6" y="529.5" width="4.3" height="4.3" fill="#8a3c96" opacity="0.85"/>
<rect x="1356.9" y="533.6" width="4.3" height="4.3" fill="#cfd060" opacity="0.85"/>
<rect x="1672.6" y="533.6" width="4.3" height="4.3" fill="#3a3aa8" opacity="0.85"/>
<rect x="1672.6" y="537.7" width="4.3" height="4.3" fill="#1864b4" opacity="0.85"/>
<rect x="1361" y="541.8" width="4.3" height="4.3" fill="#94dc80" opacity="0.85"/>
<rect x="1672.6" y="541.8" width="4.3" height="4.3" fill="#8a3c96" opacity="0.85"/>
<rect x="1361" y="545.9" width="4.3" height="4.3" fill="#b8e264" opacity="0.85"/>
<rect x="1672.6" y="550" width="4.3" height="4.3" fill="#3a3aa8" opacity="0.85"/>
<rect x="1361" y="554.1" width="4.3" height="4.3" fill="#94dc80" opacity="0.85"/>
<rect x="1672.6" y="554.1" width="4.3" height="4.3" fill="#5a34a6" opacity="0.85"/>
<rect x="1365.1" y="558.2" width="4.3" height="2.87" fill="#cfd060" opacity="0.6"/>
<rect x="1369.2" y="558.2" width="4.3" height="2.87" fill="#a8e070" opacity="0.6"/>
<rect x="1373.3" y="558.2" width="4.3" height="2.87" fill="#b8e264" opacity="0.6"/>
<rect x="1389.7" y="558.2" width="4.3" height="2.87" fill="#70cc90" opacity="0.6"/>
<rect x="1402" y="558.2" width="4.3" height="2.87" fill="#94dc80" opacity="0.6"/>
<rect x="1418.4" y="558.2" width="4.3" height="2.87" fill="#94dc80" opacity="0.6"/>
<rect x="1422.5" y="558.2" width="4.3" height="2.87" fill="#b8e264" opacity="0.6"/>
<rect x="1434.8" y="558.2" width="4.3" height="2.87" fill="#a8e070" opacity="0.6"/>
<rect x="1443" y="558.2" width="4.3" height="2.87" fill="#94dc80" opacity="0.6"/>
<rect x="1475.8" y="558.2" width="4.3" height="2.87" fill="#70cc90" opacity="0.6"/>
<rect x="1488.1" y="558.2" width="4.3" height="2.87" fill="#a8e070" opacity="0.6"/>
<rect x="1500.4" y="558.2" width="4.3" height="2.87" fill="#94dc80" opacity="0.6"/>
<rect x="1541.4" y="558.2" width="4.3" height="2.87" fill="#8a3c96" opacity="0.6"/>
<rect x="1545.5" y="558.2" width="4.3" height="2.87" fill="#8a3c96" opacity="0.6"/>
<rect x="1553.7" y="558.2" width="4.3" height="2.87" fill="#3a3aa8" opacity="0.6"/>
<rect x="1557.8" y="558.2" width="4.3" height="2.87" fill="#1864b4" opacity="0.6"/>
<rect x="1574.2" y="558.2" width="4.3" height="2.87" fill="#3a3aa8" opacity="0.6"/>
<rect x="1578.3" y="558.2" width="4.3" height="2.87" fill="#1864b4" opacity="0.6"/>
<rect x="1586.5" y="558.2" width="4.3" height="2.87" fill="#1864b4" opacity="0.6"/>
<rect x="1607" y="558.2" width="4.3" height="2.87" fill="#1864b4" opacity="0.6"/>
<rect x="1611.1" y="558.2" width="4.3" height="2.87" fill="#8a3c96" opacity="0.6"/>
<rect x="1619.3" y="558.2" width="4.3" height="2.87" fill="#5a34a6" opacity="0.6"/>
<rect x="1623.4" y="558.2" width="4.3" height="2.87" fill="#5a34a6" opacity="0.6"/>
<rect x="1635.7" y="558.2" width="4.3" height="2.87" fill="#1864b4" opacity="0.6"/>
<rect x="1639.8" y="558.2" width="4.3" height="2.87" fill="#5a34a6" opacity="0.6"/>
<rect x="1656.2" y="558.2" width="4.3" height="2.87" fill="#8a3c96" opacity="0.6"/>
<rect x="190.3" y="259.2" width="378.4" height="377.6" fill="none" stroke="#1e2326" stroke-width="1.6"/>
<rect x="568.7" y="259.2" width="378.7" height="377.6" fill="none" stroke="#1e2326" stroke-width="1.6"/>
<rect x="949.3" y="259.2" width="378.9" height="377.6" fill="none" stroke="#1e2326" stroke-width="1.6"/>
<rect x="1328.2" y="259.2" width="378.3" height="377.6" fill="none" stroke="#1e2326" stroke-width="1.6"/>
<line x1="948.35" y1="258" x2="948.35" y2="638" stroke="#ffffff" stroke-width="1.2"/>
<rect x="153.4" y="278.7" width="25" height="338.5" fill="url(#gcb)" stroke="#555" stroke-width="0.8"/>
<text x="146.8" y="285.6" font-family='"DejaVu Sans", sans-serif' font-size="19" fill="#2a3238" text-anchor="end">+2&#960;</text>
<line x1="153.4" y1="278.7" x2="157" y2="278.7" stroke="#333" stroke-width="1"/>
<text x="146.8" y="370.2" font-family='"DejaVu Sans", sans-serif' font-size="19" fill="#2a3238" text-anchor="end">+&#960;</text>
<line x1="153.4" y1="363.3" x2="157" y2="363.3" stroke="#333" stroke-width="1"/>
<text x="146.8" y="454.8" font-family='"DejaVu Sans", sans-serif' font-size="19" fill="#2a3238" text-anchor="end">0</text>
<line x1="153.4" y1="447.9" x2="157" y2="447.9" stroke="#333" stroke-width="1"/>
<text x="146.8" y="539.4" font-family='"DejaVu Sans", sans-serif' font-size="19" fill="#2a3238" text-anchor="end">-&#960;</text>
<line x1="153.4" y1="532.5" x2="157" y2="532.5" stroke="#333" stroke-width="1"/>
<text x="146.8" y="624.1" font-family='"DejaVu Sans", sans-serif' font-size="19" fill="#2a3238" text-anchor="end">-2&#960;</text>
<line x1="153.4" y1="617.2" x2="157" y2="617.2" stroke="#333" stroke-width="1"/>
<text transform="translate(103.5,456) rotate(-90)" font-family='"DejaVu Sans", sans-serif' font-size="29" fill="#2a3238" text-anchor="middle" textLength="321" lengthAdjust="spacingAndGlyphs">Unwrapped Phase (rad)</text>
<rect x="233.7" y="363.7" width="292" height="184.2" fill="none" stroke="#2c3136" stroke-width="4.2"/>
<line x1="233.7" y1="548" x2="208.1" y2="636.8" stroke="#2c3136" stroke-width="3.6"/>
<line x1="525.8" y1="548" x2="550.3" y2="636.8" stroke="#2c3136" stroke-width="3.6"/>
<line x1="479" y1="372" x2="479" y2="541" stroke="#ffffff" stroke-width="3.8"/>
<path d="M479,364.5 L471.8,378 L486.2,378 Z" fill="#ffffff" stroke="none" stroke-width="1"/>
<path d="M479,548.5 L471.8,535 L486.2,535 Z" fill="#ffffff" stroke="none" stroke-width="1"/>
<text transform="translate(492.5,456.5) rotate(90)" font-family='"Liberation Sans", sans-serif' font-size="23" fill="#ffffff" text-anchor="middle" textLength="77.5" lengthAdjust="spacingAndGlyphs">average</text>
<text x="295.5" y="303.2" font-family='"Liberation Sans", sans-serif' font-size="22" fill="#ffffff" textLength="167" lengthAdjust="spacingAndGlyphs">TR = 5ms. &#981;=0&#176;</text>
<rect x="189.5" y="700.3" width="378.5" height="178.9" fill="#ffffff"/>
<line x1="235.7" y1="700.3" x2="235.7" y2="879.2" stroke="#7d8186" stroke-width="1.5"/>
<line x1="235.7" y1="879.2" x2="235.7" y2="875.2" stroke="#2a3238" stroke-width="1.5"/>
<line x1="312.5" y1="700.3" x2="312.5" y2="879.2" stroke="#7d8186" stroke-width="1.5"/>
<line x1="312.5" y1="879.2" x2="312.5" y2="875.2" stroke="#2a3238" stroke-width="1.5"/>
<line x1="389.3" y1="700.3" x2="389.3" y2="879.2" stroke="#7d8186" stroke-width="1.5"/>
<line x1="389.3" y1="879.2" x2="389.3" y2="875.2" stroke="#2a3238" stroke-width="1.5"/>
<line x1="466.1" y1="700.3" x2="466.1" y2="879.2" stroke="#7d8186" stroke-width="1.5"/>
<line x1="466.1" y1="879.2" x2="466.1" y2="875.2" stroke="#2a3238" stroke-width="1.5"/>
<line x1="542.9" y1="700.3" x2="542.9" y2="879.2" stroke="#7d8186" stroke-width="1.5"/>
<line x1="542.9" y1="879.2" x2="542.9" y2="875.2" stroke="#2a3238" stroke-width="1.5"/>
<line x1="189.5" y1="745.02" x2="568" y2="745.02" stroke="#7d8186" stroke-width="1.5"/>
<line x1="189.5" y1="834.48" x2="568" y2="834.48" stroke="#7d8186" stroke-width="1.5"/>
<line x1="189.5" y1="789.75" x2="568" y2="789.75" stroke="#2a2f33" stroke-width="1.6"/>
<line x1="189.5" y1="745.02" x2="193.5" y2="745.02" stroke="#2a3238" stroke-width="1.5"/>
<line x1="568" y1="745.02" x2="564" y2="745.02" stroke="#2a3238" stroke-width="1.5"/>
<line x1="189.5" y1="789.75" x2="193.5" y2="789.75" stroke="#2a3238" stroke-width="1.5"/>
<line x1="568" y1="789.75" x2="564" y2="789.75" stroke="#2a3238" stroke-width="1.5"/>
<line x1="189.5" y1="834.48" x2="193.5" y2="834.48" stroke="#2a3238" stroke-width="1.5"/>
<line x1="568" y1="834.48" x2="564" y2="834.48" stroke="#2a3238" stroke-width="1.5"/>
<polyline points="189.47,817.19 192.97,817.17 196.48,817.08 199.98,816.94 203.49,816.74 206.99,815.99 210.5,814.39 214,812.25 217.51,809.28 221.01,806.17 224.52,802.98 228.02,799.63 231.52,796.53 235.03,794.04 238.53,791.97 242.04,789.8 245.54,786.66 249.05,782.79 252.55,779.9 256.06,779.4 259.56,779.89 263.07,780.73 266.57,781.74 270.08,783.13 273.58,785.49 277.08,790.24 280.59,793.23 284.09,795.54 287.6,797.48 291.1,798.89 294.61,799.56 298.11,799.34 301.62,798.31 305.12,796.75 308.63,794.86 312.13,791.51 315.63,787.5 319.14,784.05 322.64,780.67 326.15,777.33 329.65,774.17 333.16,771.31 336.66,768.89 340.17,766.63 343.67,764.35 347.18,762.22 350.68,760.44 354.19,759.18 357.69,758.62 361.19,759.09 364.7,760.68 368.2,763.03 371.71,765.78 375.21,769.2 378.72,774.38 382.22,780.39 385.73,786.19 389.23,791.08 392.74,795.73 396.24,800.17 399.74,804.3 403.25,808.12 406.75,812.1 410.26,815.78 413.76,818.56 417.27,819.93 420.77,820.76 424.28,821.24 427.78,821.04 431.29,819.66 434.79,817.46 438.3,814.93 441.8,812.35 445.3,808.97 448.81,804.91 452.31,800.55 455.82,796.24 459.32,792.36 462.83,789.25 466.33,787.04 469.84,784.96 473.34,783.1 476.85,781.73 480.35,781.06 483.86,781.31 487.36,782.37 490.86,783.95 494.37,785.75 497.87,787.46 501.38,789.33 504.88,791.69 508.39,794.18 511.89,796.47 515.4,798.21 518.9,799.08 522.41,798.94 525.91,798.28 529.41,797.25 532.92,795.99 536.42,794.35 539.93,791.62 543.43,788.27 546.94,784.92 550.44,782.05 553.95,779.33 557.45,776.65 560.96,774.03 564.46,771.47 567.97,768.98" fill="none" stroke="#0072bd" stroke-width="3.2" stroke-linejoin="round"/>
<rect x="189.5" y="700.3" width="378.5" height="178.9" fill="none" stroke="#2a3238" stroke-width="2.2"/>
<text x="235.7" y="911.3" font-family='"DejaVu Sans", sans-serif' font-size="25.5" fill="#2a3238" text-anchor="middle">-30</text>
<text x="312.5" y="911.3" font-family='"DejaVu Sans", sans-serif' font-size="25.5" fill="#2a3238" text-anchor="middle">-15</text>
<text x="389.3" y="911.3" font-family='"DejaVu Sans", sans-serif' font-size="25.5" fill="#2a3238" text-anchor="middle">0</text>
<text x="466.1" y="911.3" font-family='"DejaVu Sans", sans-serif' font-size="25.5" fill="#2a3238" text-anchor="middle">15</text>
<text x="542.9" y="911.3" font-family='"DejaVu Sans", sans-serif' font-size="25.5" fill="#2a3238" text-anchor="middle">30</text>
<text x="378.75" y="943.3" font-family='"DejaVu Sans", sans-serif' font-size="27.3" fill="#2a3238" text-anchor="middle">Position (mm)</text>
<text x="546.5" y="735.3" font-family='"DejaVu Sans", sans-serif' font-size="26.5" fill="#2a3238" text-anchor="end">n=1</text>
<text x="547.2" y="767.9" font-family='"DejaVu Sans", sans-serif' font-size="28" fill="#8b0a0a" text-anchor="end"><tspan font-family='"Liberation Serif", serif' font-size="34" dy="4.3">&#215;</tspan><tspan dy="-4.3">20.0</tspan></text>
<text x="180.3" y="709.6" font-family='"DejaVu Sans", sans-serif' font-size="25" fill="#2a3238" text-anchor="end">+2&#960;</text>
<text x="180.3" y="754.32" font-family='"DejaVu Sans", sans-serif' font-size="25" fill="#2a3238" text-anchor="end">+&#960;</text>
<text x="180.3" y="799.05" font-family='"DejaVu Sans", sans-serif' font-size="25" fill="#2a3238" text-anchor="end">0</text>
<text x="180.3" y="843.77" font-family='"DejaVu Sans", sans-serif' font-size="25" fill="#2a3238" text-anchor="end">-&#960;</text>
<text x="180.3" y="888.5" font-family='"DejaVu Sans", sans-serif' font-size="25" fill="#2a3238" text-anchor="end">-2&#960;</text>
<text transform="translate(119,790.25) rotate(-90)" font-family='"DejaVu Sans", sans-serif' font-size="27" fill="#2a3238" text-anchor="middle" textLength="154" lengthAdjust="spacingAndGlyphs">Phase (rad)</text>
<rect x="568" y="700.3" width="378.8" height="178.9" fill="#ffffff"/>
<line x1="614.24" y1="700.3" x2="614.24" y2="879.2" stroke="#7d8186" stroke-width="1.5"/>
<line x1="614.24" y1="879.2" x2="614.24" y2="875.2" stroke="#2a3238" stroke-width="1.5"/>
<line x1="691.1" y1="700.3" x2="691.1" y2="879.2" stroke="#7d8186" stroke-width="1.5"/>
<line x1="691.1" y1="879.2" x2="691.1" y2="875.2" stroke="#2a3238" stroke-width="1.5"/>
<line x1="767.96" y1="700.3" x2="767.96" y2="879.2" stroke="#7d8186" stroke-width="1.5"/>
<line x1="767.96" y1="879.2" x2="767.96" y2="875.2" stroke="#2a3238" stroke-width="1.5"/>
<line x1="844.82" y1="700.3" x2="844.82" y2="879.2" stroke="#7d8186" stroke-width="1.5"/>
<line x1="844.82" y1="879.2" x2="844.82" y2="875.2" stroke="#2a3238" stroke-width="1.5"/>
<line x1="921.68" y1="700.3" x2="921.68" y2="879.2" stroke="#7d8186" stroke-width="1.5"/>
<line x1="921.68" y1="879.2" x2="921.68" y2="875.2" stroke="#2a3238" stroke-width="1.5"/>
<line x1="568" y1="745.02" x2="946.8" y2="745.02" stroke="#7d8186" stroke-width="1.5"/>
<line x1="568" y1="834.48" x2="946.8" y2="834.48" stroke="#7d8186" stroke-width="1.5"/>
<line x1="568" y1="789.75" x2="946.8" y2="789.75" stroke="#2a2f33" stroke-width="1.6"/>
<line x1="568" y1="745.02" x2="572" y2="745.02" stroke="#2a3238" stroke-width="1.5"/>
<line x1="946.8" y1="745.02" x2="942.8" y2="745.02" stroke="#2a3238" stroke-width="1.5"/>
<line x1="568" y1="789.75" x2="572" y2="789.75" stroke="#2a3238" stroke-width="1.5"/>
<line x1="946.8" y1="789.75" x2="942.8" y2="789.75" stroke="#2a3238" stroke-width="1.5"/>
<line x1="568" y1="834.48" x2="572" y2="834.48" stroke="#2a3238" stroke-width="1.5"/>
<line x1="946.8" y1="834.48" x2="942.8" y2="834.48" stroke="#2a3238" stroke-width="1.5"/>
<polyline points="568,711.7 600,724.5 650,745 700,764 768,790.2 800,803 850,822 900,841 946.5,860.2" fill="none" stroke="#0072bd" stroke-width="3.2" stroke-linejoin="round"/>
<rect x="568" y="700.3" width="378.8" height="178.9" fill="none" stroke="#2a3238" stroke-width="2.2"/>
<text x="614.24" y="911.3" font-family='"DejaVu Sans", sans-serif' font-size="25.5" fill="#2a3238" text-anchor="middle">-30</text>
<text x="691.1" y="911.3" font-family='"DejaVu Sans", sans-serif' font-size="25.5" fill="#2a3238" text-anchor="middle">-15</text>
<text x="767.96" y="911.3" font-family='"DejaVu Sans", sans-serif' font-size="25.5" fill="#2a3238" text-anchor="middle">0</text>
<text x="844.82" y="911.3" font-family='"DejaVu Sans", sans-serif' font-size="25.5" fill="#2a3238" text-anchor="middle">15</text>
<text x="921.68" y="911.3" font-family='"DejaVu Sans", sans-serif' font-size="25.5" fill="#2a3238" text-anchor="middle">30</text>
<text x="757.4" y="943.3" font-family='"DejaVu Sans", sans-serif' font-size="27.3" fill="#2a3238" text-anchor="middle">Position (mm)</text>
<text x="925.3" y="735.3" font-family='"DejaVu Sans", sans-serif' font-size="26.5" fill="#2a3238" text-anchor="end">n=2</text>
<rect x="946.8" y="700.3" width="378.5" height="178.9" fill="#ffffff"/>
<line x1="993" y1="700.3" x2="993" y2="879.2" stroke="#7d8186" stroke-width="1.5"/>
<line x1="993" y1="879.2" x2="993" y2="875.2" stroke="#2a3238" stroke-width="1.5"/>
<line x1="1069.8" y1="700.3" x2="1069.8" y2="879.2" stroke="#7d8186" stroke-width="1.5"/>
<line x1="1069.8" y1="879.2" x2="1069.8" y2="875.2" stroke="#2a3238" stroke-width="1.5"/>
<line x1="1146.6" y1="700.3" x2="1146.6" y2="879.2" stroke="#7d8186" stroke-width="1.5"/>
<line x1="1146.6" y1="879.2" x2="1146.6" y2="875.2" stroke="#2a3238" stroke-width="1.5"/>
<line x1="1223.4" y1="700.3" x2="1223.4" y2="879.2" stroke="#7d8186" stroke-width="1.5"/>
<line x1="1223.4" y1="879.2" x2="1223.4" y2="875.2" stroke="#2a3238" stroke-width="1.5"/>
<line x1="1300.2" y1="700.3" x2="1300.2" y2="879.2" stroke="#7d8186" stroke-width="1.5"/>
<line x1="1300.2" y1="879.2" x2="1300.2" y2="875.2" stroke="#2a3238" stroke-width="1.5"/>
<line x1="946.8" y1="745.02" x2="1325.3" y2="745.02" stroke="#7d8186" stroke-width="1.5"/>
<line x1="946.8" y1="834.48" x2="1325.3" y2="834.48" stroke="#7d8186" stroke-width="1.5"/>
<line x1="946.8" y1="789.75" x2="1325.3" y2="789.75" stroke="#2a2f33" stroke-width="1.6"/>
<line x1="946.8" y1="745.02" x2="950.8" y2="745.02" stroke="#2a3238" stroke-width="1.5"/>
<line x1="1325.3" y1="745.02" x2="1321.3" y2="745.02" stroke="#2a3238" stroke-width="1.5"/>
<line x1="946.8" y1="789.75" x2="950.8" y2="789.75" stroke="#2a3238" stroke-width="1.5"/>
<line x1="1325.3" y1="789.75" x2="1321.3" y2="789.75" stroke="#2a3238" stroke-width="1.5"/>
<line x1="946.8" y1="834.48" x2="950.8" y2="834.48" stroke="#2a3238" stroke-width="1.5"/>
<line x1="1325.3" y1="834.48" x2="1321.3" y2="834.48" stroke="#2a3238" stroke-width="1.5"/>
<polyline points="946.53,764.75 949.02,763.12 951.5,762.2 953.99,762.29 956.47,762.68 958.96,763.29 961.44,764.09 963.93,765.01 966.41,766.01 968.89,767.33 971.38,769.28 973.86,771.62 976.35,774.07 978.83,776.38 981.32,778.37 983.8,780.22 986.28,782.11 988.77,784.19 991.25,786.84 993.74,789.36 996.22,790.91 998.71,792.01 1001.19,793.16 1003.68,794.77 1006.16,796.61 1008.64,798.13 1011.13,799.12 1013.61,799.77 1016.1,799.71 1018.58,799.34 1021.07,798.84 1023.55,798.1 1026.03,796.95 1028.52,795.52 1031,793.9 1033.49,792.17 1035.97,789.76 1038.46,786.89 1040.94,784.33 1043.42,782.78 1045.91,781.77 1048.39,780.91 1050.88,780.29 1053.36,780.01 1055.85,780.19 1058.33,780.87 1060.82,781.92 1063.3,783.18 1065.78,784.63 1068.27,786.94 1070.75,789.78 1073.24,792.55 1075.72,794.69 1078.21,796.37 1080.69,797.92 1083.17,799.65 1085.66,801.93 1088.14,805.26 1090.63,808.91 1093.11,811.97 1095.6,813.69 1098.08,814.68 1100.57,815.73 1103.05,817.49 1105.53,819.42 1108.02,820.56 1110.5,820.75 1112.99,820.88 1115.47,820.96 1117.96,820.99 1120.44,820.69 1122.92,819.81 1125.41,818.6 1127.89,816.98 1130.38,814.33 1132.86,811.01 1135.35,807.43 1137.83,804 1140.32,800.78 1142.8,797.47 1145.28,794.11 1147.77,790.74 1150.25,787.31 1152.74,783.86 1155.22,780.45 1157.71,777.18 1160.19,773.92 1162.67,770.64 1165.16,767.64 1167.64,765.21 1170.13,763.11 1172.61,761.36 1175.1,760.79 1177.58,760.82 1180.07,760.9 1182.55,761.01 1185.03,761.15 1187.52,761.5 1190,762.36 1192.49,763.6 1194.97,765.11 1197.46,766.75 1199.94,769.04 1202.42,772.11 1204.91,775.33 1207.39,778.08 1209.88,780.19 1212.36,782.04 1214.85,783.9 1217.33,786.04 1219.82,788.86 1222.3,791.98 1224.78,794.57 1227.27,796.46 1229.75,798.15 1232.24,799.13 1234.72,799.2 1237.21,799.18 1239.69,799.13 1242.17,799.05 1244.66,798.94 1247.14,798.79 1249.63,797.16 1252.11,794.54 1254.6,792.4 1257.08,790.09 1259.56,787.79 1262.05,785.73 1264.53,784.15 1267.02,783.31 1269.5,782.84 1271.99,782.43 1274.47,782.08 1276.96,781.79 1279.44,781.57 1281.92,781.44 1284.41,781.39 1286.89,781.78 1289.38,782.91 1291.86,784.52 1294.35,786.37 1296.83,788.21 1299.31,790.46 1301.8,793.12 1304.28,795.82 1306.77,798.2 1309.25,800.37 1311.74,802.47 1314.22,804.5 1316.71,806.44 1319.19,808.3 1321.67,810.05 1324.16,811.68" fill="none" stroke="#0072bd" stroke-width="3.2" stroke-linejoin="round"/>
<rect x="946.8" y="700.3" width="378.5" height="178.9" fill="none" stroke="#2a3238" stroke-width="2.2"/>
<text x="993" y="911.3" font-family='"DejaVu Sans", sans-serif' font-size="25.5" fill="#2a3238" text-anchor="middle">-30</text>
<text x="1069.8" y="911.3" font-family='"DejaVu Sans", sans-serif' font-size="25.5" fill="#2a3238" text-anchor="middle">-15</text>
<text x="1146.6" y="911.3" font-family='"DejaVu Sans", sans-serif' font-size="25.5" fill="#2a3238" text-anchor="middle">0</text>
<text x="1223.4" y="911.3" font-family='"DejaVu Sans", sans-serif' font-size="25.5" fill="#2a3238" text-anchor="middle">15</text>
<text x="1300.2" y="911.3" font-family='"DejaVu Sans", sans-serif' font-size="25.5" fill="#2a3238" text-anchor="middle">30</text>
<text x="1136.05" y="943.3" font-family='"DejaVu Sans", sans-serif' font-size="27.3" fill="#2a3238" text-anchor="middle">Position (mm)</text>
<text x="1303.8" y="735.3" font-family='"DejaVu Sans", sans-serif' font-size="26.5" fill="#2a3238" text-anchor="end">n=3</text>
<text x="1304.5" y="767.9" font-family='"DejaVu Sans", sans-serif' font-size="28" fill="#8b0a0a" text-anchor="end"><tspan font-family='"Liberation Serif", serif' font-size="34" dy="4.3">&#215;</tspan><tspan dy="-4.3">20.0</tspan></text>
<rect x="1325.3" y="700.3" width="378.2" height="178.9" fill="#ffffff"/>
<line x1="1371.46" y1="700.3" x2="1371.46" y2="879.2" stroke="#7d8186" stroke-width="1.5"/>
<line x1="1371.46" y1="879.2" x2="1371.46" y2="875.2" stroke="#2a3238" stroke-width="1.5"/>
<line x1="1448.2" y1="700.3" x2="1448.2" y2="879.2" stroke="#7d8186" stroke-width="1.5"/>
<line x1="1448.2" y1="879.2" x2="1448.2" y2="875.2" stroke="#2a3238" stroke-width="1.5"/>
<line x1="1524.94" y1="700.3" x2="1524.94" y2="879.2" stroke="#7d8186" stroke-width="1.5"/>
<line x1="1524.94" y1="879.2" x2="1524.94" y2="875.2" stroke="#2a3238" stroke-width="1.5"/>
<line x1="1601.68" y1="700.3" x2="1601.68" y2="879.2" stroke="#7d8186" stroke-width="1.5"/>
<line x1="1601.68" y1="879.2" x2="1601.68" y2="875.2" stroke="#2a3238" stroke-width="1.5"/>
<line x1="1678.42" y1="700.3" x2="1678.42" y2="879.2" stroke="#7d8186" stroke-width="1.5"/>
<line x1="1678.42" y1="879.2" x2="1678.42" y2="875.2" stroke="#2a3238" stroke-width="1.5"/>
<line x1="1325.3" y1="745.02" x2="1703.5" y2="745.02" stroke="#7d8186" stroke-width="1.5"/>
<line x1="1325.3" y1="834.48" x2="1703.5" y2="834.48" stroke="#7d8186" stroke-width="1.5"/>
<line x1="1325.3" y1="789.75" x2="1703.5" y2="789.75" stroke="#2a2f33" stroke-width="1.6"/>
<line x1="1325.3" y1="745.02" x2="1329.3" y2="745.02" stroke="#2a3238" stroke-width="1.5"/>
<line x1="1703.5" y1="745.02" x2="1699.5" y2="745.02" stroke="#2a3238" stroke-width="1.5"/>
<line x1="1325.3" y1="789.75" x2="1329.3" y2="789.75" stroke="#2a3238" stroke-width="1.5"/>
<line x1="1703.5" y1="789.75" x2="1699.5" y2="789.75" stroke="#2a3238" stroke-width="1.5"/>
<line x1="1325.3" y1="834.48" x2="1329.3" y2="834.48" stroke="#2a3238" stroke-width="1.5"/>
<line x1="1703.5" y1="834.48" x2="1699.5" y2="834.48" stroke="#2a3238" stroke-width="1.5"/>
<polyline points="1325.3,867.3 1400,838.5 1460,816 1525,790.2 1600,761 1650,741 1703.3,719.9" fill="none" stroke="#0072bd" stroke-width="3.2" stroke-linejoin="round"/>
<rect x="1325.3" y="700.3" width="378.2" height="178.9" fill="none" stroke="#2a3238" stroke-width="2.2"/>
<text x="1371.46" y="911.3" font-family='"DejaVu Sans", sans-serif' font-size="25.5" fill="#2a3238" text-anchor="middle">-30</text>
<text x="1448.2" y="911.3" font-family='"DejaVu Sans", sans-serif' font-size="25.5" fill="#2a3238" text-anchor="middle">-15</text>
<text x="1524.94" y="911.3" font-family='"DejaVu Sans", sans-serif' font-size="25.5" fill="#2a3238" text-anchor="middle">0</text>
<text x="1601.68" y="911.3" font-family='"DejaVu Sans", sans-serif' font-size="25.5" fill="#2a3238" text-anchor="middle">15</text>
<text x="1678.42" y="911.3" font-family='"DejaVu Sans", sans-serif' font-size="25.5" fill="#2a3238" text-anchor="middle">30</text>
<text x="1514.4" y="943.3" font-family='"DejaVu Sans", sans-serif' font-size="27.3" fill="#2a3238" text-anchor="middle">Position (mm)</text>
<text x="1682" y="735.3" font-family='"DejaVu Sans", sans-serif' font-size="26.5" fill="#2a3238" text-anchor="end">n=4</text>
<line x1="208.1" y1="636.8" x2="189.8" y2="700.3" stroke="#2c3136" stroke-width="1.4"/>
<line x1="550.3" y1="636.8" x2="567.8" y2="700.3" stroke="#2c3136" stroke-width="1.4"/>
<text x="2069" y="775.3" font-family='"Liberation Sans", sans-serif' font-size="22.5" fill="#2b3741" text-anchor="end" textLength="64.5" lengthAdjust="spacingAndGlyphs">Apply</text>
<text x="2069" y="808" font-family='"Liberation Sans", sans-serif' font-size="29" fill="#2b3741" text-anchor="end" textLength="341" lengthAdjust="spacingAndGlyphs">Fourier Transformation</text>
<text x="2069" y="838" font-family='"Liberation Sans", sans-serif' font-size="22.5" fill="#2b3741" text-anchor="end" textLength="82" lengthAdjust="spacingAndGlyphs">along n</text>
<text x="1732.5" y="239" font-family='"Liberation Sans", sans-serif' font-size="45" fill="#2b3741" textLength="646.5" lengthAdjust="spacingAndGlyphs">(B) Reconstructed Displacement</text>
<rect x="1971.75" y="358.75" width="415.25" height="225.75" fill="#ffffff"/>
<line x1="2021.75" y1="358.75" x2="2021.75" y2="584.5" stroke="#7d8186" stroke-width="1.5"/>
<line x1="2106.25" y1="358.75" x2="2106.25" y2="584.5" stroke="#7d8186" stroke-width="1.5"/>
<line x1="2275.25" y1="358.75" x2="2275.25" y2="584.5" stroke="#7d8186" stroke-width="1.5"/>
<line x1="2359.75" y1="358.75" x2="2359.75" y2="584.5" stroke="#7d8186" stroke-width="1.5"/>
<line x1="1971.75" y1="415.19" x2="2387" y2="415.19" stroke="#7d8186" stroke-width="1.5"/>
<line x1="1971.75" y1="528.06" x2="2387" y2="528.06" stroke="#7d8186" stroke-width="1.5"/>
<line x1="1971.75" y1="471.62" x2="2387" y2="471.62" stroke="#2a2f33" stroke-width="1.6"/>
<line x1="2067.2" y1="358.75" x2="2067.2" y2="584.5" stroke="#7a4a3c" stroke-width="2"/>
<line x1="2190.75" y1="358.75" x2="2190.75" y2="584.5" stroke="#7a4a3c" stroke-width="2"/>
<line x1="2314.5" y1="358.75" x2="2314.5" y2="584.5" stroke="#7a4a3c" stroke-width="2"/>
<line x1="1971.75" y1="570" x2="2387" y2="383.2" stroke="#b0604a" stroke-width="1.2"/>
<line x1="1971.75" y1="570.3" x2="2387" y2="383" stroke="#0072bd" stroke-width="3.6"/>
<line x1="2021.75" y1="584.5" x2="2021.75" y2="580.5" stroke="#2a3238" stroke-width="1.5"/>
<line x1="2021.75" y1="358.75" x2="2021.75" y2="362.75" stroke="#2a3238" stroke-width="1.5"/>
<line x1="2106.25" y1="584.5" x2="2106.25" y2="580.5" stroke="#2a3238" stroke-width="1.5"/>
<line x1="2106.25" y1="358.75" x2="2106.25" y2="362.75" stroke="#2a3238" stroke-width="1.5"/>
<line x1="2190.75" y1="584.5" x2="2190.75" y2="580.5" stroke="#2a3238" stroke-width="1.5"/>
<line x1="2190.75" y1="358.75" x2="2190.75" y2="362.75" stroke="#2a3238" stroke-width="1.5"/>
<line x1="2275.25" y1="584.5" x2="2275.25" y2="580.5" stroke="#2a3238" stroke-width="1.5"/>
<line x1="2275.25" y1="358.75" x2="2275.25" y2="362.75" stroke="#2a3238" stroke-width="1.5"/>
<line x1="2359.75" y1="584.5" x2="2359.75" y2="580.5" stroke="#2a3238" stroke-width="1.5"/>
<line x1="2359.75" y1="358.75" x2="2359.75" y2="362.75" stroke="#2a3238" stroke-width="1.5"/>
<line x1="1971.75" y1="415.19" x2="1975.75" y2="415.19" stroke="#2a3238" stroke-width="1.5"/>
<line x1="2387" y1="415.19" x2="2383" y2="415.19" stroke="#2a3238" stroke-width="1.5"/>
<line x1="1971.75" y1="471.62" x2="1975.75" y2="471.62" stroke="#2a3238" stroke-width="1.5"/>
<line x1="2387" y1="471.62" x2="2383" y2="471.62" stroke="#2a3238" stroke-width="1.5"/>
<line x1="1971.75" y1="528.06" x2="1975.75" y2="528.06" stroke="#2a3238" stroke-width="1.5"/>
<line x1="2387" y1="528.06" x2="2383" y2="528.06" stroke="#2a3238" stroke-width="1.5"/>
<rect x="1971.75" y="358.75" width="415.25" height="225.75" fill="none" stroke="#2a3238" stroke-width="2.2"/>
<line x1="1971.75" y1="358.75" x2="2387" y2="358.75" stroke="#7a4a3c" stroke-width="2.4"/>
<text x="1962.6" y="368.15" font-family='"DejaVu Sans", sans-serif' font-size="25.5" fill="#2a3238" text-anchor="end">+2&#960;</text>
<text x="1962.6" y="424.59" font-family='"DejaVu Sans", sans-serif' font-size="25.5" fill="#2a3238" text-anchor="end">+&#960;</text>
<text x="1962.6" y="481.02" font-family='"DejaVu Sans", sans-serif' font-size="25.5" fill="#2a3238" text-anchor="end">0</text>
<text x="1962.6" y="537.46" font-family='"DejaVu Sans", sans-serif' font-size="25.5" fill="#2a3238" text-anchor="end">-&#960;</text>
<text x="1962.6" y="593.9" font-family='"DejaVu Sans", sans-serif' font-size="25.5" fill="#2a3238" text-anchor="end">-2&#960;</text>
<text x="2021.75" y="616.5" font-family='"DejaVu Sans", sans-serif' font-size="25.5" fill="#2a3238" text-anchor="middle">-30</text>
<text x="2106.25" y="616.5" font-family='"DejaVu Sans", sans-serif' font-size="25.5" fill="#2a3238" text-anchor="middle">-15</text>
<text x="2190.75" y="616.5" font-family='"DejaVu Sans", sans-serif' font-size="25.5" fill="#2a3238" text-anchor="middle">0</text>
<text x="2275.25" y="616.5" font-family='"DejaVu Sans", sans-serif' font-size="25.5" fill="#2a3238" text-anchor="middle">15</text>
<text x="2359.75" y="616.5" font-family='"DejaVu Sans", sans-serif' font-size="25.5" fill="#2a3238" text-anchor="middle">30</text>
<text x="2180" y="649.4" font-family='"DejaVu Sans", sans-serif' font-size="27.3" fill="#2a3238" text-anchor="middle">Position (mm)</text>
<text x="2067.2" y="344.3" font-family='"DejaVu Sans", sans-serif' font-size="25" fill="#7a4838" text-anchor="middle">-&#960;</text>
<text x="2191" y="344.3" font-family='"DejaVu Sans", sans-serif' font-size="25" fill="#7a4838" text-anchor="middle">0</text>
<text x="2315" y="344.3" font-family='"DejaVu Sans", sans-serif' font-size="25" fill="#7a4838" text-anchor="middle">+&#960;</text>
<text x="2179.5" y="280" font-family='"DejaVu Sans", sans-serif' font-size="27.8" fill="#7a4838" text-anchor="middle" textLength="116" lengthAdjust="spacingAndGlyphs">Encoded</text>
<text x="2179" y="312.6" font-family='"DejaVu Sans", sans-serif' font-size="27.5" fill="#7a4838" text-anchor="middle" textLength="283" lengthAdjust="spacingAndGlyphs">&#949;&#183;Displacement (rad)</text>
<text transform="translate(1868.5,471) rotate(-90)" font-family='"DejaVu Sans", sans-serif' font-size="27" fill="#2a3238" text-anchor="middle" textLength="195" lengthAdjust="spacingAndGlyphs">Reconstructed</text>
<text transform="translate(1901,472.5) rotate(-90)" font-family='"DejaVu Sans", sans-serif' font-size="27" fill="#2a3238" text-anchor="middle" textLength="296" lengthAdjust="spacingAndGlyphs">&#949;&#183; Displacement (rad)</text>
<line x1="0" y1="1008.6" x2="2401" y2="1008.6" stroke="#2c3439" stroke-width="2.2"/>
<text x="67.9" y="981" textLength="2246.6" lengthAdjust="spacingAndGlyphs" font-family='"Liberation Sans", sans-serif' font-size="15.5" fill="#2b3741"><tspan font-weight="bold">Acquisition Parameter:</tspan> 1x1mm Resolution; 10mm Slice Thickness; 2D Acquisition; TE: 3 ms, TR: 5 ms, 15 ms, 25 ms; Flip Angle: 6.6&#176;, 11.4&#176;, 14.7&#176; (Respective Ernst Angle at T1=750ms); Simulated Wave Frequency: 50 Hz; Wave Phase Offsets NP=4; Encoding Gradients stepped in Accordance with the Ristretto MRE Scheme (ND = 1,3,5).</text>
<text x="25.8" y="1067" font-family='"Liberation Sans", sans-serif' font-size="45" fill="#2b3741" textLength="1363" lengthAdjust="spacingAndGlyphs">(C) Comparison of Theoretical Predictions and Experimental Results</text>
<text x="180.2" y="1122" font-family='"DejaVu Sans", sans-serif' font-size="29.5" fill="#2a3238" text-anchor="end">0.1</text>
<text x="180.2" y="1233.4" font-family='"DejaVu Sans", sans-serif' font-size="29.5" fill="#2a3238" text-anchor="end">0.05</text>
<text x="180.2" y="1344.8" font-family='"DejaVu Sans", sans-serif' font-size="29.5" fill="#2a3238" text-anchor="end">0</text>
<text x="180.2" y="1456.2" font-family='"DejaVu Sans", sans-serif' font-size="29.5" fill="#2a3238" text-anchor="end">-0.05</text>
<text x="180.2" y="1567.6" font-family='"DejaVu Sans", sans-serif' font-size="29.5" fill="#2a3238" text-anchor="end">-0.1</text>
<text transform="translate(55.5,1334) rotate(-90)" font-family='"DejaVu Sans", sans-serif' font-size="31.5" fill="#2a3238" text-anchor="middle" textLength="392" lengthAdjust="spacingAndGlyphs">Displacement Difference</text>
<text transform="translate(94.6,1334) rotate(-90)" font-family='"DejaVu Sans", sans-serif' font-size="31.5" fill="#2a3238" text-anchor="middle" textLength="484" lengthAdjust="spacingAndGlyphs">Reconstructed - Encoded (rad)</text>
<line x1="1994.7" y1="1219.7" x2="2032.7" y2="1219.7" stroke="#2b3741" stroke-width="3.4"/>
<text x="2051.8" y="1229.5" font-family='"Liberation Sans", sans-serif' font-size="33" fill="#2b3741" textLength="172.6" lengthAdjust="spacingAndGlyphs">Experiment</text>
<circle cx="2013.9" cy="1283" r="10.6" fill="#2b3741"/>
<text x="2051.8" y="1293.3" font-family='"Liberation Sans", sans-serif' font-size="33" fill="#2b3741" textLength="106" lengthAdjust="spacingAndGlyphs">Theory</text>
<text x="2051.8" y="1326.3" font-family='"Liberation Sans", sans-serif' font-size="33" fill="#2b3741" textLength="252" lengthAdjust="spacingAndGlyphs">(EPG Simulation)</text>
<text x="2007" y="1634.8" font-family='"Liberation Sans", sans-serif' font-size="33" fill="#2b3741">&#949;</text>
<text x="2051.8" y="1634.8" font-family='"Liberation Sans", sans-serif' font-size="33" fill="#2b3741" textLength="288" lengthAdjust="spacingAndGlyphs">Encoding Efficiency</text>
<rect x="191.1" y="1111.4" width="577.8" height="444.7" fill="#ffffff"/>
<line x1="277.2" y1="1111.4" x2="277.2" y2="1556.1" stroke="#7d8186" stroke-width="1.5"/>
<line x1="386.8" y1="1111.4" x2="386.8" y2="1556.1" stroke="#7d8186" stroke-width="1.5"/>
<line x1="496.4" y1="1111.4" x2="496.4" y2="1556.1" stroke="#7d8186" stroke-width="1.5"/>
<line x1="606" y1="1111.4" x2="606" y2="1556.1" stroke="#7d8186" stroke-width="1.5"/>
<line x1="715.6" y1="1111.4" x2="715.6" y2="1556.1" stroke="#7d8186" stroke-width="1.5"/>
<line x1="191.1" y1="1445.7" x2="768.9" y2="1445.7" stroke="#7d8186" stroke-width="1.5"/>
<line x1="191.1" y1="1334.3" x2="768.9" y2="1334.3" stroke="#7d8186" stroke-width="1.5"/>
<line x1="191.1" y1="1222.9" x2="768.9" y2="1222.9" stroke="#7d8186" stroke-width="1.5"/>
<g clip-path="url(#cc0)">
<polyline points="190.54,1225.42 213.43,1237.23 231.6,1273.56 242.5,1313.52 253.4,1348.04 269.74,1395.27 282.46,1407.98 293.36,1426.15 304.26,1395.27 318.79,1353.49 331.51,1291.73 342.41,1262.66 356.94,1231.78 369.65,1239.05 384.19,1262.66 398.72,1317.16 411.43,1357.12 424.15,1398.9 440.5,1446.13 455.03,1453.4 467.75,1424.33 478.64,1398.9 488.9,1364.39 497.98,1333.51 503.43,1298.99 510.7,1266.29 519.78,1235.41 528.86,1217.25 541.58,1207.26 554.29,1219.06 565.19,1239.05 576.09,1264.48 583.36,1291.73 590.62,1317.16 597.89,1346.22 605.16,1377.1 612.42,1393.45 621.51,1407.98 628.77,1422.52 636.04,1422.52 643.3,1398.9 652.39,1384.37 659.65,1364.39 668.74,1337.14 677.82,1302.62 686.9,1273.56 695.98,1259.03 706.88,1237.23 715.97,1248.13 725.05,1266.29 732.31,1277.19 739.58,1302.62 746.85,1320.79 754.11,1340.77 763.2,1366.2 770.46,1406.17" fill="none" stroke="#0072bd" stroke-width="2.8" stroke-linejoin="round"/>
<path d="M187.6,1201.45h7v7h-7zM195.41,1199.64h7v7h-7zM203.22,1207.66h7v7h-7zM211.02,1224.78h7v7h-7zM218.83,1249.54h7v7h-7zM226.64,1279.9h7v7h-7zM234.45,1313.38h7v7h-7zM242.26,1347.28h7v7h-7zM250.06,1378.85h7v7h-7zM257.87,1405.6h7v7h-7zM265.68,1425.4h7v7h-7zM273.49,1436.73h7v7h-7zM281.3,1438.77h7v7h-7zM289.11,1431.43h7v7h-7zM296.91,1415.44h7v7h-7zM304.72,1392.2h7v7h-7zM312.53,1363.72h7v7h-7zM320.34,1332.44h7v7h-7zM328.15,1301.02h7v7h-7zM335.95,1272.13h7v7h-7zM343.76,1248.25h7v7h-7zM351.57,1231.43h7v7h-7zM359.38,1223.16h7v7h-7zM367.19,1224.22h7v7h-7zM374.99,1234.62h7v7h-7zM382.8,1253.61h7v7h-7zM390.61,1279.72h7v7h-7zM398.42,1310.91h7v7h-7zM406.23,1344.69h7v7h-7zM414.04,1378.34h7v7h-7zM421.84,1409.15h7v7h-7zM429.65,1434.59h7v7h-7zM437.46,1452.58h7v7h-7zM445.27,1461.58h7v7h-7zM453.08,1460.8h7v7h-7zM460.88,1450.19h7v7h-7zM468.69,1430.5h7v7h-7zM476.5,1403.2h7v7h-7zM484.31,1370.35h7v7h-7zM492.12,1334.46h7v7h-7zM499.92,1298.3h7v7h-7zM507.73,1264.63h7v7h-7zM515.54,1236.03h7v7h-7zM523.35,1214.67h7v7h-7zM531.16,1202.16h7v7h-7zM538.96,1199.38h7v7h-7zM546.77,1206.46h7v7h-7zM554.58,1222.74h7v7h-7zM562.39,1246.84h7v7h-7zM570.2,1276.76h7v7h-7zM578.01,1310.05h7v7h-7zM585.81,1344.03h7v7h-7zM593.62,1375.95h7v7h-7zM601.43,1403.26h7v7h-7zM609.24,1423.82h7v7h-7zM617.05,1436.03h7v7h-7zM624.85,1438.99h7v7h-7zM632.66,1432.55h7v7h-7zM640.47,1417.35h7v7h-7zM648.28,1394.74h7v7h-7zM656.09,1366.67h7v7h-7zM663.89,1335.54h7v7h-7zM671.7,1304.01h7v7h-7zM679.51,1274.77h7v7h-7zM687.32,1250.3h7v7h-7zM695.13,1232.72h7v7h-7zM702.94,1223.57h7v7h-7zM710.74,1223.7h7v7h-7zM718.55,1233.21h7v7h-7zM726.36,1251.41h7v7h-7zM734.17,1276.92h7v7h-7zM741.98,1307.71h7v7h-7zM749.78,1341.36h7v7h-7zM757.59,1375.14h7v7h-7zM765.4,1406.34h7v7h-7z" fill="none" stroke="#0072bd" stroke-width="3.5" stroke-linejoin="round"/>
<polyline points="191.1,1327.33 198.91,1330.61 206.72,1331.24 214.52,1336.25 222.33,1331.84 230.14,1331.94 237.95,1331.18 245.76,1332.67 253.56,1331.21 261.37,1332.53 269.18,1334.99 276.99,1329.4 284.8,1329.74 292.61,1327.91 300.41,1332.76 308.22,1334.42 316.03,1335.26 323.84,1338.41 331.65,1332.12 339.45,1338.16 347.26,1338.83 355.07,1336.63 362.88,1332.49 370.69,1336.17 378.49,1339.83 386.3,1339.23 394.11,1335.83 401.92,1338.03 409.73,1339.7 417.54,1338.23 425.34,1335.53 433.15,1332.07 440.96,1340.46 448.77,1338.53 456.58,1338.67 464.38,1342.61 472.19,1338.2 480,1338.02 487.81,1331.82 495.62,1334.7 503.42,1338.21 511.23,1331.68 519.04,1333.91 526.85,1337.2 534.66,1333.75 542.46,1333.38 550.27,1333.86 558.08,1331.2 565.89,1337.12 573.7,1331.72 581.51,1328.25 589.31,1328.7 597.12,1328.11 604.93,1328.24 612.74,1327.48 620.55,1334.72 628.35,1329.8 636.16,1337.41 643.97,1334.46 651.78,1338.41 659.59,1330.95 667.39,1330.66 675.2,1335.23 683.01,1330.43 690.82,1337.42 698.63,1335.64 706.44,1336.02 714.24,1339.62 722.05,1335.9 729.86,1332.12 737.67,1340.22 745.48,1335.19 753.28,1338.05 761.09,1332.89 768.9,1336.24" fill="none" stroke="#d95319" stroke-width="2.8" stroke-linejoin="round"/>
<path d="M187.6,1333.26h7v7h-7zM195.41,1333.55h7v7h-7zM203.22,1333.76h7v7h-7zM211.02,1333.87h7v7h-7zM218.83,1333.88h7v7h-7zM226.64,1333.8h7v7h-7zM234.45,1333.64h7v7h-7zM242.26,1333.41h7v7h-7zM250.06,1333.12h7v7h-7zM257.87,1332.78h7v7h-7zM265.68,1332.43h7v7h-7zM273.49,1332.07h7v7h-7zM281.3,1331.73h7v7h-7zM289.11,1331.42h7v7h-7zM296.91,1331.16h7v7h-7zM304.72,1330.97h7v7h-7zM312.53,1330.84h7v7h-7zM320.34,1330.8h7v7h-7zM328.15,1330.84h7v7h-7zM335.95,1330.95h7v7h-7zM343.76,1331.14h7v7h-7zM351.57,1331.39h7v7h-7zM359.38,1331.7h7v7h-7zM367.19,1332.04h7v7h-7zM374.99,1332.39h7v7h-7zM382.8,1332.75h7v7h-7zM390.61,1333.08h7v7h-7zM398.42,1333.38h7v7h-7zM406.23,1333.62h7v7h-7zM414.04,1333.79h7v7h-7zM421.84,1333.88h7v7h-7zM429.65,1333.87h7v7h-7zM437.46,1333.77h7v7h-7zM445.27,1333.58h7v7h-7zM453.08,1333.29h7v7h-7zM460.88,1332.92h7v7h-7zM468.69,1332.47h7v7h-7zM476.5,1331.97h7v7h-7zM484.31,1331.42h7v7h-7zM492.12,1330.86h7v7h-7zM499.92,1330.29h7v7h-7zM507.73,1329.74h7v7h-7zM515.54,1329.22h7v7h-7zM523.35,1328.77h7v7h-7zM531.16,1328.38h7v7h-7zM538.96,1328.07h7v7h-7zM546.77,1327.86h7v7h-7zM554.58,1327.74h7v7h-7zM562.39,1327.72h7v7h-7zM570.2,1327.79h7v7h-7zM578.01,1327.94h7v7h-7zM585.81,1328.17h7v7h-7zM593.62,1328.45h7v7h-7zM601.43,1328.78h7v7h-7zM609.24,1329.14h7v7h-7zM617.05,1329.49h7v7h-7zM624.85,1329.84h7v7h-7zM632.66,1330.15h7v7h-7zM640.47,1330.41h7v7h-7zM648.28,1330.62h7v7h-7zM656.09,1330.75h7v7h-7zM663.89,1330.8h7v7h-7zM671.7,1330.77h7v7h-7zM679.51,1330.66h7v7h-7zM687.32,1330.48h7v7h-7zM695.13,1330.23h7v7h-7zM702.94,1329.93h7v7h-7zM710.74,1329.6h7v7h-7zM718.55,1329.24h7v7h-7zM726.36,1328.89h7v7h-7zM734.17,1328.55h7v7h-7zM741.98,1328.25h7v7h-7zM749.78,1328h7v7h-7zM757.59,1327.82h7v7h-7zM765.4,1327.73h7v7h-7z" fill="none" stroke="#d95319" stroke-width="3.5" stroke-linejoin="round"/>
<polyline points="191.1,1368.47 198.91,1367.55 206.72,1370.48 214.52,1355.3 222.33,1357.35 230.14,1346.19 237.95,1333.21 245.76,1328.48 253.56,1319.31 261.37,1311.69 269.18,1302.57 276.99,1295.15 284.8,1301.06 292.61,1306.72 300.41,1307.32 308.22,1317.45 316.03,1324.49 323.84,1330.67 331.65,1345.22 339.45,1351.89 347.26,1361.54 355.07,1364.87 362.88,1366.6 370.69,1370.11 378.49,1365.87 386.3,1360.62 394.11,1354.64 401.92,1347.56 409.73,1338.82 417.54,1326.01 425.34,1317.6 433.15,1303.6 440.96,1310.75 448.77,1301.05 456.58,1300.12 464.38,1299.91 472.19,1307.13 480,1317.73 487.81,1323.99 495.62,1331.89 503.42,1343.61 511.23,1349.46 519.04,1363.87 526.85,1359.62 534.66,1363.29 542.46,1368.41 550.27,1363.51 558.08,1360.15 565.89,1355.54 573.7,1344.59 581.51,1332.81 589.31,1327.07 597.12,1318.28 604.93,1310.08 612.74,1303.29 620.55,1298.01 628.35,1302.76 636.16,1302.01 643.97,1307.6 651.78,1320.06 659.59,1324.67 667.39,1333.23 675.2,1342.43 683.01,1350.25 690.82,1364.02 698.63,1363.92 706.44,1368.94 714.24,1371.41 722.05,1363.92 729.86,1358.6 737.67,1355.45 745.48,1343.02 753.28,1336.97 761.09,1326.32 768.9,1320.62" fill="none" stroke="#edb120" stroke-width="2.8" stroke-linejoin="round"/>
<path d="M187.6,1367.17h7v7h-7zM195.41,1367.21h7v7h-7zM203.22,1364.32h7v7h-7zM211.02,1358.72h7v7h-7zM218.83,1350.88h7v7h-7zM226.64,1341.41h7v7h-7zM234.45,1331.09h7v7h-7zM242.26,1320.74h7v7h-7zM250.06,1311.2h7v7h-7zM257.87,1303.25h7v7h-7zM265.68,1297.52h7v7h-7zM273.49,1294.47h7v7h-7zM281.3,1294.35h7v7h-7zM289.11,1297.18h7v7h-7zM296.91,1302.71h7v7h-7zM304.72,1310.51h7v7h-7zM312.53,1319.95h7v7h-7zM320.34,1330.26h7v7h-7zM328.15,1340.61h7v7h-7zM335.95,1350.18h7v7h-7zM343.76,1358.18h7v7h-7zM351.57,1363.97h7v7h-7zM359.38,1367.09h7v7h-7zM367.19,1367.28h7v7h-7zM374.99,1364.53h7v7h-7zM382.8,1359.05h7v7h-7zM390.61,1351.3h7v7h-7zM398.42,1341.9h7v7h-7zM406.23,1331.6h7v7h-7zM414.04,1321.23h7v7h-7zM421.84,1311.64h7v7h-7zM429.65,1303.59h7v7h-7zM437.46,1297.74h7v7h-7zM445.27,1294.55h7v7h-7zM453.08,1294.29h7v7h-7zM460.88,1296.97h7v7h-7zM468.69,1302.38h7v7h-7zM476.5,1310.09h7v7h-7zM484.31,1319.46h7v7h-7zM492.12,1329.75h7v7h-7zM499.92,1340.12h7v7h-7zM507.73,1349.74h7v7h-7zM515.54,1357.84h7v7h-7zM523.35,1363.75h7v7h-7zM531.16,1367h7v7h-7zM538.96,1367.34h7v7h-7zM546.77,1364.73h7v7h-7zM554.58,1359.38h7v7h-7zM562.39,1351.72h7v7h-7zM570.2,1342.38h7v7h-7zM578.01,1332.11h7v7h-7zM585.81,1321.73h7v7h-7zM593.62,1312.08h7v7h-7zM601.43,1303.94h7v7h-7zM609.24,1297.97h7v7h-7zM617.05,1294.64h7v7h-7zM624.85,1294.23h7v7h-7zM632.66,1296.78h7v7h-7zM640.47,1302.06h7v7h-7zM648.28,1309.67h7v7h-7zM656.09,1318.98h7v7h-7zM663.89,1329.24h7v7h-7zM671.7,1339.63h7v7h-7zM679.51,1349.3h7v7h-7zM687.32,1357.49h7v7h-7zM695.13,1363.52h7v7h-7zM702.94,1366.91h7v7h-7zM710.74,1367.39h7v7h-7zM718.55,1364.92h7v7h-7zM726.36,1359.7h7v7h-7zM734.17,1352.14h7v7h-7zM741.98,1342.87h7v7h-7zM749.78,1332.62h7v7h-7zM757.59,1322.22h7v7h-7zM765.4,1312.52h7v7h-7z" fill="none" stroke="#edb120" stroke-width="3.5" stroke-linejoin="round"/>
<polyline points="191.1,1332.38 198.91,1331.18 206.72,1335.18 214.52,1330.66 222.33,1333.64 230.14,1336.75 237.95,1334.25 245.76,1330.92 253.56,1331.63 261.37,1335.59 269.18,1330.86 276.99,1332.75 284.8,1331.38 292.61,1331.63 300.41,1335.61 308.22,1331.58 316.03,1334.14 323.84,1328.38 331.65,1330.58 339.45,1332.39 347.26,1335.15 355.07,1332.37 362.88,1332.09 370.69,1335.75 378.49,1326.57 386.3,1331.46 394.11,1327.99 401.92,1335.49 409.73,1328.14 417.54,1336.16 425.34,1334.26 433.15,1331.07 440.96,1332.39 448.77,1338.82 456.58,1335.47 464.38,1330.28 472.19,1326.94 480,1330.07 487.81,1333.26 495.62,1330.39 503.42,1335.58 511.23,1331.15 519.04,1336.12 526.85,1332.54 534.66,1332.87 542.46,1330.37 550.27,1333.33 558.08,1329.3 565.89,1333.04 573.7,1330.28 581.51,1330.41 589.31,1337.44 597.12,1332.42 604.93,1332.42 612.74,1334.6 620.55,1332.04 628.35,1336.41 636.16,1331.03 643.97,1331.15 651.78,1331.71 659.59,1325.9 667.39,1331.58 675.2,1332.34 683.01,1334.48 690.82,1331.72 698.63,1335.09 706.44,1329.12 714.24,1334.25 722.05,1332.09 729.86,1327.2 737.67,1329.41 745.48,1331.87 753.28,1328.83 761.09,1332.66 768.9,1330.39" fill="none" stroke="#7e2f8e" stroke-width="2.8" stroke-linejoin="round"/>
<path d="M187.6,1330.14h7v7h-7zM195.41,1330.14h7v7h-7zM203.22,1330.19h7v7h-7zM211.02,1330.29h7v7h-7zM218.83,1330.43h7v7h-7zM226.64,1330.61h7v7h-7zM234.45,1330.79h7v7h-7zM242.26,1330.98h7v7h-7zM250.06,1331.16h7v7h-7zM257.87,1331.3h7v7h-7zM265.68,1331.41h7v7h-7zM273.49,1331.46h7v7h-7zM281.3,1331.46h7v7h-7zM289.11,1331.41h7v7h-7zM296.91,1331.31h7v7h-7zM304.72,1331.17h7v7h-7zM312.53,1331h7v7h-7zM320.34,1330.81h7v7h-7zM328.15,1330.62h7v7h-7zM335.95,1330.45h7v7h-7zM343.76,1330.3h7v7h-7zM351.57,1330.2h7v7h-7zM359.38,1330.14h7v7h-7zM367.19,1330.14h7v7h-7zM374.99,1330.19h7v7h-7zM382.8,1330.29h7v7h-7zM390.61,1330.43h7v7h-7zM398.42,1330.6h7v7h-7zM406.23,1330.79h7v7h-7zM414.04,1330.97h7v7h-7zM421.84,1331.15h7v7h-7zM429.65,1331.29h7v7h-7zM437.46,1331.4h7v7h-7zM445.27,1331.46h7v7h-7zM453.08,1331.46h7v7h-7zM460.88,1331.42h7v7h-7zM468.69,1331.32h7v7h-7zM476.5,1331.18h7v7h-7zM484.31,1331.01h7v7h-7zM492.12,1330.82h7v7h-7zM499.92,1330.63h7v7h-7zM507.73,1330.46h7v7h-7zM515.54,1330.31h7v7h-7zM523.35,1330.2h7v7h-7zM531.16,1330.14h7v7h-7zM538.96,1330.14h7v7h-7zM546.77,1330.18h7v7h-7zM554.58,1330.28h7v7h-7zM562.39,1330.42h7v7h-7zM570.2,1330.59h7v7h-7zM578.01,1330.78h7v7h-7zM585.81,1330.96h7v7h-7zM593.62,1331.14h7v7h-7zM601.43,1331.29h7v7h-7zM609.24,1331.4h7v7h-7zM617.05,1331.46h7v7h-7zM624.85,1331.46h7v7h-7zM632.66,1331.42h7v7h-7zM640.47,1331.32h7v7h-7zM648.28,1331.18h7v7h-7zM656.09,1331.01h7v7h-7zM663.89,1330.83h7v7h-7zM671.7,1330.64h7v7h-7zM679.51,1330.46h7v7h-7zM687.32,1330.31h7v7h-7zM695.13,1330.21h7v7h-7zM702.94,1330.14h7v7h-7zM710.74,1330.13h7v7h-7zM718.55,1330.18h7v7h-7zM726.36,1330.27h7v7h-7zM734.17,1330.41h7v7h-7zM741.98,1330.58h7v7h-7zM749.78,1330.77h7v7h-7zM757.59,1330.96h7v7h-7zM765.4,1331.13h7v7h-7z" fill="none" stroke="#7e2f8e" stroke-width="3.5" stroke-linejoin="round"/>
</g>
<line x1="277.2" y1="1556.1" x2="277.2" y2="1551.1" stroke="#2a3238" stroke-width="1.6"/>
<line x1="277.2" y1="1111.4" x2="277.2" y2="1116.4" stroke="#2a3238" stroke-width="1.6"/>
<text x="277.2" y="1593.9" font-family='"DejaVu Sans", sans-serif' font-size="30" fill="#2a3238" text-anchor="middle">-4</text>
<line x1="386.8" y1="1556.1" x2="386.8" y2="1551.1" stroke="#2a3238" stroke-width="1.6"/>
<line x1="386.8" y1="1111.4" x2="386.8" y2="1116.4" stroke="#2a3238" stroke-width="1.6"/>
<text x="386.8" y="1593.9" font-family='"DejaVu Sans", sans-serif' font-size="30" fill="#2a3238" text-anchor="middle">-2</text>
<line x1="496.4" y1="1556.1" x2="496.4" y2="1551.1" stroke="#2a3238" stroke-width="1.6"/>
<line x1="496.4" y1="1111.4" x2="496.4" y2="1116.4" stroke="#2a3238" stroke-width="1.6"/>
<text x="496.4" y="1593.9" font-family='"DejaVu Sans", sans-serif' font-size="30" fill="#2a3238" text-anchor="middle">0</text>
<line x1="606" y1="1556.1" x2="606" y2="1551.1" stroke="#2a3238" stroke-width="1.6"/>
<line x1="606" y1="1111.4" x2="606" y2="1116.4" stroke="#2a3238" stroke-width="1.6"/>
<text x="606" y="1593.9" font-family='"DejaVu Sans", sans-serif' font-size="30" fill="#2a3238" text-anchor="middle">2</text>
<line x1="715.6" y1="1556.1" x2="715.6" y2="1551.1" stroke="#2a3238" stroke-width="1.6"/>
<line x1="715.6" y1="1111.4" x2="715.6" y2="1116.4" stroke="#2a3238" stroke-width="1.6"/>
<text x="715.6" y="1593.9" font-family='"DejaVu Sans", sans-serif' font-size="30" fill="#2a3238" text-anchor="middle">4</text>
<line x1="191.1" y1="1445.7" x2="196.1" y2="1445.7" stroke="#2a3238" stroke-width="1.6"/>
<line x1="768.9" y1="1445.7" x2="763.9" y2="1445.7" stroke="#2a3238" stroke-width="1.6"/>
<line x1="191.1" y1="1334.3" x2="196.1" y2="1334.3" stroke="#2a3238" stroke-width="1.6"/>
<line x1="768.9" y1="1334.3" x2="763.9" y2="1334.3" stroke="#2a3238" stroke-width="1.6"/>
<line x1="191.1" y1="1222.9" x2="196.1" y2="1222.9" stroke="#2a3238" stroke-width="1.6"/>
<line x1="768.9" y1="1222.9" x2="763.9" y2="1222.9" stroke="#2a3238" stroke-width="1.6"/>
<rect x="191.1" y="1111.4" width="577.8" height="444.7" fill="none" stroke="#2a3238" stroke-width="2.4"/>
<text x="480.1" y="1632.8" font-family='"DejaVu Sans", sans-serif' font-size="32.2" fill="#2a3238" text-anchor="middle" textLength="331" lengthAdjust="spacingAndGlyphs">&#949;&#183;Displacement (rad)</text>
<text x="577.2" y="1163.9" font-family='"DejaVu Sans", sans-serif' font-size="32.5" fill="#000">T</text>
<text x="598.7" y="1179.8" font-family='"DejaVu Sans", sans-serif' font-size="26" fill="#000">R</text>
<text x="628" y="1163.9" font-family='"DejaVu Sans", sans-serif' font-size="32.5" fill="#000" textLength="110.6" lengthAdjust="spacingAndGlyphs">= 5 ms</text>
<rect x="789.6" y="1111.4" width="577.2" height="444.7" fill="#ffffff"/>
<line x1="875.7" y1="1111.4" x2="875.7" y2="1556.1" stroke="#7d8186" stroke-width="1.5"/>
<line x1="985.3" y1="1111.4" x2="985.3" y2="1556.1" stroke="#7d8186" stroke-width="1.5"/>
<line x1="1094.9" y1="1111.4" x2="1094.9" y2="1556.1" stroke="#7d8186" stroke-width="1.5"/>
<line x1="1204.5" y1="1111.4" x2="1204.5" y2="1556.1" stroke="#7d8186" stroke-width="1.5"/>
<line x1="1314.1" y1="1111.4" x2="1314.1" y2="1556.1" stroke="#7d8186" stroke-width="1.5"/>
<line x1="789.6" y1="1445.7" x2="1366.8" y2="1445.7" stroke="#7d8186" stroke-width="1.5"/>
<line x1="789.6" y1="1334.3" x2="1366.8" y2="1334.3" stroke="#7d8186" stroke-width="1.5"/>
<line x1="789.6" y1="1222.9" x2="1366.8" y2="1222.9" stroke="#7d8186" stroke-width="1.5"/>
<g clip-path="url(#cc1)">
<polyline points="789.61,1299.74 797.5,1295.79 806.05,1305 819.21,1312.89 824.47,1320.79 832.37,1337.89 841.58,1356.32 848.16,1374.74 853.42,1387.89 860,1406.32 866.58,1403.68 875.79,1411.58 882.37,1412.89 891.58,1399.74 898.16,1398.42 904.74,1387.89 911.32,1374.74 916.58,1366.84 923.16,1356.32 928.42,1330 933.68,1311.58 937.63,1298.42 945.53,1287.89 953.42,1286.58 961.32,1287.89 969.21,1276.05 977.11,1294.47 983.68,1298.42 992.89,1310.26 1000.79,1326.05 1006.05,1337.89 1012.63,1356.32 1020.53,1370.79 1029.74,1391.84 1038.95,1397.11 1048.16,1410.26 1054.74,1418.16 1061.32,1411.58 1069.21,1405 1074.47,1393.16 1080.26,1385.26 1088.16,1360.26 1096.05,1337.89 1103.95,1311.58 1109.21,1294.47 1117.11,1283.95 1125,1280 1132.89,1276.05 1140.79,1277.37 1144.74,1282.63 1153.95,1286.58 1164.47,1293.16 1172.37,1315.53 1180.26,1335.26 1185.53,1351.05 1190.79,1362.89 1198.68,1376.05 1205.26,1390.53 1213.16,1405 1219.74,1410.26 1227.63,1416.84 1235.53,1412.89 1243.42,1395.79 1250,1383.95 1257.89,1362.89 1264.47,1351.05 1268.42,1337.89 1275,1320.79 1280.26,1311.58 1288.16,1302.37 1297.37,1293.16 1304.61,1281.32 1313.16,1295.79 1319.74,1302.37 1327.63,1297.11 1334.21,1310.26 1343.42,1328.68 1350,1341.84 1355.26,1351.05 1361.84,1364.21 1366.84,1374.74" fill="none" stroke="#0072bd" stroke-width="2.8" stroke-linejoin="round"/>
<path d="M786.1,1243.74h7v7h-7zM793.91,1243.63h7v7h-7zM801.72,1250.56h7v7h-7zM809.52,1263.95h7v7h-7zM817.33,1282.74h7v7h-7zM825.14,1305.41h7v7h-7zM832.95,1330.12h7v7h-7zM840.76,1354.89h7v7h-7zM848.56,1377.71h7v7h-7zM856.37,1396.75h7v7h-7zM864.18,1410.47h7v7h-7zM871.99,1417.77h7v7h-7zM879.8,1418.05h7v7h-7zM887.61,1411.29h7v7h-7zM895.41,1398.04h7v7h-7zM903.22,1379.37h7v7h-7zM911.03,1356.78h7v7h-7zM918.84,1332.09h7v7h-7zM926.65,1307.3h7v7h-7zM934.45,1284.41h7v7h-7zM942.26,1265.26h7v7h-7zM950.07,1251.39h7v7h-7zM957.88,1243.93h7v7h-7zM965.69,1243.47h7v7h-7zM973.49,1250.06h7v7h-7zM981.3,1263.16h7v7h-7zM989.11,1281.72h7v7h-7zM996.92,1304.24h7v7h-7zM1004.73,1328.89h7v7h-7zM1012.54,1353.71h7v7h-7zM1020.34,1376.67h7v7h-7zM1028.15,1395.93h7v7h-7zM1035.96,1409.95h7v7h-7zM1043.77,1417.57h7v7h-7zM1051.58,1418.2h7v7h-7zM1059.38,1411.78h7v7h-7zM1067.19,1398.83h7v7h-7zM1075,1380.39h7v7h-7zM1082.81,1357.95h7v7h-7zM1090.62,1333.32h7v7h-7zM1098.42,1308.48h7v7h-7zM1106.23,1285.45h7v7h-7zM1114.04,1266.08h7v7h-7zM1121.85,1251.92h7v7h-7zM1129.66,1244.13h7v7h-7zM1137.46,1243.33h7v7h-7zM1145.27,1249.58h7v7h-7zM1153.08,1262.39h7v7h-7zM1160.89,1280.71h7v7h-7zM1168.7,1303.07h7v7h-7zM1176.51,1327.67h7v7h-7zM1184.31,1352.52h7v7h-7zM1192.12,1375.62h7v7h-7zM1199.93,1395.11h7v7h-7zM1207.74,1409.4h7v7h-7zM1215.55,1417.36h7v7h-7zM1223.35,1418.34h7v7h-7zM1231.16,1412.25h7v7h-7zM1238.97,1399.6h7v7h-7zM1246.78,1381.39h7v7h-7zM1254.59,1359.11h7v7h-7zM1262.39,1334.54h7v7h-7zM1270.2,1309.67h7v7h-7zM1278.01,1286.51h7v7h-7zM1285.82,1266.91h7v7h-7zM1293.63,1252.47h7v7h-7zM1301.44,1244.35h7v7h-7zM1309.24,1243.2h7v7h-7zM1317.05,1249.12h7v7h-7zM1324.86,1261.62h7v7h-7zM1332.67,1279.71h7v7h-7zM1340.48,1301.91h7v7h-7zM1348.28,1326.45h7v7h-7zM1356.09,1351.34h7v7h-7zM1363.9,1374.56h7v7h-7z" fill="none" stroke="#0072bd" stroke-width="3.5" stroke-linejoin="round"/>
<polyline points="789.61,1335.26 798.16,1335.26 804.74,1333.95 811.32,1332.63 819.21,1327.37 828.42,1322.11 837.63,1320.79 844.21,1320.79 853.42,1320.79 860,1315.53 866.58,1311.58 874.47,1315.53 882.37,1316.84 888.95,1324.74 891.58,1333.95 899.47,1330 907.37,1330 915.26,1330 924.47,1330 931.05,1330 936.32,1328.68 942.89,1330 950.79,1335.26 960,1335.26 969.21,1332.63 977.11,1335.26 985,1331.32 990.26,1335.26 1000.79,1337.89 1008.68,1343.16 1016.58,1345.79 1024.47,1344.47 1032.37,1341.84 1040.26,1339.21 1048.16,1343.16 1056.05,1343.16 1063.95,1340.53 1071.84,1337.89 1075,1337.89 1082.89,1332.63 1090.79,1324.74 1098.68,1322.11 1106.58,1314.21 1111.84,1315.53 1117.11,1319.47 1125,1314.21 1132.89,1311.58 1140.79,1315.53 1148.68,1314.21 1156.58,1308.95 1164.47,1311.58 1172.37,1312.89 1178.95,1308.95 1185.53,1312.89 1193.42,1311.58 1201.32,1314.21 1209.21,1316.84 1217.11,1320.79 1225,1322.11 1232.89,1324.74 1239.47,1330 1250,1337.89 1257.89,1335.26 1265.79,1332.63 1272.37,1327.37 1280.26,1335.26 1288.16,1340.53 1296.05,1345.79 1303.95,1348.42 1311.84,1351.05 1319.74,1349.74 1327.63,1349.74 1336.84,1347.11 1344.74,1345.79 1353.95,1344.47 1361.84,1348.42 1366.84,1352.37" fill="none" stroke="#d95319" stroke-width="2.8" stroke-linejoin="round"/>
<path d="M786.1,1289.39h7v7h-7zM793.91,1285.75h7v7h-7zM801.72,1282.76h7v7h-7zM809.52,1281.02h7v7h-7zM817.33,1281.02h7v7h-7zM825.14,1282.64h7v7h-7zM832.95,1285.55h7v7h-7zM840.76,1289.38h7v7h-7zM848.56,1293.8h7v7h-7zM856.37,1298.46h7v7h-7zM864.18,1303.2h7v7h-7zM871.99,1307.9h7v7h-7zM879.8,1312.43h7v7h-7zM887.61,1316.67h7v7h-7zM895.41,1320.54h7v7h-7zM903.22,1324.07h7v7h-7zM911.03,1327.38h7v7h-7zM918.84,1330.58h7v7h-7zM926.65,1333.77h7v7h-7zM934.45,1337.05h7v7h-7zM942.26,1340.49h7v7h-7zM950.07,1344.15h7v7h-7zM957.88,1348.08h7v7h-7zM965.69,1352.33h7v7h-7zM973.49,1356.93h7v7h-7zM981.3,1361.72h7v7h-7zM989.11,1366.47h7v7h-7zM996.92,1370.93h7v7h-7zM1004.73,1374.87h7v7h-7zM1012.54,1378.05h7v7h-7zM1020.34,1380.18h7v7h-7zM1028.15,1380.94h7v7h-7zM1035.96,1380.06h7v7h-7zM1043.77,1377.4h7v7h-7zM1051.58,1372.82h7v7h-7zM1059.38,1366.23h7v7h-7zM1067.19,1357.76h7v7h-7zM1075,1348.61h7v7h-7zM1082.81,1339.94h7v7h-7zM1090.62,1331.63h7v7h-7zM1098.42,1323.35h7v7h-7zM1106.23,1314.77h7v7h-7zM1114.04,1305.67h7v7h-7zM1121.85,1296.94h7v7h-7zM1129.66,1289.94h7v7h-7zM1137.46,1284.97h7v7h-7zM1145.27,1281.92h7v7h-7zM1153.08,1280.7h7v7h-7zM1160.89,1281.15h7v7h-7zM1168.7,1283.03h7v7h-7zM1176.51,1286.02h7v7h-7zM1184.31,1289.83h7v7h-7zM1192.12,1294.21h7v7h-7zM1199.93,1298.92h7v7h-7zM1207.74,1303.72h7v7h-7zM1215.55,1308.38h7v7h-7zM1223.35,1312.7h7v7h-7zM1231.16,1316.69h7v7h-7zM1238.97,1320.4h7v7h-7zM1246.78,1323.88h7v7h-7zM1254.59,1327.19h7v7h-7zM1262.39,1330.38h7v7h-7zM1270.2,1333.57h7v7h-7zM1278.01,1336.85h7v7h-7zM1285.82,1340.33h7v7h-7zM1293.63,1344.12h7v7h-7zM1301.44,1348.29h7v7h-7zM1309.24,1352.77h7v7h-7zM1317.05,1357.45h7v7h-7zM1324.86,1362.19h7v7h-7zM1332.67,1366.88h7v7h-7zM1340.48,1371.37h7v7h-7zM1348.28,1375.35h7v7h-7zM1356.09,1378.47h7v7h-7zM1363.9,1380.38h7v7h-7z" fill="none" stroke="#d95319" stroke-width="3.5" stroke-linejoin="round"/>
<polyline points="789.61,1351.05 798.16,1349.74 806.05,1345.79 813.95,1341.84 821.84,1336.58 829.74,1330 837.63,1322.11 844.21,1316.84 853.42,1311.58 858.68,1308.95 866.58,1307.63 874.47,1308.95 882.37,1308.95 890.26,1314.21 898.16,1315.53 906.05,1315.53 913.95,1319.47 921.84,1320.79 927.11,1327.37 933.68,1335.26 940.26,1343.16 945.53,1326.05 950.79,1339.21 958.68,1345.79 966.58,1348.42 974.47,1351.05 977.11,1345.79 982.37,1348.42 990.26,1347.11 998.16,1343.16 1006.05,1337.89 1013.95,1330 1021.84,1322.11 1029.74,1315.53 1037.63,1316.84 1046.84,1310.26 1054.74,1315.53 1062.63,1316.84 1070.53,1308.95 1075,1307.63 1080.26,1310.26 1085.53,1320.79 1090.79,1327.37 1098.68,1332.63 1106.58,1337.89 1114.47,1341.84 1122.37,1344.47 1130.26,1345.79 1138.16,1345.79 1146.05,1344.47 1153.95,1343.16 1161.84,1337.89 1169.74,1330 1177.63,1322.11 1185.53,1315.53 1193.42,1311.58 1201.32,1310.26 1209.21,1308.95 1217.11,1308.95 1225,1306.32 1232.89,1306.32 1240.79,1307.63 1248.68,1310.26 1256.58,1316.84 1264.47,1327.37 1269.74,1327.37 1273.68,1320.79 1280.26,1331.32 1285.53,1341.84 1296.05,1356.32 1303.95,1364.21 1311.84,1361.58 1319.74,1360.26 1327.63,1356.32 1335.53,1355 1343.42,1352.37 1351.32,1332.63 1359.21,1320.79 1366.84,1324.74" fill="none" stroke="#edb120" stroke-width="2.8" stroke-linejoin="round"/>
<path d="M786.1,1346.19h7v7h-7zM793.91,1344.17h7v7h-7zM801.72,1341.21h7v7h-7zM809.52,1336.76h7v7h-7zM817.33,1331.73h7v7h-7zM825.14,1327.17h7v7h-7zM832.95,1322.76h7v7h-7zM840.76,1318.06h7v7h-7zM848.56,1313.53h7v7h-7zM856.37,1309.78h7v7h-7zM864.18,1306.99h7v7h-7zM871.99,1305.3h7v7h-7zM879.8,1305.23h7v7h-7zM887.61,1307.23h7v7h-7zM895.41,1310.38h7v7h-7zM903.22,1313.59h7v7h-7zM911.03,1317.74h7v7h-7zM918.84,1324.18h7v7h-7zM926.65,1332.64h7v7h-7zM934.45,1342.07h7v7h-7zM942.26,1350.12h7v7h-7zM950.07,1354.65h7v7h-7zM957.88,1356.8h7v7h-7zM965.69,1358.09h7v7h-7zM973.49,1358.26h7v7h-7zM981.3,1356.66h7v7h-7zM989.11,1353.34h7v7h-7zM996.92,1348.66h7v7h-7zM1004.73,1343.23h7v7h-7zM1012.54,1337.64h7v7h-7zM1020.34,1331.75h7v7h-7zM1028.15,1325.29h7v7h-7zM1035.96,1319.31h7v7h-7zM1043.77,1315.24h7v7h-7zM1051.58,1313.33h7v7h-7zM1059.38,1313.41h7v7h-7zM1067.19,1315.4h7v7h-7zM1075,1319.2h7v7h-7zM1082.81,1324.34h7v7h-7zM1090.62,1330.2h7v7h-7zM1098.42,1336.12h7v7h-7zM1106.23,1341.46h7v7h-7zM1114.04,1345.58h7v7h-7zM1121.85,1347.94h7v7h-7zM1129.66,1348.41h7v7h-7zM1137.46,1346.91h7v7h-7zM1145.27,1343.29h7v7h-7zM1153.08,1337.6h7v7h-7zM1160.89,1331.11h7v7h-7zM1168.7,1325.1h7v7h-7zM1176.51,1319.49h7v7h-7zM1184.31,1313.99h7v7h-7zM1192.12,1309.1h7v7h-7zM1199.93,1305.48h7v7h-7zM1207.74,1303.51h7v7h-7zM1215.55,1303.36h7v7h-7zM1223.35,1304.49h7v7h-7zM1231.16,1306.39h7v7h-7zM1238.97,1310.29h7v7h-7zM1246.78,1317.71h7v7h-7zM1254.59,1327.09h7v7h-7zM1262.39,1335.86h7v7h-7zM1270.2,1342.77h7v7h-7zM1278.01,1347.31h7v7h-7zM1285.82,1350.58h7v7h-7zM1293.63,1353.79h7v7h-7zM1301.44,1356.13h7v7h-7zM1309.24,1356.46h7v7h-7zM1317.05,1355.04h7v7h-7zM1324.86,1352.46h7v7h-7zM1332.67,1348.9h7v7h-7zM1340.48,1344.48h7v7h-7zM1348.28,1339.77h7v7h-7zM1356.09,1335.31h7v7h-7zM1363.9,1330.83h7v7h-7z" fill="none" stroke="#edb120" stroke-width="3.5" stroke-linejoin="round"/>
<polyline points="789.61,1362.89 798.16,1362.89 804.74,1356.32 812.63,1353.68 820.53,1358.95 828.42,1352.37 836.32,1360.26 844.21,1353.68 852.11,1345.79 860,1356.32 867.89,1364.21 875.79,1351.05 883.68,1344.47 891.58,1352.37 899.47,1347.11 907.37,1355 915.26,1348.42 923.16,1348.42 929.74,1352.37 937.63,1365.53 945.53,1362.89 954.74,1364.21 961.32,1358.95 969.21,1356.32 977.11,1355 985,1356.32 992.89,1353.68 1000.79,1360.26 1008.68,1360.26 1016.58,1361.58 1021.84,1356.32 1028.42,1348.42 1037.63,1344.47 1045.53,1352.37 1053.42,1353.68 1061.32,1353.68 1069.21,1353.68 1075,1353.68 1082.89,1353.68 1090.79,1352.37 1101.32,1358.95 1109.21,1358.95 1117.11,1348.42 1125,1344.47 1132.89,1352.37 1140.79,1357.63 1148.68,1348.42 1156.58,1345.79 1164.47,1344.47 1172.37,1337.89 1180.26,1343.16 1188.16,1347.11 1196.05,1348.42 1202.63,1352.37 1210.53,1347.11 1217.11,1352.37 1225,1351.05 1232.89,1351.05 1242.11,1341.84 1248.68,1348.42 1257.89,1356.32 1264.47,1360.26 1273.68,1351.05 1281.58,1357.63 1290.79,1353.68 1298.68,1349.74 1306.58,1345.79 1314.47,1348.42 1322.37,1345.79 1330.26,1349.74 1338.16,1348.42 1346.05,1348.42 1353.95,1348.42 1361.84,1349.74 1366.84,1352.37" fill="none" stroke="#7e2f8e" stroke-width="2.8" stroke-linejoin="round"/>
<path d="M786.1,1330.81h7v7h-7zM793.91,1329.94h7v7h-7zM801.72,1328.99h7v7h-7zM809.52,1328.01h7v7h-7zM817.33,1327.02h7v7h-7zM825.14,1326.08h7v7h-7zM832.95,1325.24h7v7h-7zM840.76,1324.56h7v7h-7zM848.56,1324.08h7v7h-7zM856.37,1323.87h7v7h-7zM864.18,1323.97h7v7h-7zM871.99,1324.41h7v7h-7zM879.8,1325.15h7v7h-7zM887.61,1326.14h7v7h-7zM895.41,1327.34h7v7h-7zM903.22,1328.72h7v7h-7zM911.03,1330.23h7v7h-7zM918.84,1331.83h7v7h-7zM926.65,1333.44h7v7h-7zM934.45,1334.97h7v7h-7zM942.26,1336.32h7v7h-7zM950.07,1337.4h7v7h-7zM957.88,1338.12h7v7h-7zM965.69,1338.38h7v7h-7zM973.49,1338.11h7v7h-7zM981.3,1337.38h7v7h-7zM989.11,1336.34h7v7h-7zM996.92,1335.11h7v7h-7zM1004.73,1333.81h7v7h-7zM1012.54,1332.58h7v7h-7zM1020.34,1331.54h7v7h-7zM1028.15,1330.78h7v7h-7zM1035.96,1330.27h7v7h-7zM1043.77,1329.97h7v7h-7zM1051.58,1329.83h7v7h-7zM1059.38,1329.82h7v7h-7zM1067.19,1329.89h7v7h-7zM1075,1329.99h7v7h-7zM1082.81,1330.09h7v7h-7zM1090.62,1330.13h7v7h-7zM1098.42,1330.09h7v7h-7zM1106.23,1329.96h7v7h-7zM1114.04,1329.73h7v7h-7zM1121.85,1329.42h7v7h-7zM1129.66,1329.02h7v7h-7zM1137.46,1328.54h7v7h-7zM1145.27,1327.99h7v7h-7zM1153.08,1327.36h7v7h-7zM1160.89,1326.67h7v7h-7zM1168.7,1325.91h7v7h-7zM1176.51,1325.14h7v7h-7zM1184.31,1324.47h7v7h-7zM1192.12,1324h7v7h-7zM1199.93,1323.84h7v7h-7zM1207.74,1324.07h7v7h-7zM1215.55,1324.71h7v7h-7zM1223.35,1325.69h7v7h-7zM1231.16,1326.94h7v7h-7zM1238.97,1328.38h7v7h-7zM1246.78,1329.93h7v7h-7zM1254.59,1331.51h7v7h-7zM1262.39,1333.06h7v7h-7zM1270.2,1334.49h7v7h-7zM1278.01,1335.74h7v7h-7zM1285.82,1336.78h7v7h-7zM1293.63,1337.58h7v7h-7zM1301.44,1338.12h7v7h-7zM1309.24,1338.38h7v7h-7zM1317.05,1338.34h7v7h-7zM1324.86,1338.05h7v7h-7zM1332.67,1337.54h7v7h-7zM1340.48,1336.87h7v7h-7zM1348.28,1336.08h7v7h-7zM1356.09,1335.22h7v7h-7zM1363.9,1334.35h7v7h-7z" fill="none" stroke="#7e2f8e" stroke-width="3.5" stroke-linejoin="round"/>
</g>
<line x1="875.7" y1="1556.1" x2="875.7" y2="1551.1" stroke="#2a3238" stroke-width="1.6"/>
<line x1="875.7" y1="1111.4" x2="875.7" y2="1116.4" stroke="#2a3238" stroke-width="1.6"/>
<text x="875.7" y="1593.9" font-family='"DejaVu Sans", sans-serif' font-size="30" fill="#2a3238" text-anchor="middle">-4</text>
<line x1="985.3" y1="1556.1" x2="985.3" y2="1551.1" stroke="#2a3238" stroke-width="1.6"/>
<line x1="985.3" y1="1111.4" x2="985.3" y2="1116.4" stroke="#2a3238" stroke-width="1.6"/>
<text x="985.3" y="1593.9" font-family='"DejaVu Sans", sans-serif' font-size="30" fill="#2a3238" text-anchor="middle">-2</text>
<line x1="1094.9" y1="1556.1" x2="1094.9" y2="1551.1" stroke="#2a3238" stroke-width="1.6"/>
<line x1="1094.9" y1="1111.4" x2="1094.9" y2="1116.4" stroke="#2a3238" stroke-width="1.6"/>
<text x="1094.9" y="1593.9" font-family='"DejaVu Sans", sans-serif' font-size="30" fill="#2a3238" text-anchor="middle">0</text>
<line x1="1204.5" y1="1556.1" x2="1204.5" y2="1551.1" stroke="#2a3238" stroke-width="1.6"/>
<line x1="1204.5" y1="1111.4" x2="1204.5" y2="1116.4" stroke="#2a3238" stroke-width="1.6"/>
<text x="1204.5" y="1593.9" font-family='"DejaVu Sans", sans-serif' font-size="30" fill="#2a3238" text-anchor="middle">2</text>
<line x1="1314.1" y1="1556.1" x2="1314.1" y2="1551.1" stroke="#2a3238" stroke-width="1.6"/>
<line x1="1314.1" y1="1111.4" x2="1314.1" y2="1116.4" stroke="#2a3238" stroke-width="1.6"/>
<text x="1314.1" y="1593.9" font-family='"DejaVu Sans", sans-serif' font-size="30" fill="#2a3238" text-anchor="middle">4</text>
<line x1="789.6" y1="1445.7" x2="794.6" y2="1445.7" stroke="#2a3238" stroke-width="1.6"/>
<line x1="1366.8" y1="1445.7" x2="1361.8" y2="1445.7" stroke="#2a3238" stroke-width="1.6"/>
<line x1="789.6" y1="1334.3" x2="794.6" y2="1334.3" stroke="#2a3238" stroke-width="1.6"/>
<line x1="1366.8" y1="1334.3" x2="1361.8" y2="1334.3" stroke="#2a3238" stroke-width="1.6"/>
<line x1="789.6" y1="1222.9" x2="794.6" y2="1222.9" stroke="#2a3238" stroke-width="1.6"/>
<line x1="1366.8" y1="1222.9" x2="1361.8" y2="1222.9" stroke="#2a3238" stroke-width="1.6"/>
<rect x="789.6" y="1111.4" width="577.2" height="444.7" fill="none" stroke="#2a3238" stroke-width="2.4"/>
<text x="1078.6" y="1632.8" font-family='"DejaVu Sans", sans-serif' font-size="32.2" fill="#2a3238" text-anchor="middle" textLength="331" lengthAdjust="spacingAndGlyphs">&#949;&#183;Displacement (rad)</text>
<text x="1155.6" y="1163.9" font-family='"DejaVu Sans", sans-serif' font-size="32.5" fill="#000">T</text>
<text x="1177.1" y="1179.8" font-family='"DejaVu Sans", sans-serif' font-size="26" fill="#000">R</text>
<text x="1206.4" y="1163.9" font-family='"DejaVu Sans", sans-serif' font-size="32.5" fill="#000" textLength="130.1" lengthAdjust="spacingAndGlyphs">= 15 ms</text>
<text x="1336.2" y="1215.5" font-family='"DejaVu Sans", sans-serif' font-size="31.8" fill="#8b0a0a" text-anchor="end"><tspan font-family='"Liberation Serif", serif' font-size="40" dy="5.2">&#215;</tspan><tspan dy="-5.2">2.0</tspan></text>
<rect x="1387.9" y="1111.4" width="577.8" height="444.7" fill="#ffffff"/>
<line x1="1474" y1="1111.4" x2="1474" y2="1556.1" stroke="#7d8186" stroke-width="1.5"/>
<line x1="1583.6" y1="1111.4" x2="1583.6" y2="1556.1" stroke="#7d8186" stroke-width="1.5"/>
<line x1="1693.2" y1="1111.4" x2="1693.2" y2="1556.1" stroke="#7d8186" stroke-width="1.5"/>
<line x1="1802.8" y1="1111.4" x2="1802.8" y2="1556.1" stroke="#7d8186" stroke-width="1.5"/>
<line x1="1912.4" y1="1111.4" x2="1912.4" y2="1556.1" stroke="#7d8186" stroke-width="1.5"/>
<line x1="1387.9" y1="1445.7" x2="1965.7" y2="1445.7" stroke="#7d8186" stroke-width="1.5"/>
<line x1="1387.9" y1="1334.3" x2="1965.7" y2="1334.3" stroke="#7d8186" stroke-width="1.5"/>
<line x1="1387.9" y1="1222.9" x2="1965.7" y2="1222.9" stroke="#7d8186" stroke-width="1.5"/>
<g clip-path="url(#cc2)">
<polyline points="1387.63,1380 1395.53,1374.74 1404.74,1358.29 1415.26,1380 1427.11,1386.58 1435,1405 1441.58,1405.66 1450.79,1420.13 1458.68,1426.05 1466.58,1420.13 1474.47,1420.79 1482.37,1419.47 1490.26,1426.05 1496.84,1415.53 1504.74,1408.95 1511.32,1397.11 1521.84,1381.32 1526.45,1364.21 1529.74,1352.37 1536.32,1340.53 1544.21,1345.79 1552.11,1322.11 1560,1339.21 1567.89,1343.16 1575.79,1322.11 1583.68,1322.11 1595.53,1333.95 1600.79,1343.16 1606.05,1360.26 1611.32,1362.89 1619.21,1369.47 1621.84,1382.63 1629.74,1391.84 1637.63,1406.32 1645.53,1408.95 1654.74,1401.05 1667.89,1397.11 1675,1393.16 1682.89,1376.05 1692.11,1360.26 1701.32,1359.61 1709.21,1353.68 1718.42,1345.79 1722.37,1341.84 1730.26,1341.84 1738.16,1333.95 1747.37,1324.74 1752.63,1339.21 1756.58,1345.79 1769.74,1357.63 1780.26,1374.74 1788.16,1390.53 1794.74,1411.58 1801.32,1405 1809.21,1412.89 1817.11,1416.84 1825,1411.58 1832.89,1418.16 1842.11,1412.89 1850,1402.37 1859.21,1389.21 1872.37,1378.68 1875,1364.21 1877.63,1348.42 1885.53,1345.79 1896.05,1341.84 1903.95,1344.47 1911.84,1343.16 1918.42,1348.42 1925,1351.05 1932.89,1355 1940.79,1360.26 1946.05,1372.11 1951.32,1382.63 1957.89,1383.95 1965.26,1389.21" fill="none" stroke="#0072bd" stroke-width="2.8" stroke-linejoin="round"/>
<path d="M1384.4,1274.16h7v7h-7zM1392.21,1275.21h7v7h-7zM1400.02,1281.24h7v7h-7zM1407.82,1291.84h7v7h-7zM1415.63,1306.19h7v7h-7zM1423.44,1323.18h7v7h-7zM1431.25,1341.44h7v7h-7zM1439.06,1359.52h7v7h-7zM1446.86,1375.94h7v7h-7zM1454.67,1389.38h7v7h-7zM1462.48,1398.7h7v7h-7zM1470.29,1403.11h7v7h-7zM1478.1,1402.2h7v7h-7zM1485.91,1395.98h7v7h-7zM1493.71,1384.86h7v7h-7zM1501.52,1369.67h7v7h-7zM1509.33,1351.54h7v7h-7zM1517.14,1331.83h7v7h-7zM1524.95,1312.05h7v7h-7zM1532.75,1293.69h7v7h-7zM1540.56,1278.14h7v7h-7zM1548.37,1266.56h7v7h-7zM1556.18,1259.8h7v7h-7zM1563.99,1258.34h7v7h-7zM1571.79,1262.21h7v7h-7zM1579.6,1271.06h7v7h-7zM1587.41,1284.11h7v7h-7zM1595.22,1300.29h7v7h-7zM1603.03,1318.26h7v7h-7zM1610.84,1336.57h7v7h-7zM1618.64,1353.75h7v7h-7zM1626.45,1368.43h7v7h-7zM1634.26,1379.46h7v7h-7zM1642.07,1386h7v7h-7zM1649.88,1387.57h7v7h-7zM1657.68,1384.11h7v7h-7zM1665.49,1375.98h7v7h-7zM1673.3,1363.92h7v7h-7zM1681.11,1348.99h7v7h-7zM1688.92,1332.49h7v7h-7zM1696.72,1315.84h7v7h-7zM1704.53,1300.49h7v7h-7zM1712.34,1287.76h7v7h-7zM1720.15,1278.77h7v7h-7zM1727.96,1274.33h7v7h-7zM1735.76,1274.88h7v7h-7zM1743.57,1280.44h7v7h-7zM1751.38,1290.63h7v7h-7zM1759.19,1304.66h7v7h-7zM1767,1321.44h7v7h-7zM1774.81,1339.64h7v7h-7zM1782.61,1357.8h7v7h-7zM1790.42,1374.45h7v7h-7zM1798.23,1388.23h7v7h-7zM1806.04,1397.99h7v7h-7zM1813.85,1402.91h7v7h-7zM1821.65,1402.53h7v7h-7zM1829.46,1396.81h7v7h-7zM1837.27,1386.14h7v7h-7zM1845.08,1371.3h7v7h-7zM1852.89,1353.4h7v7h-7zM1860.69,1333.78h7v7h-7zM1868.5,1313.94h7v7h-7zM1876.31,1295.38h7v7h-7zM1884.12,1279.49h7v7h-7zM1891.93,1267.48h7v7h-7zM1899.74,1260.23h7v7h-7zM1907.54,1258.24h7v7h-7zM1915.35,1261.6h7v7h-7zM1923.16,1269.99h7v7h-7zM1930.97,1282.68h7v7h-7zM1938.78,1298.61h7v7h-7zM1946.58,1316.47h7v7h-7zM1954.39,1334.81h7v7h-7zM1962.2,1352.17h7v7h-7z" fill="none" stroke="#0072bd" stroke-width="3.5" stroke-linejoin="round"/>
<polyline points="1385,1343.16 1392.89,1330 1403.42,1322.11 1411.32,1324.74 1419.21,1324.74 1428.42,1316.84 1435,1315.53 1442.89,1322.11 1450.79,1331.32 1456.05,1314.21 1463.95,1316.84 1474.47,1322.11 1482.37,1320.79 1490.26,1331.32 1498.16,1327.37 1508.68,1335.26 1516.58,1345.79 1523.16,1355 1529.74,1360.26 1538.95,1356.32 1546.84,1360.26 1554.74,1356.32 1562.63,1356.32 1571.84,1368.16 1579.74,1394.47 1591.58,1381.32 1599.47,1386.58 1607.37,1411.58 1615.26,1403.68 1624.47,1393.16 1635,1393.16 1642.89,1393.16 1654.74,1383.95 1663.95,1374.74 1671.84,1361.58 1675,1362.89 1682.89,1360.26 1690.79,1348.42 1701.32,1337.89 1709.21,1322.11 1715.79,1311.58 1723.68,1323.42 1731.58,1314.21 1738.16,1315.53 1748.68,1306.32 1752.63,1298.42 1756.58,1290.53 1761.84,1294.47 1771.05,1298.42 1778.95,1295.79 1786.84,1297.11 1794.74,1295.79 1797.37,1303.68 1802.63,1323.42 1811.84,1319.47 1819.74,1330 1826.32,1337.89 1832.89,1331.32 1839.47,1328.68 1846.05,1339.21 1853.95,1348.42 1861.84,1352.37 1868.42,1356.32 1877.63,1353.68 1882.89,1356.32 1890.79,1361.58 1898.68,1369.47 1909.21,1373.42 1918.42,1369.47 1927.63,1391.84 1932.89,1389.21 1942.11,1378.68 1951.32,1403.68 1957.89,1406.32 1965.26,1410.26" fill="none" stroke="#d95319" stroke-width="2.8" stroke-linejoin="round"/>
<path d="M1384.4,1259.57h7v7h-7zM1392.21,1252.18h7v7h-7zM1400.02,1245.98h7v7h-7zM1407.82,1241.38h7v7h-7zM1415.63,1238.8h7v7h-7zM1423.44,1238.47h7v7h-7zM1431.25,1240.17h7v7h-7zM1439.06,1243.57h7v7h-7zM1446.86,1248.35h7v7h-7zM1454.67,1254.21h7v7h-7zM1462.48,1260.9h7v7h-7zM1470.29,1268.66h7v7h-7zM1478.1,1277.91h7v7h-7zM1485.91,1289.05h7v7h-7zM1493.71,1302.26h7v7h-7zM1501.52,1316.21h7v7h-7zM1509.33,1329.18h7v7h-7zM1517.14,1340.68h7v7h-7zM1524.95,1350.86h7v7h-7zM1532.75,1359.86h7v7h-7zM1540.56,1367.83h7v7h-7zM1548.37,1374.92h7v7h-7zM1556.18,1381.26h7v7h-7zM1563.99,1387.03h7v7h-7zM1571.79,1392.71h7v7h-7zM1579.6,1399.02h7v7h-7zM1587.41,1406.3h7v7h-7zM1595.22,1413.29h7v7h-7zM1603.03,1418.55h7v7h-7zM1610.84,1421.73h7v7h-7zM1618.64,1422.84h7v7h-7zM1626.45,1421.89h7v7h-7zM1634.26,1418.94h7v7h-7zM1642.07,1414.04h7v7h-7zM1649.88,1407.18h7v7h-7zM1657.68,1397.94h7v7h-7zM1665.49,1385.76h7v7h-7zM1673.3,1370.25h7v7h-7zM1681.11,1352.18h7v7h-7zM1688.92,1332.78h7v7h-7zM1696.72,1313.24h7v7h-7zM1704.53,1294.81h7v7h-7zM1712.34,1278.69h7v7h-7zM1720.15,1265.85h7v7h-7zM1727.96,1256.07h7v7h-7zM1735.76,1248.77h7v7h-7zM1743.57,1243.49h7v7h-7zM1751.38,1240.14h7v7h-7zM1759.19,1238.79h7v7h-7zM1767,1239.48h7v7h-7zM1774.81,1242.24h7v7h-7zM1782.61,1247.09h7v7h-7zM1790.42,1253.82h7v7h-7zM1798.23,1261.17h7v7h-7zM1806.04,1267.7h7v7h-7zM1813.85,1273.45h7v7h-7zM1821.65,1279.14h7v7h-7zM1829.46,1285.35h7v7h-7zM1837.27,1292.28h7v7h-7zM1845.08,1300.06h7v7h-7zM1852.89,1308.84h7v7h-7zM1860.69,1318.77h7v7h-7zM1868.5,1330h7v7h-7zM1876.31,1342.66h7v7h-7zM1884.12,1356.53h7v7h-7zM1891.93,1370.04h7v7h-7zM1899.74,1381.62h7v7h-7zM1907.54,1391.21h7v7h-7zM1915.35,1399.24h7v7h-7zM1923.16,1406.11h7v7h-7zM1930.97,1412.15h7v7h-7zM1938.78,1417.17h7v7h-7zM1946.58,1420.88h7v7h-7zM1954.39,1422.94h7v7h-7zM1962.2,1423.05h7v7h-7z" fill="none" stroke="#d95319" stroke-width="3.5" stroke-linejoin="round"/>
<polyline points="1387.63,1378.68 1395.53,1376.05 1403.42,1353.68 1411.32,1360.26 1419.21,1378.68 1427.11,1368.16 1435,1348.42 1441.58,1339.21 1450.79,1339.21 1458.68,1341.84 1466.58,1336.58 1474.47,1330 1482.37,1339.21 1490.26,1352.37 1496.84,1352.37 1506.05,1349.74 1513.95,1345.79 1523.16,1345.79 1529.74,1345.79 1536.32,1348.42 1545.53,1352.37 1556.05,1361.58 1563.95,1364.21 1571.84,1374.74 1579.74,1362.89 1583.68,1341.84 1590.26,1361.58 1598.16,1358.95 1608.68,1353.68 1619.21,1349.74 1627.11,1349.74 1637.63,1360.26 1648.16,1353.68 1658.68,1351.05 1669.21,1358.95 1675,1353.68 1682.89,1351.05 1692.11,1345.79 1701.32,1347.11 1710.53,1347.11 1718.42,1340.53 1725,1344.47 1732.89,1365.53 1739.47,1365.53 1746.05,1353.68 1753.95,1349.74 1761.84,1351.05 1769.74,1348.42 1778.95,1328.68 1784.21,1341.84 1793.42,1341.84 1801.32,1343.16 1809.21,1335.26 1817.11,1340.53 1825,1348.42 1832.89,1344.47 1842.11,1343.16 1850,1348.42 1856.58,1360.26 1861.84,1353.68 1869.74,1352.37 1875,1348.42 1882.89,1355 1888.16,1362.89 1898.68,1372.11 1909.21,1376.05 1919.74,1378.68 1930.26,1374.74 1934.21,1364.21 1942.11,1358.95 1951.32,1361.58 1959.21,1356.32 1965.26,1353.68" fill="none" stroke="#edb120" stroke-width="2.8" stroke-linejoin="round"/>
<path d="M1384.4,1337.5h7v7h-7zM1392.21,1334.33h7v7h-7zM1400.02,1329.33h7v7h-7zM1407.82,1324.02h7v7h-7zM1415.63,1319.88h7v7h-7zM1423.44,1316.06h7v7h-7zM1431.25,1311.48h7v7h-7zM1439.06,1306.85h7v7h-7zM1446.86,1303.11h7v7h-7zM1454.67,1300.41h7v7h-7zM1462.48,1298.79h7v7h-7zM1470.29,1298.82h7v7h-7zM1478.1,1301.02h7v7h-7zM1485.91,1304.82h7v7h-7zM1493.71,1309.47h7v7h-7zM1501.52,1315.04h7v7h-7zM1509.33,1321.82h7v7h-7zM1517.14,1329.34h7v7h-7zM1524.95,1336.86h7v7h-7zM1532.75,1343.77h7v7h-7zM1540.56,1349.59h7v7h-7zM1548.37,1354.41h7v7h-7zM1556.18,1358.53h7v7h-7zM1563.99,1361.52h7v7h-7zM1571.79,1362.77h7v7h-7zM1579.6,1362.34h7v7h-7zM1587.41,1360.64h7v7h-7zM1595.22,1357.74h7v7h-7zM1603.03,1353.65h7v7h-7zM1610.84,1348.85h7v7h-7zM1618.64,1344.06h7v7h-7zM1626.45,1339.64h7v7h-7zM1634.26,1335.77h7v7h-7zM1642.07,1332.6h7v7h-7zM1649.88,1330.29h7v7h-7zM1657.68,1329.1h7v7h-7zM1665.49,1329.31h7v7h-7zM1673.3,1330.29h7v7h-7zM1681.11,1330.85h7v7h-7zM1688.92,1330.82h7v7h-7zM1696.72,1330.73h7v7h-7zM1704.53,1331.13h7v7h-7zM1712.34,1332.11h7v7h-7zM1720.15,1332.57h7v7h-7zM1727.96,1331.65h7v7h-7zM1735.76,1329.54h7v7h-7zM1743.57,1326.53h7v7h-7zM1751.38,1322.78h7v7h-7zM1759.19,1318.46h7v7h-7zM1767,1313.73h7v7h-7zM1774.81,1308.88h7v7h-7zM1782.61,1304.59h7v7h-7zM1790.42,1301.44h7v7h-7zM1798.23,1299.5h7v7h-7zM1806.04,1298.8h7v7h-7zM1813.85,1299.68h7v7h-7zM1821.65,1302.36h7v7h-7zM1829.46,1306.3h7v7h-7zM1837.27,1310.98h7v7h-7zM1845.08,1316.56h7v7h-7zM1852.89,1323.28h7v7h-7zM1860.69,1330.73h7v7h-7zM1868.5,1338.31h7v7h-7zM1876.31,1345.29h7v7h-7zM1884.12,1351.1h7v7h-7zM1891.93,1355.9h7v7h-7zM1899.74,1359.92h7v7h-7zM1907.54,1362.51h7v7h-7zM1915.35,1362.96h7v7h-7zM1923.16,1361.61h7v7h-7zM1930.97,1359.11h7v7h-7zM1938.78,1355.59h7v7h-7zM1946.58,1351.08h7v7h-7zM1954.39,1346.4h7v7h-7zM1962.2,1342.46h7v7h-7z" fill="none" stroke="#edb120" stroke-width="3.5" stroke-linejoin="round"/>
<polyline points="1387.63,1368.16 1395.53,1376.05 1404.74,1370.79 1419.21,1368.16 1428.42,1355 1435,1345.79 1441.58,1343.16 1450.79,1360.26 1458.68,1351.05 1466.58,1351.05 1474.47,1343.16 1482.37,1349.74 1490.26,1357.63 1496.84,1341.84 1504.74,1343.16 1511.32,1337.89 1516.58,1345.79 1523.16,1357.63 1528.42,1365.53 1538.95,1360.26 1546.84,1355 1556.05,1353.68 1563.95,1355 1571.84,1360.26 1579.74,1365.53 1587.63,1360.26 1595.53,1356.32 1600.79,1353.68 1608.68,1351.05 1616.58,1361.58 1621.84,1372.11 1627.11,1351.05 1629.74,1345.79 1640.26,1345.79 1648.16,1345.79 1658.68,1345.79 1667.89,1343.16 1675,1349.74 1685.53,1347.11 1696.05,1341.84 1707.89,1337.89 1718.42,1340.53 1727.63,1345.79 1736.84,1352.37 1746.05,1356.32 1753.95,1343.16 1761.84,1345.79 1771.05,1351.05 1778.95,1340.53 1788.16,1339.21 1794.74,1339.21 1801.32,1344.47 1810.53,1335.26 1818.42,1347.11 1825,1337.89 1832.89,1349.74 1840.79,1335.26 1848.68,1341.84 1859.21,1347.11 1864.47,1344.47 1872.37,1368.16 1881.58,1361.58 1885.53,1358.95 1896.05,1372.11 1903.95,1381.32 1911.84,1369.47 1919.74,1361.58 1927.63,1358.95 1935.53,1370.79 1940.79,1364.21 1946.05,1355 1952.63,1357.63 1959.21,1361.58 1965.26,1357.63" fill="none" stroke="#7e2f8e" stroke-width="2.8" stroke-linejoin="round"/>
<path d="M1384.4,1330.59h7v7h-7zM1392.21,1328.54h7v7h-7zM1400.02,1326.28h7v7h-7zM1407.82,1323.95h7v7h-7zM1415.63,1321.71h7v7h-7zM1423.44,1319.56h7v7h-7zM1431.25,1317.52h7v7h-7zM1439.06,1315.62h7v7h-7zM1446.86,1314.09h7v7h-7zM1454.67,1313.22h7v7h-7zM1462.48,1313.23h7v7h-7zM1470.29,1313.98h7v7h-7zM1478.1,1315.3h7v7h-7zM1485.91,1317.15h7v7h-7zM1493.71,1319.57h7v7h-7zM1501.52,1322.57h7v7h-7zM1509.33,1326.09h7v7h-7zM1517.14,1330.03h7v7h-7zM1524.95,1334.24h7v7h-7zM1532.75,1338.36h7v7h-7zM1540.56,1341.93h7v7h-7zM1548.37,1344.54h7v7h-7zM1556.18,1346.26h7v7h-7zM1563.99,1347.33h7v7h-7zM1571.79,1347.95h7v7h-7zM1579.6,1348.11h7v7h-7zM1587.41,1347.72h7v7h-7zM1595.22,1346.66h7v7h-7zM1603.03,1345.02h7v7h-7zM1610.84,1342.99h7v7h-7zM1618.64,1340.74h7v7h-7zM1626.45,1338.44h7v7h-7zM1634.26,1336.28h7v7h-7zM1642.07,1334.43h7v7h-7zM1649.88,1332.96h7v7h-7zM1657.68,1331.89h7v7h-7zM1665.49,1331.22h7v7h-7zM1673.3,1330.89h7v7h-7zM1681.11,1330.78h7v7h-7zM1688.92,1330.8h7v7h-7zM1696.72,1330.82h7v7h-7zM1704.53,1330.75h7v7h-7zM1712.34,1330.47h7v7h-7zM1720.15,1329.88h7v7h-7zM1727.96,1328.89h7v7h-7zM1735.76,1327.5h7v7h-7zM1743.57,1325.72h7v7h-7zM1751.38,1323.61h7v7h-7zM1759.19,1321.33h7v7h-7zM1767,1319.05h7v7h-7zM1774.81,1316.96h7v7h-7zM1782.61,1315.23h7v7h-7zM1790.42,1314.04h7v7h-7zM1798.23,1313.52h7v7h-7zM1806.04,1313.58h7v7h-7zM1813.85,1314.12h7v7h-7zM1821.65,1315.08h7v7h-7zM1829.46,1316.65h7v7h-7zM1837.27,1319.07h7v7h-7zM1845.08,1322.46h7v7h-7zM1852.89,1326.51h7v7h-7zM1860.69,1330.74h7v7h-7zM1868.5,1334.75h7v7h-7zM1876.31,1338.36h7v7h-7zM1884.12,1341.48h7v7h-7zM1891.93,1344.01h7v7h-7zM1899.74,1345.97h7v7h-7zM1907.54,1347.39h7v7h-7zM1915.35,1348.27h7v7h-7zM1923.16,1348.45h7v7h-7zM1930.97,1347.74h7v7h-7zM1938.78,1346.33h7v7h-7zM1946.58,1344.48h7v7h-7zM1954.39,1342.46h7v7h-7zM1962.2,1340.33h7v7h-7z" fill="none" stroke="#7e2f8e" stroke-width="3.5" stroke-linejoin="round"/>
</g>
<line x1="1474" y1="1556.1" x2="1474" y2="1551.1" stroke="#2a3238" stroke-width="1.6"/>
<line x1="1474" y1="1111.4" x2="1474" y2="1116.4" stroke="#2a3238" stroke-width="1.6"/>
<text x="1474" y="1593.9" font-family='"DejaVu Sans", sans-serif' font-size="30" fill="#2a3238" text-anchor="middle">-4</text>
<line x1="1583.6" y1="1556.1" x2="1583.6" y2="1551.1" stroke="#2a3238" stroke-width="1.6"/>
<line x1="1583.6" y1="1111.4" x2="1583.6" y2="1116.4" stroke="#2a3238" stroke-width="1.6"/>
<text x="1583.6" y="1593.9" font-family='"DejaVu Sans", sans-serif' font-size="30" fill="#2a3238" text-anchor="middle">-2</text>
<line x1="1693.2" y1="1556.1" x2="1693.2" y2="1551.1" stroke="#2a3238" stroke-width="1.6"/>
<line x1="1693.2" y1="1111.4" x2="1693.2" y2="1116.4" stroke="#2a3238" stroke-width="1.6"/>
<text x="1693.2" y="1593.9" font-family='"DejaVu Sans", sans-serif' font-size="30" fill="#2a3238" text-anchor="middle">0</text>
<line x1="1802.8" y1="1556.1" x2="1802.8" y2="1551.1" stroke="#2a3238" stroke-width="1.6"/>
<line x1="1802.8" y1="1111.4" x2="1802.8" y2="1116.4" stroke="#2a3238" stroke-width="1.6"/>
<text x="1802.8" y="1593.9" font-family='"DejaVu Sans", sans-serif' font-size="30" fill="#2a3238" text-anchor="middle">2</text>
<line x1="1912.4" y1="1556.1" x2="1912.4" y2="1551.1" stroke="#2a3238" stroke-width="1.6"/>
<line x1="1912.4" y1="1111.4" x2="1912.4" y2="1116.4" stroke="#2a3238" stroke-width="1.6"/>
<text x="1912.4" y="1593.9" font-family='"DejaVu Sans", sans-serif' font-size="30" fill="#2a3238" text-anchor="middle">4</text>
<line x1="1387.9" y1="1445.7" x2="1392.9" y2="1445.7" stroke="#2a3238" stroke-width="1.6"/>
<line x1="1965.7" y1="1445.7" x2="1960.7" y2="1445.7" stroke="#2a3238" stroke-width="1.6"/>
<line x1="1387.9" y1="1334.3" x2="1392.9" y2="1334.3" stroke="#2a3238" stroke-width="1.6"/>
<line x1="1965.7" y1="1334.3" x2="1960.7" y2="1334.3" stroke="#2a3238" stroke-width="1.6"/>
<line x1="1387.9" y1="1222.9" x2="1392.9" y2="1222.9" stroke="#2a3238" stroke-width="1.6"/>
<line x1="1965.7" y1="1222.9" x2="1960.7" y2="1222.9" stroke="#2a3238" stroke-width="1.6"/>
<rect x="1387.9" y="1111.4" width="577.8" height="444.7" fill="none" stroke="#2a3238" stroke-width="2.4"/>
<text x="1676.9" y="1632.8" font-family='"DejaVu Sans", sans-serif' font-size="32.2" fill="#2a3238" text-anchor="middle" textLength="331" lengthAdjust="spacingAndGlyphs">&#949;&#183;Displacement (rad)</text>
<text x="1754.5" y="1163.9" font-family='"DejaVu Sans", sans-serif' font-size="32.5" fill="#000">T</text>
<text x="1776" y="1179.8" font-family='"DejaVu Sans", sans-serif' font-size="26" fill="#000">R</text>
<text x="1805.3" y="1163.9" font-family='"DejaVu Sans", sans-serif' font-size="32.5" fill="#000" textLength="130.1" lengthAdjust="spacingAndGlyphs">= 25 ms</text>
<text x="1935.1" y="1215.5" font-family='"DejaVu Sans", sans-serif' font-size="31.8" fill="#8b0a0a" text-anchor="end"><tspan font-family='"Liberation Serif", serif' font-size="40" dy="5.2">&#215;</tspan><tspan dy="-5.2">4.0</tspan></text>
<rect x="804.5" y="1126.2" width="198" height="134.5" fill="#fff" stroke="#262626" stroke-width="1.5"/>
<line x1="811.4" y1="1145" x2="865.9" y2="1145" stroke="#0072bd" stroke-width="3.6"/>
<text x="873" y="1154.1" font-family='"DejaVu Sans", sans-serif' font-size="25.5" fill="#000">phi=0&#176;</text>
<line x1="811.4" y1="1177.27" x2="865.9" y2="1177.27" stroke="#d95319" stroke-width="3.6"/>
<text x="873" y="1186.37" font-family='"DejaVu Sans", sans-serif' font-size="25.5" fill="#000">phi=117&#176;</text>
<line x1="811.4" y1="1209.54" x2="865.9" y2="1209.54" stroke="#edb120" stroke-width="3.6"/>
<text x="873" y="1218.64" font-family='"DejaVu Sans", sans-serif' font-size="25.5" fill="#000">phi=150&#176;</text>
<line x1="811.4" y1="1241.81" x2="865.9" y2="1241.81" stroke="#7e2f8e" stroke-width="3.6"/>
<text x="873" y="1250.91" font-family='"DejaVu Sans", sans-serif' font-size="25.5" fill="#000">phi=158&#176;</text></svg>
</body></html>
